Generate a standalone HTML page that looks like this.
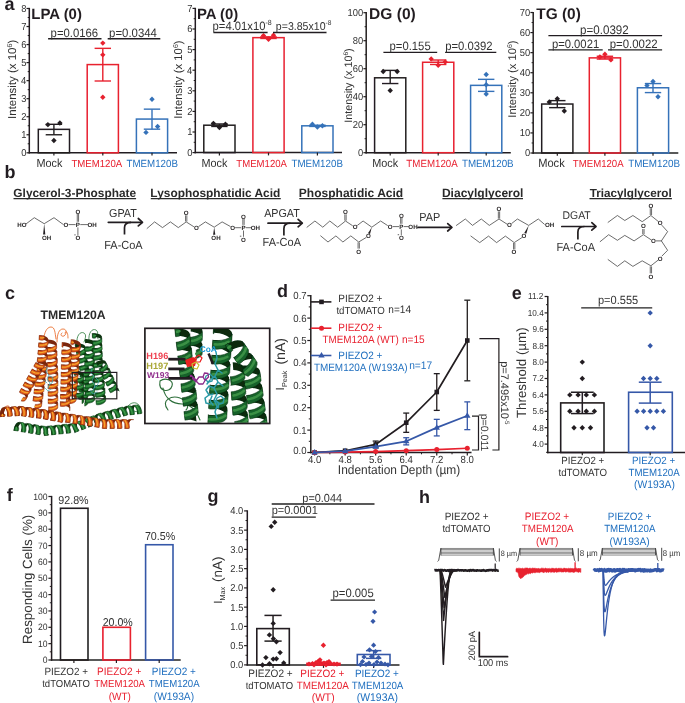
<!DOCTYPE html>
<html><head><meta charset="utf-8"><title>Figure</title>
<style>html,body{margin:0;padding:0;background:#fff;overflow:hidden;}svg{display:block;}</style></head>
<body><svg width="685" height="703" viewBox="0 0 685 703" font-family="'Liberation Sans', Arial, Helvetica, sans-serif" fill="#231f20" text-rendering="geometricPrecision">
<defs><filter id="soft" x="0" y="0" width="1" height="1"><feGaussianBlur stdDeviation="0.35"/></filter></defs>
<rect width="685" height="703" fill="#fff"/>
<g filter="url(#soft)">
<line x1="29.3" y1="7.88" x2="29.3" y2="153.5" stroke="#231f20" stroke-width="1.5"/>
<line x1="28.6" y1="152.8" x2="177" y2="152.8" stroke="#231f20" stroke-width="1.5"/>
<line x1="26.5" y1="152.8" x2="29.3" y2="152.8" stroke="#231f20" stroke-width="1.2"/>
<text x="21.14" y="156.17" font-size="9.4" transform="matrix(1 0 0 1.07 0 -10.93)" fill="#333333">0</text>
<line x1="26.5" y1="134.76" x2="29.3" y2="134.76" stroke="#231f20" stroke-width="1.2"/>
<text x="21.23" y="138.13" font-size="9.4" transform="matrix(1 0 0 1.07 0 -9.67)" fill="#333333">1</text>
<line x1="26.5" y1="116.72" x2="29.3" y2="116.72" stroke="#231f20" stroke-width="1.2"/>
<text x="21.24" y="120.09" font-size="9.4" transform="matrix(1 0 0 1.07 0 -8.41)" fill="#333333">2</text>
<line x1="26.5" y1="98.68" x2="29.3" y2="98.68" stroke="#231f20" stroke-width="1.2"/>
<text x="21.19" y="102.05" font-size="9.4" transform="matrix(1 0 0 1.07 0 -7.14)" fill="#333333">3</text>
<line x1="26.5" y1="80.64" x2="29.3" y2="80.64" stroke="#231f20" stroke-width="1.2"/>
<text x="21.05" y="84.01" font-size="9.4" transform="matrix(1 0 0 1.07 0 -5.88)" fill="#333333">4</text>
<line x1="26.5" y1="62.6" x2="29.3" y2="62.6" stroke="#231f20" stroke-width="1.2"/>
<text x="21.17" y="65.97" font-size="9.4" transform="matrix(1 0 0 1.07 0 -4.62)" fill="#333333">5</text>
<line x1="26.5" y1="44.56" x2="29.3" y2="44.56" stroke="#231f20" stroke-width="1.2"/>
<text x="21.19" y="47.93" font-size="9.4" transform="matrix(1 0 0 1.07 0 -3.35)" fill="#333333">6</text>
<line x1="26.5" y1="26.52" x2="29.3" y2="26.52" stroke="#231f20" stroke-width="1.2"/>
<text x="21.24" y="29.89" font-size="9.4" transform="matrix(1 0 0 1.07 0 -2.09)" fill="#333333">7</text>
<line x1="26.5" y1="8.48" x2="29.3" y2="8.48" stroke="#231f20" stroke-width="1.2"/>
<text x="21.18" y="11.85" font-size="9.4" transform="matrix(1 0 0 1.07 0 -0.83)" fill="#333333">8</text>
<line x1="27.7" y1="143.78" x2="29.3" y2="143.78" stroke="#231f20" stroke-width="1"/>
<line x1="27.7" y1="125.74" x2="29.3" y2="125.74" stroke="#231f20" stroke-width="1"/>
<line x1="27.7" y1="107.7" x2="29.3" y2="107.7" stroke="#231f20" stroke-width="1"/>
<line x1="27.7" y1="89.66" x2="29.3" y2="89.66" stroke="#231f20" stroke-width="1"/>
<line x1="27.7" y1="71.62" x2="29.3" y2="71.62" stroke="#231f20" stroke-width="1"/>
<line x1="27.7" y1="53.58" x2="29.3" y2="53.58" stroke="#231f20" stroke-width="1"/>
<line x1="27.7" y1="35.54" x2="29.3" y2="35.54" stroke="#231f20" stroke-width="1"/>
<line x1="27.7" y1="17.5" x2="29.3" y2="17.5" stroke="#231f20" stroke-width="1"/>
<text x="31.25" y="18.6" font-size="14.96" font-weight="bold">LPA (0)</text>
<text transform="translate(16.2 118.91) rotate(-90)" font-size="11.48" fill="#333333">Intensity (x 10<tspan font-size="7.12" dy="-4.13">6</tspan><tspan dy="4.13">)</tspan></text>
<rect x="38.3" y="129.35" width="31.2" height="23.45" stroke="#231f20" stroke-width="1.5" fill="none"/>
<line x1="53.9" y1="152.8" x2="53.9" y2="155.6" stroke="#231f20" stroke-width="1.2"/>
<line x1="53.9" y1="124.3" x2="53.9" y2="134.76" stroke="#231f20" stroke-width="1.4"/>
<line x1="45.7" y1="124.3" x2="62.1" y2="124.3" stroke="#231f20" stroke-width="1.4"/>
<line x1="45.7" y1="134.76" x2="62.1" y2="134.76" stroke="#231f20" stroke-width="1.4"/>
<path d="M47.9 121.96l2.7 2.7l-2.7 2.7l-2.7 -2.7z" fill="#231f20"/>
<path d="M59.9 120.33l2.7 2.7l-2.7 2.7l-2.7 -2.7z" fill="#231f20"/>
<path d="M53.9 137.83l2.7 2.7l-2.7 2.7l-2.7 -2.7z" fill="#231f20"/>
<rect x="87.2" y="64.58" width="31.2" height="88.22" stroke="#e8202f" stroke-width="1.5" fill="none"/>
<line x1="102.8" y1="152.8" x2="102.8" y2="155.6" stroke="#231f20" stroke-width="1.2"/>
<line x1="102.8" y1="48.35" x2="102.8" y2="81" stroke="#e8202f" stroke-width="1.4"/>
<line x1="94.6" y1="48.35" x2="111" y2="48.35" stroke="#e8202f" stroke-width="1.4"/>
<line x1="94.6" y1="81" x2="111" y2="81" stroke="#e8202f" stroke-width="1.4"/>
<path d="M102.8 40.42l2.7 2.7l-2.7 2.7l-2.7 -2.7z" fill="#e8202f"/>
<path d="M102.8 52.14l2.7 2.7l-2.7 2.7l-2.7 -2.7z" fill="#e8202f"/>
<path d="M102.8 94.54l2.7 2.7l-2.7 2.7l-2.7 -2.7z" fill="#e8202f"/>
<rect x="136.4" y="119.07" width="31.2" height="33.73" stroke="#3572b9" stroke-width="1.5" fill="none"/>
<line x1="152" y1="152.8" x2="152" y2="155.6" stroke="#231f20" stroke-width="1.2"/>
<line x1="152" y1="109.14" x2="152" y2="129.17" stroke="#3572b9" stroke-width="1.4"/>
<line x1="143.8" y1="109.14" x2="160.2" y2="109.14" stroke="#3572b9" stroke-width="1.4"/>
<line x1="143.8" y1="129.17" x2="160.2" y2="129.17" stroke="#3572b9" stroke-width="1.4"/>
<path d="M152 96.52l2.7 2.7l-2.7 2.7l-2.7 -2.7z" fill="#3572b9"/>
<path d="M157.6 123.76l2.7 2.7l-2.7 2.7l-2.7 -2.7z" fill="#3572b9"/>
<path d="M146 129.71l2.7 2.7l-2.7 2.7l-2.7 -2.7z" fill="#3572b9"/>
<line x1="48.1" y1="38.75" x2="101.5" y2="38.75" stroke="#231f20" stroke-width="1.3"/>
<line x1="107.7" y1="38.75" x2="160.3" y2="38.75" stroke="#231f20" stroke-width="1.3"/>
<text x="36.46" y="167.1" font-size="10.87" transform="matrix(1 0 0 1.07 0 -11.7)" fill="#333333">Mock</text>
<text x="71.43" y="167.1" font-size="9.65" transform="matrix(1 0 0 1.07 0 -11.7)" fill="#e8202f">TMEM120A</text>
<text x="126.53" y="167.1" font-size="9.74" transform="matrix(1 0 0 1.07 0 -11.7)" fill="#1f6fbf">TMEM120B</text>
<text x="50.62" y="36.8" font-size="11.32" transform="matrix(1 0 0 1.07 0 -2.58)" fill="#333333">p=0.0166</text>
<text x="109.12" y="36.8" font-size="11.4" transform="matrix(1 0 0 1.07 0 -2.58)" fill="#333333">p=0.0344</text>
<line x1="195.3" y1="7.8" x2="195.3" y2="153.3" stroke="#231f20" stroke-width="1.5"/>
<line x1="194.6" y1="152.6" x2="342" y2="152.6" stroke="#231f20" stroke-width="1.5"/>
<line x1="192.5" y1="152.6" x2="195.3" y2="152.6" stroke="#231f20" stroke-width="1.2"/>
<text x="187.14" y="155.97" font-size="9.4" transform="matrix(1 0 0 1.07 0 -10.92)" fill="#333333">0</text>
<line x1="192.5" y1="132" x2="195.3" y2="132" stroke="#231f20" stroke-width="1.2"/>
<text x="187.23" y="135.37" font-size="9.4" transform="matrix(1 0 0 1.07 0 -9.48)" fill="#333333">1</text>
<line x1="192.5" y1="111.4" x2="195.3" y2="111.4" stroke="#231f20" stroke-width="1.2"/>
<text x="187.24" y="114.77" font-size="9.4" transform="matrix(1 0 0 1.07 0 -8.03)" fill="#333333">2</text>
<line x1="192.5" y1="90.8" x2="195.3" y2="90.8" stroke="#231f20" stroke-width="1.2"/>
<text x="187.19" y="94.17" font-size="9.4" transform="matrix(1 0 0 1.07 0 -6.59)" fill="#333333">3</text>
<line x1="192.5" y1="70.2" x2="195.3" y2="70.2" stroke="#231f20" stroke-width="1.2"/>
<text x="187.05" y="73.57" font-size="9.4" transform="matrix(1 0 0 1.07 0 -5.15)" fill="#333333">4</text>
<line x1="192.5" y1="49.6" x2="195.3" y2="49.6" stroke="#231f20" stroke-width="1.2"/>
<text x="187.17" y="52.97" font-size="9.4" transform="matrix(1 0 0 1.07 0 -3.71)" fill="#333333">5</text>
<line x1="192.5" y1="29" x2="195.3" y2="29" stroke="#231f20" stroke-width="1.2"/>
<text x="187.19" y="32.37" font-size="9.4" transform="matrix(1 0 0 1.07 0 -2.27)" fill="#333333">6</text>
<line x1="192.5" y1="8.4" x2="195.3" y2="8.4" stroke="#231f20" stroke-width="1.2"/>
<text x="187.24" y="11.77" font-size="9.4" transform="matrix(1 0 0 1.07 0 -0.82)" fill="#333333">7</text>
<line x1="193.7" y1="142.3" x2="195.3" y2="142.3" stroke="#231f20" stroke-width="1"/>
<line x1="193.7" y1="121.7" x2="195.3" y2="121.7" stroke="#231f20" stroke-width="1"/>
<line x1="193.7" y1="101.1" x2="195.3" y2="101.1" stroke="#231f20" stroke-width="1"/>
<line x1="193.7" y1="80.5" x2="195.3" y2="80.5" stroke="#231f20" stroke-width="1"/>
<line x1="193.7" y1="59.9" x2="195.3" y2="59.9" stroke="#231f20" stroke-width="1"/>
<line x1="193.7" y1="39.3" x2="195.3" y2="39.3" stroke="#231f20" stroke-width="1"/>
<line x1="193.7" y1="18.7" x2="195.3" y2="18.7" stroke="#231f20" stroke-width="1"/>
<text x="196.95" y="18.6" font-size="14.9" font-weight="bold">PA (0)</text>
<text transform="translate(181.8 118.7) rotate(-90)" font-size="11.35" fill="#333333">Intensity (x 10<tspan font-size="7.04" dy="-4.09">6</tspan><tspan dy="4.09">)</tspan></text>
<rect x="203.8" y="125.2" width="31.2" height="27.4" stroke="#231f20" stroke-width="1.5" fill="none"/>
<line x1="219.4" y1="152.6" x2="219.4" y2="155.4" stroke="#231f20" stroke-width="1.2"/>
<line x1="219.4" y1="123.97" x2="219.4" y2="126.44" stroke="#231f20" stroke-width="1.4"/>
<line x1="211.2" y1="123.97" x2="227.6" y2="123.97" stroke="#231f20" stroke-width="1.4"/>
<line x1="211.2" y1="126.44" x2="227.6" y2="126.44" stroke="#231f20" stroke-width="1.4"/>
<path d="M213.4 120.65l2.7 2.7l-2.7 2.7l-2.7 -2.7z" fill="#231f20"/>
<path d="M225.4 121.47l2.7 2.7l-2.7 2.7l-2.7 -2.7z" fill="#231f20"/>
<path d="M219.4 124.77l2.7 2.7l-2.7 2.7l-2.7 -2.7z" fill="#231f20"/>
<rect x="252.9" y="37.65" width="31.2" height="114.95" stroke="#e8202f" stroke-width="1.5" fill="none"/>
<line x1="268.5" y1="152.6" x2="268.5" y2="155.4" stroke="#231f20" stroke-width="1.2"/>
<line x1="268.5" y1="36.83" x2="268.5" y2="38.48" stroke="#e8202f" stroke-width="1.4"/>
<line x1="260.3" y1="36.83" x2="276.7" y2="36.83" stroke="#e8202f" stroke-width="1.4"/>
<line x1="260.3" y1="38.48" x2="276.7" y2="38.48" stroke="#e8202f" stroke-width="1.4"/>
<path d="M263.5 32.89l2.7 2.7l-2.7 2.7l-2.7 -2.7z" fill="#e8202f"/>
<path d="M273.5 32.48l2.7 2.7l-2.7 2.7l-2.7 -2.7z" fill="#e8202f"/>
<path d="M268.5 36.6l2.7 2.7l-2.7 2.7l-2.7 -2.7z" fill="#e8202f"/>
<rect x="301.8" y="125.82" width="31.2" height="26.78" stroke="#3572b9" stroke-width="1.5" fill="none"/>
<line x1="317.4" y1="152.6" x2="317.4" y2="155.4" stroke="#231f20" stroke-width="1.2"/>
<line x1="317.4" y1="125.2" x2="317.4" y2="126.44" stroke="#3572b9" stroke-width="1.4"/>
<line x1="309.2" y1="125.2" x2="325.6" y2="125.2" stroke="#3572b9" stroke-width="1.4"/>
<line x1="309.2" y1="126.44" x2="325.6" y2="126.44" stroke="#3572b9" stroke-width="1.4"/>
<path d="M312.4 121.47l2.7 2.7l-2.7 2.7l-2.7 -2.7z" fill="#3572b9"/>
<path d="M322.4 123.12l2.7 2.7l-2.7 2.7l-2.7 -2.7z" fill="#3572b9"/>
<path d="M317.4 124.36l2.7 2.7l-2.7 2.7l-2.7 -2.7z" fill="#3572b9"/>
<line x1="213.5" y1="32.5" x2="267.6" y2="32.5" stroke="#231f20" stroke-width="1.3"/>
<line x1="273" y1="32.5" x2="326.5" y2="32.5" stroke="#231f20" stroke-width="1.3"/>
<text x="201.46" y="167.1" font-size="10.87" transform="matrix(1 0 0 1.07 0 -11.7)" fill="#333333">Mock</text>
<text x="236.33" y="167.1" font-size="9.61" transform="matrix(1 0 0 1.07 0 -11.7)" fill="#e8202f">TMEM120A</text>
<text x="291.43" y="167.1" font-size="9.76" transform="matrix(1 0 0 1.07 0 -11.7)" fill="#1f6fbf">TMEM120B</text>
<text x="212.62" y="30.2" font-size="11.25" fill="#333333" transform="matrix(1 0 0 1.07 0 -2.11)">p=4.01x10<tspan font-size="6.98" dy="-4.73">-8</tspan></text>
<text x="275.87" y="30.2" font-size="10.58" fill="#333333" transform="matrix(1 0 0 1.07 0 -2.11)">p=3.85x10<tspan font-size="6.56" dy="-4.44">-8</tspan></text>
<line x1="366.2" y1="12.1" x2="366.2" y2="153.4" stroke="#231f20" stroke-width="1.5"/>
<line x1="365.5" y1="152.7" x2="510.8" y2="152.7" stroke="#231f20" stroke-width="1.5"/>
<line x1="363.4" y1="152.7" x2="366.2" y2="152.7" stroke="#231f20" stroke-width="1.2"/>
<text x="358.04" y="156.07" font-size="9.4" transform="matrix(1 0 0 1.07 0 -10.92)" fill="#333333">0</text>
<line x1="363.4" y1="124.7" x2="366.2" y2="124.7" stroke="#231f20" stroke-width="1.2"/>
<text x="352.81" y="128.07" font-size="9.4" transform="matrix(1 0 0 1.07 0 -8.96)" fill="#333333">20</text>
<line x1="363.4" y1="96.7" x2="366.2" y2="96.7" stroke="#231f20" stroke-width="1.2"/>
<text x="352.81" y="100.07" font-size="9.4" transform="matrix(1 0 0 1.07 0 -7)" fill="#333333">40</text>
<line x1="363.4" y1="68.7" x2="366.2" y2="68.7" stroke="#231f20" stroke-width="1.2"/>
<text x="352.81" y="72.07" font-size="9.4" transform="matrix(1 0 0 1.07 0 -5.04)" fill="#333333">60</text>
<line x1="363.4" y1="40.7" x2="366.2" y2="40.7" stroke="#231f20" stroke-width="1.2"/>
<text x="352.81" y="44.07" font-size="9.4" transform="matrix(1 0 0 1.07 0 -3.08)" fill="#333333">80</text>
<line x1="363.4" y1="12.7" x2="366.2" y2="12.7" stroke="#231f20" stroke-width="1.2"/>
<text x="347.58" y="16.07" font-size="9.4" transform="matrix(1 0 0 1.07 0 -1.12)" fill="#333333">100</text>
<line x1="364.6" y1="138.7" x2="366.2" y2="138.7" stroke="#231f20" stroke-width="1"/>
<line x1="364.6" y1="110.7" x2="366.2" y2="110.7" stroke="#231f20" stroke-width="1"/>
<line x1="364.6" y1="82.7" x2="366.2" y2="82.7" stroke="#231f20" stroke-width="1"/>
<line x1="364.6" y1="54.7" x2="366.2" y2="54.7" stroke="#231f20" stroke-width="1"/>
<line x1="364.6" y1="26.7" x2="366.2" y2="26.7" stroke="#231f20" stroke-width="1"/>
<text x="369.11" y="18.6" font-size="15.57" font-weight="bold">DG (0)</text>
<text transform="translate(352 122.64) rotate(-90)" font-size="10.77" fill="#333333">Intensity (x 10<tspan font-size="6.68" dy="-3.88">6</tspan><tspan dy="3.88">)</tspan></text>
<rect x="374.6" y="77.8" width="31.2" height="74.9" stroke="#231f20" stroke-width="1.5" fill="none"/>
<line x1="390.2" y1="152.7" x2="390.2" y2="155.5" stroke="#231f20" stroke-width="1.2"/>
<line x1="390.2" y1="70.38" x2="390.2" y2="83.54" stroke="#231f20" stroke-width="1.4"/>
<line x1="382" y1="70.38" x2="398.4" y2="70.38" stroke="#231f20" stroke-width="1.4"/>
<line x1="382" y1="83.54" x2="398.4" y2="83.54" stroke="#231f20" stroke-width="1.4"/>
<path d="M383.2 68.8l2.7 2.7l-2.7 2.7l-2.7 -2.7z" fill="#231f20"/>
<path d="M397.2 68.8l2.7 2.7l-2.7 2.7l-2.7 -2.7z" fill="#231f20"/>
<path d="M390.2 87.84l2.7 2.7l-2.7 2.7l-2.7 -2.7z" fill="#231f20"/>
<rect x="422.6" y="62.26" width="31.2" height="90.44" stroke="#e8202f" stroke-width="1.5" fill="none"/>
<line x1="438.2" y1="152.7" x2="438.2" y2="155.5" stroke="#231f20" stroke-width="1.2"/>
<line x1="438.2" y1="60.02" x2="438.2" y2="64.5" stroke="#e8202f" stroke-width="1.4"/>
<line x1="430" y1="60.02" x2="446.4" y2="60.02" stroke="#e8202f" stroke-width="1.4"/>
<line x1="430" y1="64.5" x2="446.4" y2="64.5" stroke="#e8202f" stroke-width="1.4"/>
<path d="M431.2 56.2l2.7 2.7l-2.7 2.7l-2.7 -2.7z" fill="#e8202f"/>
<path d="M438.2 62.5l2.7 2.7l-2.7 2.7l-2.7 -2.7z" fill="#e8202f"/>
<path d="M445.2 59.28l2.7 2.7l-2.7 2.7l-2.7 -2.7z" fill="#e8202f"/>
<rect x="470.6" y="85.36" width="31.2" height="67.34" stroke="#3572b9" stroke-width="1.5" fill="none"/>
<line x1="486.2" y1="152.7" x2="486.2" y2="155.5" stroke="#231f20" stroke-width="1.2"/>
<line x1="486.2" y1="79.34" x2="486.2" y2="91.38" stroke="#3572b9" stroke-width="1.4"/>
<line x1="478" y1="79.34" x2="494.4" y2="79.34" stroke="#3572b9" stroke-width="1.4"/>
<line x1="478" y1="91.38" x2="494.4" y2="91.38" stroke="#3572b9" stroke-width="1.4"/>
<path d="M486.2 71.74l2.7 2.7l-2.7 2.7l-2.7 -2.7z" fill="#3572b9"/>
<path d="M486.2 82.1l2.7 2.7l-2.7 2.7l-2.7 -2.7z" fill="#3572b9"/>
<path d="M486.2 91.34l2.7 2.7l-2.7 2.7l-2.7 -2.7z" fill="#3572b9"/>
<line x1="383.4" y1="52.4" x2="437.2" y2="52.4" stroke="#231f20" stroke-width="1.3"/>
<line x1="445.1" y1="52.4" x2="496.3" y2="52.4" stroke="#231f20" stroke-width="1.3"/>
<text x="372.16" y="167.1" font-size="10.87" transform="matrix(1 0 0 1.07 0 -11.7)" fill="#333333">Mock</text>
<text x="406.33" y="167.1" font-size="9.74" transform="matrix(1 0 0 1.07 0 -11.7)" fill="#e8202f">TMEM120A</text>
<text x="461.93" y="167.1" font-size="9.8" transform="matrix(1 0 0 1.07 0 -11.7)" fill="#1f6fbf">TMEM120B</text>
<text x="389.62" y="50.3" font-size="11.28" transform="matrix(1 0 0 1.07 0 -3.52)" fill="#333333">p=0.155</text>
<text x="445.22" y="50.3" font-size="11.29" transform="matrix(1 0 0 1.07 0 -3.52)" fill="#333333">p=0.0392</text>
<line x1="533.2" y1="11.91" x2="533.2" y2="153.7" stroke="#231f20" stroke-width="1.5"/>
<line x1="532.5" y1="153" x2="678.3" y2="153" stroke="#231f20" stroke-width="1.5"/>
<line x1="530.4" y1="153" x2="533.2" y2="153" stroke="#231f20" stroke-width="1.2"/>
<text x="525.04" y="156.37" font-size="9.4" transform="matrix(1 0 0 1.07 0 -10.95)" fill="#333333">0</text>
<line x1="530.4" y1="132.93" x2="533.2" y2="132.93" stroke="#231f20" stroke-width="1.2"/>
<text x="519.81" y="136.3" font-size="9.4" transform="matrix(1 0 0 1.07 0 -9.54)" fill="#333333">10</text>
<line x1="530.4" y1="112.86" x2="533.2" y2="112.86" stroke="#231f20" stroke-width="1.2"/>
<text x="519.81" y="116.23" font-size="9.4" transform="matrix(1 0 0 1.07 0 -8.14)" fill="#333333">20</text>
<line x1="530.4" y1="92.79" x2="533.2" y2="92.79" stroke="#231f20" stroke-width="1.2"/>
<text x="519.81" y="96.16" font-size="9.4" transform="matrix(1 0 0 1.07 0 -6.73)" fill="#333333">30</text>
<line x1="530.4" y1="72.72" x2="533.2" y2="72.72" stroke="#231f20" stroke-width="1.2"/>
<text x="519.81" y="76.09" font-size="9.4" transform="matrix(1 0 0 1.07 0 -5.33)" fill="#333333">40</text>
<line x1="530.4" y1="52.65" x2="533.2" y2="52.65" stroke="#231f20" stroke-width="1.2"/>
<text x="519.81" y="56.02" font-size="9.4" transform="matrix(1 0 0 1.07 0 -3.92)" fill="#333333">50</text>
<line x1="530.4" y1="32.58" x2="533.2" y2="32.58" stroke="#231f20" stroke-width="1.2"/>
<text x="519.81" y="35.95" font-size="9.4" transform="matrix(1 0 0 1.07 0 -2.52)" fill="#333333">60</text>
<line x1="530.4" y1="12.51" x2="533.2" y2="12.51" stroke="#231f20" stroke-width="1.2"/>
<text x="519.81" y="15.88" font-size="9.4" transform="matrix(1 0 0 1.07 0 -1.11)" fill="#333333">70</text>
<line x1="531.6" y1="142.97" x2="533.2" y2="142.97" stroke="#231f20" stroke-width="1"/>
<line x1="531.6" y1="122.89" x2="533.2" y2="122.89" stroke="#231f20" stroke-width="1"/>
<line x1="531.6" y1="102.82" x2="533.2" y2="102.82" stroke="#231f20" stroke-width="1"/>
<line x1="531.6" y1="82.75" x2="533.2" y2="82.75" stroke="#231f20" stroke-width="1"/>
<line x1="531.6" y1="62.68" x2="533.2" y2="62.68" stroke="#231f20" stroke-width="1"/>
<line x1="531.6" y1="42.61" x2="533.2" y2="42.61" stroke="#231f20" stroke-width="1"/>
<line x1="531.6" y1="22.54" x2="533.2" y2="22.54" stroke="#231f20" stroke-width="1"/>
<text x="536.28" y="18.6" font-size="15.42" font-weight="bold">TG (0)</text>
<text transform="translate(515.6 117.68) rotate(-90)" font-size="11.2" fill="#333333">Intensity (x 10<tspan font-size="6.95" dy="-4.03">6</tspan><tspan dy="4.03">)</tspan></text>
<rect x="541.7" y="104.03" width="31.2" height="48.97" stroke="#231f20" stroke-width="1.5" fill="none"/>
<line x1="557.3" y1="153" x2="557.3" y2="155.8" stroke="#231f20" stroke-width="1.2"/>
<line x1="557.3" y1="100.62" x2="557.3" y2="107.64" stroke="#231f20" stroke-width="1.4"/>
<line x1="549.1" y1="100.62" x2="565.5" y2="100.62" stroke="#231f20" stroke-width="1.4"/>
<line x1="549.1" y1="107.64" x2="565.5" y2="107.64" stroke="#231f20" stroke-width="1.4"/>
<path d="M549.3 99.32l2.7 2.7l-2.7 2.7l-2.7 -2.7z" fill="#231f20"/>
<path d="M557.3 96.11l2.7 2.7l-2.7 2.7l-2.7 -2.7z" fill="#231f20"/>
<path d="M564.3 108.35l2.7 2.7l-2.7 2.7l-2.7 -2.7z" fill="#231f20"/>
<rect x="589.3" y="57.87" width="31.2" height="95.13" stroke="#e8202f" stroke-width="1.5" fill="none"/>
<line x1="604.9" y1="153" x2="604.9" y2="155.8" stroke="#231f20" stroke-width="1.2"/>
<line x1="604.9" y1="56.26" x2="604.9" y2="59.07" stroke="#e8202f" stroke-width="1.4"/>
<line x1="596.7" y1="56.26" x2="613.1" y2="56.26" stroke="#e8202f" stroke-width="1.4"/>
<line x1="596.7" y1="59.07" x2="613.1" y2="59.07" stroke="#e8202f" stroke-width="1.4"/>
<path d="M599.9 54.37l2.7 2.7l-2.7 2.7l-2.7 -2.7z" fill="#e8202f"/>
<path d="M604.9 51.56l2.7 2.7l-2.7 2.7l-2.7 -2.7z" fill="#e8202f"/>
<path d="M610.9 57.18l2.7 2.7l-2.7 2.7l-2.7 -2.7z" fill="#e8202f"/>
<rect x="637.4" y="87.77" width="31.2" height="65.23" stroke="#3572b9" stroke-width="1.5" fill="none"/>
<line x1="653" y1="153" x2="653" y2="155.8" stroke="#231f20" stroke-width="1.2"/>
<line x1="653" y1="83.56" x2="653" y2="92.59" stroke="#3572b9" stroke-width="1.4"/>
<line x1="644.8" y1="83.56" x2="661.2" y2="83.56" stroke="#3572b9" stroke-width="1.4"/>
<line x1="644.8" y1="92.59" x2="661.2" y2="92.59" stroke="#3572b9" stroke-width="1.4"/>
<path d="M647 82.86l2.7 2.7l-2.7 2.7l-2.7 -2.7z" fill="#3572b9"/>
<path d="M653 78.85l2.7 2.7l-2.7 2.7l-2.7 -2.7z" fill="#3572b9"/>
<path d="M658 94.1l2.7 2.7l-2.7 2.7l-2.7 -2.7z" fill="#3572b9"/>
<line x1="548.4" y1="35.7" x2="662.1" y2="35.7" stroke="#231f20" stroke-width="1.3"/>
<line x1="548.4" y1="49.8" x2="602.7" y2="49.8" stroke="#231f20" stroke-width="1.3"/>
<line x1="608" y1="49.8" x2="662.1" y2="49.8" stroke="#231f20" stroke-width="1.3"/>
<text x="538.14" y="167.1" font-size="11.13" transform="matrix(1 0 0 1.07 0 -11.7)" fill="#333333">Mock</text>
<text x="572.83" y="167.1" font-size="9.63" transform="matrix(1 0 0 1.07 0 -11.7)" fill="#e8202f">TMEM120A</text>
<text x="628.13" y="167.1" font-size="9.84" transform="matrix(1 0 0 1.07 0 -11.7)" fill="#1f6fbf">TMEM120B</text>
<text x="580.1" y="33.6" font-size="11.58" transform="matrix(1 0 0 1.07 0 -2.35)" fill="#333333">p=0.0392</text>
<text x="551.92" y="47.7" font-size="11.26" transform="matrix(1 0 0 1.07 0 -3.34)" fill="#333333">p=0.0021</text>
<text x="609.71" y="47.7" font-size="11.41" transform="matrix(1 0 0 1.07 0 -3.34)" fill="#333333">p=0.0022</text>
<text x="13.36" y="196.6" font-size="11.88" font-weight="bold" fill="#2a2a2a">Glycerol-3-Phosphate</text>
<line x1="13.5" y1="198.6" x2="136.1" y2="198.6" stroke="#2a2a2a" stroke-width="1.2"/>
<text x="150.35" y="196.6" font-size="11.9" font-weight="bold" fill="#2a2a2a">Lysophosphatidic Acid</text>
<line x1="150.8" y1="198.6" x2="280.8" y2="198.6" stroke="#2a2a2a" stroke-width="1.2"/>
<text x="298.85" y="196.6" font-size="12.03" font-weight="bold" fill="#2a2a2a">Phosphatidic Acid</text>
<line x1="299.3" y1="198.6" x2="403.3" y2="198.6" stroke="#2a2a2a" stroke-width="1.2"/>
<text x="441.95" y="196.6" font-size="12.03" font-weight="bold" fill="#2a2a2a">Diacylglycerol</text>
<line x1="442.4" y1="198.6" x2="523" y2="198.6" stroke="#2a2a2a" stroke-width="1.2"/>
<text x="589.72" y="196.6" font-size="11.71" font-weight="bold" fill="#2a2a2a">Triacylglycerol</text>
<line x1="589.5" y1="198.6" x2="671.9" y2="198.6" stroke="#2a2a2a" stroke-width="1.2"/>
<line x1="108.3" y1="222.3" x2="141.9" y2="222.3" stroke="#231f20" stroke-width="1.7" stroke-linecap="round"/>
<path d="M138.3 218.5 L142.5 222.3 L138.3 225.9" stroke="#231f20" stroke-width="1.7" fill="none" stroke-linejoin="round" stroke-linecap="round"/>
<path d="M124.5 234.6 L124.5 227.8 Q124.5 222.3 131 222.3" stroke="#231f20" stroke-width="1.7" fill="none"/>
<text x="109.01" y="217.5" font-size="10.79" transform="matrix(1 0 0 1.07 0 -15.23)" fill="#333333">GPAT</text>
<text x="104.25" y="248.6" font-size="10.97" transform="matrix(1 0 0 1.07 0 -17.4)" fill="#333333">FA-CoA</text>
<line x1="268" y1="223.2" x2="301.7" y2="223.2" stroke="#231f20" stroke-width="1.7" stroke-linecap="round"/>
<path d="M298.1 219.4 L302.3 223.2 L298.1 226.8" stroke="#231f20" stroke-width="1.7" fill="none" stroke-linejoin="round" stroke-linecap="round"/>
<path d="M283.9 235.5 L283.9 228.7 Q283.9 223.2 290.4 223.2" stroke="#231f20" stroke-width="1.7" fill="none"/>
<text x="264.13" y="217.5" font-size="10.76" transform="matrix(1 0 0 1.07 0 -15.23)" fill="#333333">APGAT</text>
<text x="262.55" y="246.4" font-size="10.97" transform="matrix(1 0 0 1.07 0 -17.25)" fill="#333333">FA-CoA</text>
<line x1="418" y1="227.4" x2="451.3" y2="227.4" stroke="#231f20" stroke-width="1.7" stroke-linecap="round"/>
<path d="M447.7 223.6 L451.9 227.4 L447.7 231" stroke="#231f20" stroke-width="1.7" fill="none" stroke-linejoin="round" stroke-linecap="round"/>
<text x="419.36" y="220.8" font-size="10.88" transform="matrix(1 0 0 1.07 0 -15.46)" fill="#333333">PAP</text>
<line x1="561.8" y1="226.5" x2="595.4" y2="226.5" stroke="#231f20" stroke-width="1.7" stroke-linecap="round"/>
<path d="M591.8 222.7 L596 226.5 L591.8 230.1" stroke="#231f20" stroke-width="1.7" fill="none" stroke-linejoin="round" stroke-linecap="round"/>
<path d="M577.9 239.4 L577.9 232 Q577.9 226.5 584.4 226.5" stroke="#231f20" stroke-width="1.7" fill="none"/>
<text x="562.49" y="219.3" font-size="10.44" transform="matrix(1 0 0 1.07 0 -15.35)" fill="#333333">DGAT</text>
<text x="556.45" y="250.6" font-size="11.03" transform="matrix(1 0 0 1.07 0 -17.54)" fill="#333333">FA-CoA</text>
<text x="21.9" y="227.43" font-size="6.2" font-weight="bold" text-anchor="middle" fill="#231f20">HO</text>
<path d="M26.2 223.8 L34.3 217.7 L44.2 223.7 L54 217.7 L62 223.6 L63.2 224.3" stroke="#3c3c3c" stroke-width="0.75" fill="none" stroke-linejoin="round" stroke-linecap="round"/>
<path d="M44.2 223.8L43.1 234.6L45.3 234.6z" fill="#231f20"/>
<text x="46.6" y="240.33" font-size="6.2" font-weight="bold" text-anchor="middle" fill="#231f20">OH</text>
<text x="66" y="226.83" font-size="6.2" font-weight="bold" text-anchor="middle" fill="#231f20">O</text>
<line x1="68.5" y1="224.6" x2="75.6" y2="224.6" stroke="#3c3c3c" stroke-width="0.75"/>
<text x="77.9" y="226.83" font-size="6.2" font-weight="bold" text-anchor="middle" fill="#231f20">P</text>
<line x1="80.3" y1="224.6" x2="87.9" y2="224.6" stroke="#3c3c3c" stroke-width="0.75"/>
<text x="92.1" y="226.83" font-size="6.2" font-weight="bold" text-anchor="middle" fill="#231f20">OH</text>
<line x1="77.25" y1="221.8" x2="77.25" y2="214" stroke="#3c3c3c" stroke-width="0.75"/>
<line x1="78.55" y1="221.8" x2="78.55" y2="214" stroke="#3c3c3c" stroke-width="0.75"/>
<text x="77.9" y="213.63" font-size="6.2" font-weight="bold" text-anchor="middle" fill="#231f20">O</text>
<line x1="77.9" y1="227.4" x2="77.9" y2="235.5" stroke="#3c3c3c" stroke-width="0.75"/>
<text x="77.9" y="240.33" font-size="6.2" font-weight="bold" text-anchor="middle" fill="#231f20">O</text>
<line x1="74.3" y1="234.9" x2="75.7" y2="234.9" stroke="#231f20" stroke-width="0.7"/>
<path d="M147.1 228.4 L154.6 221.9 L162.5 227.6 L170.4 221.9 L178.3 227.6 L186.2 221.9 L193.6 226.6" stroke="#3c3c3c" stroke-width="0.75" fill="none" stroke-linejoin="round" stroke-linecap="round"/>
<line x1="185.55" y1="221.5" x2="185.55" y2="215.3" stroke="#3c3c3c" stroke-width="0.75"/>
<line x1="186.85" y1="221.5" x2="186.85" y2="215.3" stroke="#3c3c3c" stroke-width="0.75"/>
<text x="186.2" y="214.83" font-size="6.2" font-weight="bold" text-anchor="middle" fill="#231f20">O</text>
<text x="196.4" y="229.93" font-size="6.2" font-weight="bold" text-anchor="middle" fill="#231f20">O</text>
<path d="M198.8 226.4 L205.4 221.9 L214.2 227.2 L222.1 221.9 L230.2 226.4" stroke="#3c3c3c" stroke-width="0.75" fill="none" stroke-linejoin="round" stroke-linecap="round"/>
<path d="M214.2 227.3L213.1 234.8L215.3 234.8z" fill="#231f20"/>
<text x="216" y="240.23" font-size="6.2" font-weight="bold" text-anchor="middle" fill="#231f20">OH</text>
<text x="232.6" y="229.93" font-size="6.2" font-weight="bold" text-anchor="middle" fill="#231f20">O</text>
<line x1="235.1" y1="227.7" x2="241.2" y2="227.7" stroke="#3c3c3c" stroke-width="0.75"/>
<text x="243.5" y="229.93" font-size="6.2" font-weight="bold" text-anchor="middle" fill="#231f20">P</text>
<line x1="245.9" y1="227.7" x2="251.2" y2="227.7" stroke="#3c3c3c" stroke-width="0.75"/>
<text x="255.4" y="229.93" font-size="6.2" font-weight="bold" text-anchor="middle" fill="#231f20">OH</text>
<line x1="242.85" y1="224.9" x2="242.85" y2="219" stroke="#3c3c3c" stroke-width="0.75"/>
<line x1="244.15" y1="224.9" x2="244.15" y2="219" stroke="#3c3c3c" stroke-width="0.75"/>
<text x="243.5" y="218.63" font-size="6.2" font-weight="bold" text-anchor="middle" fill="#231f20">O</text>
<line x1="243.5" y1="230.5" x2="243.5" y2="236.8" stroke="#3c3c3c" stroke-width="0.75"/>
<text x="243.5" y="241.63" font-size="6.2" font-weight="bold" text-anchor="middle" fill="#231f20">O</text>
<line x1="239.9" y1="236.2" x2="241.3" y2="236.2" stroke="#231f20" stroke-width="0.7"/>
<path d="M307 227.2 L314.9 221 L322.8 227.2 L329.8 221 L337.7 227.2 L345.5 221 L352.4 225.6" stroke="#3c3c3c" stroke-width="0.75" fill="none" stroke-linejoin="round" stroke-linecap="round"/>
<line x1="344.85" y1="220.6" x2="344.85" y2="214.3" stroke="#3c3c3c" stroke-width="0.75"/>
<line x1="346.15" y1="220.6" x2="346.15" y2="214.3" stroke="#3c3c3c" stroke-width="0.75"/>
<text x="345.5" y="214.13" font-size="6.2" font-weight="bold" text-anchor="middle" fill="#231f20">O</text>
<text x="355.2" y="228.83" font-size="6.2" font-weight="bold" text-anchor="middle" fill="#231f20">O</text>
<path d="M357.6 225.2 L363.1 221 L371.8 227.2 L380.6 221 L387.4 225.4" stroke="#3c3c3c" stroke-width="0.75" fill="none" stroke-linejoin="round" stroke-linecap="round"/>
<path d="M371.8 227.2L367.99 233.16L370.01 234.04z" fill="#231f20"/>
<text x="368.3" y="238.43" font-size="6.2" font-weight="bold" text-anchor="middle" fill="#231f20">O</text>
<path d="M366 237.6 L358.7 242 L350.8 235.9 L342.9 242 L335.9 235.9 L328 242 L320.7 235.9" stroke="#3c3c3c" stroke-width="0.75" fill="none" stroke-linejoin="round" stroke-linecap="round"/>
<line x1="358.05" y1="242.4" x2="358.05" y2="248.6" stroke="#3c3c3c" stroke-width="0.75"/>
<line x1="359.35" y1="242.4" x2="359.35" y2="248.6" stroke="#3c3c3c" stroke-width="0.75"/>
<text x="358.7" y="253.53" font-size="6.2" font-weight="bold" text-anchor="middle" fill="#231f20">O</text>
<text x="390.2" y="228.83" font-size="6.2" font-weight="bold" text-anchor="middle" fill="#231f20">O</text>
<line x1="392.7" y1="226.6" x2="399" y2="226.6" stroke="#3c3c3c" stroke-width="0.75"/>
<text x="401.3" y="228.83" font-size="6.2" font-weight="bold" text-anchor="middle" fill="#231f20">P</text>
<line x1="403.7" y1="226.6" x2="408.8" y2="226.6" stroke="#3c3c3c" stroke-width="0.75"/>
<text x="413" y="228.83" font-size="6.2" font-weight="bold" text-anchor="middle" fill="#231f20">OH</text>
<line x1="400.65" y1="223.8" x2="400.65" y2="218" stroke="#3c3c3c" stroke-width="0.75"/>
<line x1="401.95" y1="223.8" x2="401.95" y2="218" stroke="#3c3c3c" stroke-width="0.75"/>
<text x="401.3" y="217.63" font-size="6.2" font-weight="bold" text-anchor="middle" fill="#231f20">O</text>
<line x1="401.3" y1="229.4" x2="401.3" y2="235.3" stroke="#3c3c3c" stroke-width="0.75"/>
<text x="401.3" y="240.13" font-size="6.2" font-weight="bold" text-anchor="middle" fill="#231f20">O</text>
<line x1="397.7" y1="234.7" x2="399.1" y2="234.7" stroke="#231f20" stroke-width="0.7"/>
<path d="M456.4 225.4 L465.3 219 L472.5 225.4 L481.3 219 L489.3 225.4 L499 219 L506.8 224" stroke="#3c3c3c" stroke-width="0.75" fill="none" stroke-linejoin="round" stroke-linecap="round"/>
<line x1="498.35" y1="218.6" x2="498.35" y2="211.4" stroke="#3c3c3c" stroke-width="0.75"/>
<line x1="499.65" y1="218.6" x2="499.65" y2="211.4" stroke="#3c3c3c" stroke-width="0.75"/>
<text x="499" y="211.03" font-size="6.2" font-weight="bold" text-anchor="middle" fill="#231f20">O</text>
<text x="509.4" y="227.13" font-size="6.2" font-weight="bold" text-anchor="middle" fill="#231f20">O</text>
<path d="M511.8 223.4 L517.4 219 L528.7 225.4 L538.3 219 L544.3 224.2" stroke="#3c3c3c" stroke-width="0.75" fill="none" stroke-linejoin="round" stroke-linecap="round"/>
<path d="M528.7 225.4L524.29 232.97L526.31 233.83z" fill="#231f20"/>
<text x="523.9" y="238.33" font-size="6.2" font-weight="bold" text-anchor="middle" fill="#231f20">O</text>
<path d="M521.6 237.8 L514.2 242.6 L505.4 236.1 L496.6 242.6 L488.5 236.1 L479.7 242.6 L470.9 236.1" stroke="#3c3c3c" stroke-width="0.75" fill="none" stroke-linejoin="round" stroke-linecap="round"/>
<line x1="513.55" y1="243" x2="513.55" y2="249.4" stroke="#3c3c3c" stroke-width="0.75"/>
<line x1="514.85" y1="243" x2="514.85" y2="249.4" stroke="#3c3c3c" stroke-width="0.75"/>
<text x="513.8" y="254.43" font-size="6.2" font-weight="bold" text-anchor="middle" fill="#231f20">O</text>
<text x="549.6" y="227.13" font-size="6.2" font-weight="bold" text-anchor="middle" fill="#231f20">OH</text>
<path d="M608.1 222.3 L617.4 215.5 L624.8 220.5 L632.9 215.5 L642.2 221.7 L650.9 215.5 L658.2 221.4" stroke="#3c3c3c" stroke-width="0.75" fill="none" stroke-linejoin="round" stroke-linecap="round"/>
<line x1="650.25" y1="215" x2="650.25" y2="208.2" stroke="#3c3c3c" stroke-width="0.75"/>
<line x1="651.55" y1="215" x2="651.55" y2="208.2" stroke="#3c3c3c" stroke-width="0.75"/>
<text x="650.9" y="207.83" font-size="6.2" font-weight="bold" text-anchor="middle" fill="#231f20">O</text>
<text x="660.2" y="225.23" font-size="6.2" font-weight="bold" text-anchor="middle" fill="#231f20">O</text>
<path d="M662 225.4 L667.6 231.6 L661.4 240.9 L667.6 250.3 L662 256" stroke="#3c3c3c" stroke-width="0.75" fill="none" stroke-linejoin="round" stroke-linecap="round"/>
<text x="660.2" y="260.53" font-size="6.2" font-weight="bold" text-anchor="middle" fill="#231f20">O</text>
<path d="M658 260.2 L650.9 265.8 L642.2 260.8 L632.9 266.4 L624.8 260.8 L617.4 266.4 L608.1 259.6" stroke="#3c3c3c" stroke-width="0.75" fill="none" stroke-linejoin="round" stroke-linecap="round"/>
<line x1="650.25" y1="266.4" x2="650.25" y2="273.4" stroke="#3c3c3c" stroke-width="0.75"/>
<line x1="651.55" y1="266.4" x2="651.55" y2="273.4" stroke="#3c3c3c" stroke-width="0.75"/>
<text x="650.9" y="278.53" font-size="6.2" font-weight="bold" text-anchor="middle" fill="#231f20">O</text>
<path d="M661.4 240.9 L656.2 240.9" stroke="#3c3c3c" stroke-width="0.75" fill="none" stroke-linejoin="round" stroke-linecap="round"/>
<text x="653.4" y="243.13" font-size="6.2" font-weight="bold" text-anchor="middle" fill="#231f20">O</text>
<path d="M650.8 239.6 L643.4 234.7 L634.1 240.9 L624.8 235.4 L617.4 240.3 L608.7 234.7 L600.2 241.6" stroke="#3c3c3c" stroke-width="0.75" fill="none" stroke-linejoin="round" stroke-linecap="round"/>
<line x1="642.75" y1="234.2" x2="642.75" y2="229" stroke="#3c3c3c" stroke-width="0.75"/>
<line x1="644.05" y1="234.2" x2="644.05" y2="229" stroke="#3c3c3c" stroke-width="0.75"/>
<text x="643.4" y="228.33" font-size="6.2" font-weight="bold" text-anchor="middle" fill="#231f20">O</text>
<text x="40.51" y="318.6" font-size="12.23" font-weight="bold" fill="#2a2a2a">TMEM120A</text>
<path d="M44 337 C45 330 48 327 51 327 C55 327 55 333 56 339" stroke="#e8601a" stroke-width="0.8" fill="none" stroke-linecap="round" stroke-linejoin="round"/>
<path d="M57 342 C57 334 59 329 63 329 C67 329 67 334 64 336 C61 337 60 334 62 333" stroke="#e8601a" stroke-width="0.8" fill="none" stroke-linecap="round" stroke-linejoin="round"/>
<path d="M65 333 C66 330 68 332 68 338" stroke="#e8601a" stroke-width="0.8" fill="none" stroke-linecap="round" stroke-linejoin="round"/>
<path d="M77 344 C76 336 80 331 84 333 C87 335 85 339 84 342" stroke="#2a7a3a" stroke-width="0.8" fill="none" stroke-linecap="round" stroke-linejoin="round"/>
<path d="M89 341 C88 333 92 328 96 330 C99 332 97 336 98 339" stroke="#2a7a3a" stroke-width="0.8" fill="none" stroke-linecap="round" stroke-linejoin="round"/>
<path d="M3 411 C5 405 9 404 11 409" stroke="#e8601a" stroke-width="0.8" fill="none" stroke-linecap="round" stroke-linejoin="round"/>
<path d="M128 406 C132 401 138 402 140 407 C141 411 137 413 134 411" stroke="#2a7a3a" stroke-width="0.8" fill="none" stroke-linecap="round" stroke-linejoin="round"/>
<path d="M75.7 348.3L76.5 347.9L77.8 347.6L79.6 347.4L81.6 347.6L83.4 348L84.9 348.8L85.8 349.8L86 351L85.3 347.2L85.1 346L84.2 345L82.7 344.2L80.9 343.8L78.9 343.6L77.1 343.8L75.7 344.1L75 344.5ZM77.1 355.5L77.9 355.2L79.2 354.8L81 354.7L83 354.9L84.9 355.3L86.3 356.1L87.2 357.1L87.3 358.4L86.6 354.6L86.5 353.3L85.6 352.3L84.2 351.5L82.3 351L80.3 350.9L78.5 351L77.1 351.3L76.4 351.7ZM78.5 362.8L79.3 362.4L80.7 362.1L82.5 362L84.5 362.1L86.3 362.6L87.7 363.4L88.5 364.5L88.6 365.7L87.9 361.9L87.8 360.7L87 359.6L85.6 358.8L83.8 358.3L81.8 358.2L80 358.3L78.6 358.6L77.8 359ZM79.8 370L80.7 369.7L82.1 369.4L83.9 369.3L85.9 369.4L87.7 369.9L89.1 370.7L89.9 371.8L90 373L89.3 369.2L89.2 368L88.4 366.9L87 366.1L85.2 365.6L83.2 365.5L81.4 365.6L80 365.9L79.1 366.2ZM80 376.2L80.9 376.1L82.4 376.1L84.2 376.5L86.1 377.2L87.7 378.1L88.9 379.2L89.3 380.5L89 381.7L89.3 377.8L89.6 376.6L89.1 375.4L88 374.2L86.4 373.3L84.5 372.6L82.7 372.3L81.2 372.2L80.3 372.3ZM79.6 383.6L80.5 383.4L82 383.5L83.8 383.9L85.7 384.6L87.3 385.5L88.4 386.7L88.8 387.9L88.5 389.1L88.8 385.3L89.1 384.1L88.7 382.8L87.6 381.7L86 380.7L84.1 380L82.3 379.7L80.8 379.6L79.8 379.7ZM79.1 390.9L80.1 390.8L81.6 390.9L83.4 391.3L85.3 392L86.9 393L88 394.1L88.3 395.4L88 396.6L88.2 392.7L88.6 391.5L88.2 390.3L87.1 389.1L85.5 388.1L83.7 387.5L81.9 387.1L80.3 387L79.4 387.1ZM78.6 398.3L79.6 398.2L81.2 398.3L83 398.7L84.9 399.4L86.5 400.4L87.5 401.6L87.9 402.8L87.5 404L87.7 400.1L88.1 398.9L87.8 397.7L86.7 396.5L85.1 395.6L83.3 394.9L81.5 394.5L79.9 394.3L78.9 394.5Z" fill="#08300f"/>
<path d="M76.5 348.9L75.8 348.8L75.8 348.5L75 344.3L75 344.6L75.7 344.7ZM86 351.2L85.4 352.5L84.3 353.8L82.6 354.8L80.8 355.6L79.1 356L77.8 356.2L77.1 356.1L77.1 355.7L76.4 351.5L76.3 351.8L77 352L78.3 351.8L80 351.4L81.8 350.6L83.5 349.5L84.7 348.3L85.2 347ZM87.3 358.6L86.8 359.9L85.5 361.1L83.9 362.1L82.1 362.9L80.4 363.3L79.1 363.5L78.5 363.3L78.5 363L77.7 358.8L77.7 359.1L78.3 359.2L79.6 359.1L81.3 358.7L83.1 357.9L84.7 356.9L86 355.6L86.6 354.3ZM88.7 365.9L88.1 367.2L86.8 368.4L85.1 369.4L83.3 370.2L81.7 370.6L80.4 370.7L79.8 370.6L79.9 370.3L79.1 366L79 366.4L79.6 366.5L80.9 366.4L82.6 366L84.4 365.2L86 364.2L87.3 363L87.9 361.7ZM90 373.3L89.4 374.5L87.1 376.4L85.2 377L83.3 377.2L81.6 377.2L80.3 377L79.8 376.7L80 376.4L80.3 372.1L80.1 372.4L80.6 372.7L81.8 372.9L83.5 372.9L85.5 372.7L87.3 372.1L88.6 370.3L89.2 369ZM89 381.9L88 383L86.5 383.8L84.6 384.4L82.7 384.6L81 384.6L79.8 384.4L79.3 384.1L79.5 383.8L79.8 379.5L79.6 379.8L80.1 380.1L81.3 380.3L83 380.3L84.9 380.1L86.8 379.5L88.3 378.7L89.3 377.6ZM88.5 389.3L87.5 390.4L85.9 391.2L84 391.8L82.1 392L80.4 392L79.3 391.8L78.8 391.4L79.1 391.2L79.4 386.9L79.1 387.2L79.6 387.5L80.7 387.7L82.4 387.7L84.3 387.5L86.2 386.9L87.8 386.1L88.8 385ZM88 396.8L86.9 397.8L85.3 398.6L83.4 399.2L81.5 399.4L79.9 399.4L78.7 399.1L78.3 398.8L78.6 398.5L78.9 394.2L78.6 394.5L79 394.8L80.1 395.1L81.8 395.1L83.7 394.9L85.6 394.4L87.2 393.5L88.3 392.5ZM87.4 404.2L86.4 405.3L84.7 406.1L85 401.8L86.6 401L87.7 399.9Z" fill="#1a6e2c" stroke="#08300f" stroke-width="0.5"/>
<path d="M85 350.2L83.8 351.4L82.2 352.5L80.4 353.3L78.7 353.7L77.4 353.9M86.3 357.5L85.1 358.8L83.5 359.8L81.6 360.6L80 361L78.7 361.1M87.6 364.9L86.4 366.1L84.7 367.1L82.9 367.9L81.2 368.3M88.9 372.2L87.2 374L85.3 374.6L83.4 374.9L81.7 374.9M88.2 380.6L86.6 381.5L84.8 382L82.8 382.3L81.1 382.2M87.6 388L86.1 388.9L84.2 389.4L82.2 389.6L80.6 389.6M87.1 395.5L85.5 396.3L83.6 396.8L81.7 397L80 397M86.5 402.9L84.9 403.7" stroke="#3f9a48" stroke-width="1.3" fill="none" stroke-linecap="round"/>
<path d="M85.1 343.2L86.2 343L87.8 343L89.7 343.4L91.6 344L93.2 344.9L94.1 346L94.4 347.3L94.4 343.4L94.1 342.2L93.1 341L91.6 340.1L89.7 339.5L87.8 339.2L86.1 339.1L85 339.3ZM84.7 350.8L85.2 350.5L86.4 350.4L88 350.5L90 350.8L91.8 351.5L93.3 352.4L94.3 353.5L94.5 354.8L94.5 350.9L94.2 349.7L93.3 348.5L91.8 347.6L89.9 346.9L88 346.6L86.3 346.5L85.2 346.7L84.7 346.9ZM84.8 358.2L85.3 357.9L86.6 357.8L88.3 357.9L90.2 358.3L92 358.9L93.5 359.9L94.4 361L94.5 362.3L94.5 358.4L94.3 357.2L93.5 356L92 355.1L90.2 354.4L88.2 354L86.5 353.9L85.3 354L84.7 354.3ZM84.8 365.6L85.5 365.3L86.8 365.2L88.5 365.3L90.4 365.7L92.2 366.4L93.7 367.4L94.5 368.6L94.6 369.8L94.5 365.9L94.5 364.7L93.6 363.5L92.2 362.6L90.4 361.8L88.5 361.4L86.7 361.3L85.5 361.4L84.8 361.7ZM84.9 372.9L85.6 372.7L87 372.6L88.7 372.7L90.7 373.2L92.5 373.9L93.8 374.9L94.6 376.1L94.6 377.3L94.6 373.4L94.6 372.2L93.8 371L92.4 370L90.6 369.3L88.7 368.9L86.9 368.7L85.6 368.8L84.9 369.1ZM85 380.3L85.8 380.1L87.2 380L89 380.2L90.9 380.6L92.7 381.4L94 382.4L94.7 383.6L94.6 384.8L94.6 380.9L94.6 379.7L94 378.5L92.6 377.5L90.9 376.7L88.9 376.3L87.1 376.1L85.8 376.2L85 376.4ZM85.1 387.7L86 387.4L87.4 387.4L89.2 387.6L91.1 388.1L92.9 388.9L94.1 389.9L94.8 391.1L94.6 392.3L94.6 388.4L94.7 387.2L94.1 386L92.8 385L91.1 384.2L89.2 383.7L87.4 383.5L85.9 383.6L85.1 383.8ZM85.2 395.1L86.1 394.8L87.6 394.8L89.4 395L91.4 395.5L93.1 396.3L94.3 397.4L94.9 398.6L94.7 399.8L94.6 396L94.8 394.7L94.3 393.5L93 392.5L91.3 391.7L89.4 391.1L87.6 390.9L86.1 391L85.2 391.2ZM85.4 402.4L86.3 402.2L87.8 402.2L87.8 398.3L86.3 398.3L85.3 398.6Z" fill="#08300f"/>
<path d="M94.4 347.5L94 348.7L92.8 349.8L91.2 350.6L89.3 351.2L87.4 351.5L85.9 351.5L84.9 351.3L84.7 351L84.7 346.7L84.9 347L85.9 347.2L87.4 347.2L89.2 346.9L91.1 346.3L92.8 345.5L93.9 344.4L94.4 343.2ZM94.5 355L94 356.2L92.8 357.3L91.1 358.1L89.2 358.7L87.3 358.9L85.8 358.9L84.9 358.7L84.8 358.4L84.7 354.1L84.9 354.4L85.8 354.6L87.3 354.6L89.1 354.4L91 353.8L92.7 353L93.9 351.9L94.5 350.7ZM94.5 362.5L93.9 363.7L92.7 364.7L91 365.6L89.1 366.1L87.2 366.3L85.8 366.3L85 366.1L84.8 365.8L84.8 361.5L84.9 361.8L85.8 362L87.2 362L89 361.8L90.9 361.3L92.6 360.4L93.9 359.4L94.5 358.2ZM94.6 370L93.9 371.2L92.6 372.2L90.9 373L88.9 373.5L87.1 373.7L85.8 373.7L85 373.5L84.9 373.1L84.9 368.8L84.9 369.2L85.7 369.4L87.1 369.4L88.9 369.2L90.8 368.7L92.6 367.9L93.9 366.9L94.5 365.7ZM94.6 377.5L93.9 378.7L92.5 379.7L90.7 380.5L88.8 381L87.1 381.1L85.7 381.1L85 380.8L85 380.5L85 376.2L85 376.5L85.7 376.8L87 376.8L88.8 376.7L90.7 376.2L92.5 375.4L93.8 374.4L94.6 373.2ZM94.6 385L93.8 386.2L92.4 387.2L90.6 387.9L88.7 388.4L87 388.5L85.7 388.5L85 388.2L85.1 387.9L85.1 383.6L85 383.9L85.7 384.2L86.9 384.2L88.7 384.1L90.6 383.6L92.4 382.9L93.8 381.9L94.6 380.7ZM94.6 392.5L93.8 393.7L92.3 394.7L90.5 395.4L88.6 395.8L86.9 395.9L85.7 395.8L85.1 395.6L85.2 395.3L85.2 391L85 391.3L85.6 391.5L86.9 391.6L88.6 391.5L90.5 391.1L92.3 390.4L93.8 389.4L94.6 388.2ZM94.7 400L93.7 401.2L92.3 402.2L90.4 402.8L88.5 403.2L86.8 403.3L85.6 403.2L85.1 402.9L85.4 402.6L85.3 398.3L85.1 398.6L85.6 398.9L86.8 399L88.5 398.9L90.4 398.5L92.2 397.9L93.7 396.9L94.6 395.7Z" fill="#1a6e2c" stroke="#08300f" stroke-width="0.5"/>
<path d="M92.8 347.4L91.2 348.3L89.3 348.9L87.4 349.1L85.9 349.2M92.7 354.9L91.1 355.7L89.1 356.3L87.3 356.6L85.8 356.5M92.7 362.4L90.9 363.2L89 363.7L87.2 364L85.8 363.9M93.9 368.8L92.6 369.9L90.8 370.7L88.9 371.2L87.1 371.4L85.7 371.3M93.9 376.3L92.5 377.3L90.7 378.1L88.8 378.6L87 378.8L85.7 378.7M93.8 383.8L92.4 384.8L90.6 385.6L88.7 386L87 386.2L85.7 386.1M93.8 391.3L92.3 392.3L90.5 393L88.6 393.4L86.9 393.6M93.7 398.8L92.2 399.8L90.4 400.5L88.5 400.9L86.8 401" stroke="#3f9a48" stroke-width="1.3" fill="none" stroke-linecap="round"/>
<path d="M92.4 337.3L93.3 337.1L94.8 337L96.7 337.2L98.6 337.7L100.3 338.5L101.5 339.5L102.1 340.7L101.9 341.9L101.8 338.1L102 336.8L101.4 335.7L100.2 334.6L98.5 333.9L96.6 333.4L94.7 333.2L93.2 333.2L92.3 333.5ZM92.7 344.7L93.6 344.5L95.1 344.4L97 344.6L98.9 345.1L100.6 345.9L101.8 347L102.3 348.2L102.1 349.4L102 345.5L102.2 344.3L101.7 343.1L100.5 342.1L98.8 341.3L96.9 340.8L95 340.6L93.5 340.6L92.6 340.9ZM92.9 352.1L93.9 351.9L95.4 351.8L97.3 352.1L99.2 352.6L100.9 353.4L102.1 354.4L102.6 355.6L102.3 356.8L102.2 353L102.4 351.7L101.9 350.5L100.7 349.5L99.1 348.7L97.2 348.2L95.3 348L93.8 348L92.8 348.3ZM93.2 359.5L94.2 359.3L95.7 359.2L97.6 359.5L99.5 360L101.2 360.8L102.3 361.8L102.8 363L102.5 364.3L102.4 360.4L102.7 359.2L102.2 358L101 356.9L99.4 356.1L97.5 355.6L95.6 355.4L94 355.4L93.1 355.6ZM93.4 366.9L94.4 366.7L96 366.7L97.9 366.9L99.9 367.3L101.5 368L102.7 369L103.3 370.2L103 371.5L102.7 367.6L102.9 366.4L102.4 365.2L101.2 364.2L99.5 363.5L97.6 363L95.7 362.9L94.3 362.8L93.3 363ZM94.1 374.5L95.1 374.2L96.7 374.1L98.6 374.3L100.5 374.7L102.2 375.5L103.4 376.5L103.9 377.6L103.6 378.9L103.3 375L103.6 373.8L103.1 372.6L101.9 371.6L100.2 370.9L98.3 370.4L96.4 370.3L94.8 370.4L93.8 370.6ZM94.8 381.9L95.8 381.6L97.4 381.5L99.3 381.7L101.2 382.1L102.9 382.9L104 383.9L104.5 385L104.2 381.2L103.7 380L102.6 379L100.9 378.2L99 377.8L97.1 377.6L95.5 377.7L94.4 378ZM95 389.5L95.4 389.2L96.5 389L98.1 388.9L100 389L101.9 389.5L103.5 390.3L104.7 391.3L105.1 392.5L104.8 388.6L104.4 387.4L103.2 386.4L101.6 385.6L99.7 385.2L97.8 385L96.2 385.1L95.1 385.4L94.7 385.7ZM95.7 396.9L96.1 396.6L97.1 396.3L98.8 396.2L100.7 396.4L102.6 396.9L104.2 397.7L105.3 398.7L105.7 399.9L105.4 396L105 394.8L103.9 393.8L102.3 393L100.3 392.6L98.4 392.4L96.8 392.5L95.7 392.7L95.3 393ZM96.3 404.3L96 400.4Z" fill="#08300f"/>
<path d="M95.7 338.1L94 338.2L92.8 338.1L92.2 337.9L92.4 337.6L92.3 333.3L92.1 333.6L92.7 333.8L93.9 333.9L95.5 333.8ZM101.9 342.2L101 343.3L99.6 344.3L97.7 345L95.8 345.5L94.2 345.6L93 345.5L92.5 345.3L92.7 344.9L92.6 340.7L92.3 341L92.9 341.2L94 341.3L95.7 341.2L97.6 340.7L99.4 340L100.9 339L101.8 337.9ZM102.1 349.6L101.2 350.8L99.7 351.7L97.9 352.5L96 352.9L94.4 353L93.2 352.9L92.7 352.6L92.9 352.3L92.8 348L92.6 348.3L93.1 348.6L94.2 348.7L95.9 348.6L97.8 348.2L99.6 347.4L101.1 346.5L102 345.3ZM102.3 357L101.4 358.2L99.9 359.2L98.1 359.9L96.2 360.3L94.5 360.4L93.4 360.3L92.9 360L93.2 359.7L93.1 355.4L92.8 355.7L93.3 356L94.4 356.1L96 356L97.9 355.6L99.8 354.9L101.3 353.9L102.2 352.7ZM102.6 364.5L101.6 365.6L100.1 366.6L98.2 367.3L96.3 367.7L94.7 367.8L93.6 367.7L93.1 367.4L93.4 367.1L93.3 362.8L93 363.1L93.5 363.4L94.6 363.5L96.2 363.4L98.1 363L99.9 362.3L101.5 361.3L102.4 360.2ZM103.1 371.7L102.1 372.9L100.6 373.9L98.8 374.7L97 375.2L95.4 375.3L94.3 375.3L93.8 375L94.1 374.7L93.8 370.4L93.5 370.7L93.9 371L95 371.1L96.6 370.9L98.5 370.4L100.3 369.6L101.8 368.6L102.7 367.4ZM103.7 379.1L102.7 380.3L101.2 381.3L99.4 382.1L97.5 382.5L95.9 382.7L94.9 382.6L94.4 382.4L94.8 382.1L94.4 377.8L94.1 378.1L94.5 378.4L95.6 378.4L97.2 378.3L99 377.8L100.8 377L102.3 376L103.3 374.8ZM104.5 385.3L104.2 386.5L103.3 387.7L101.8 388.7L99.9 389.5L98.1 389.9L96.5 390.1L95.4 390L95.1 389.8L94.7 385.5L95.1 385.7L96.1 385.8L97.7 385.6L99.6 385.2L101.4 384.4L102.9 383.4L103.9 382.2L104.2 381ZM105.1 392.7L104.8 393.9L103.8 395.1L102.3 396.1L100.5 396.9L98.6 397.3L97.1 397.5L96 397.4L95.7 397.1L95.3 392.8L95.7 393.1L96.7 393.2L98.3 393L100.1 392.6L101.9 391.8L103.5 390.8L104.5 389.6L104.8 388.4ZM105.8 400.1L105.4 401.3L104.4 402.5L102.9 403.5L101 404.3L99.2 404.7L97.6 404.8L96.6 404.7L96.3 404.5L95.9 400.2L96.3 400.5L97.3 400.6L98.8 400.4L100.7 400L102.5 399.2L104.1 398.2L105.1 397.1L105.4 395.8Z" fill="#1a6e2c" stroke="#08300f" stroke-width="0.5"/>
<path d="M95.6 335.7L93.9 335.9M101 341L99.5 341.9L97.7 342.7L95.8 343.1L94.1 343.2M101.1 348.4L99.7 349.4L97.8 350.1L95.9 350.5L94.3 350.6M101.3 355.8L99.8 356.8L98 357.5L96.1 357.9L94.5 358M101.5 363.3L100 364.2L98.1 364.9L96.3 365.3L94.6 365.4M101.9 370.5L100.5 371.5L98.6 372.3L96.8 372.8L95.2 373M102.5 377.9L101 378.9L99.2 379.7L97.3 380.2L95.7 380.4M103.1 385.3L101.6 386.3L99.7 387.1L97.9 387.6L96.3 387.7M103.6 392.7L102.1 393.8L100.3 394.5L98.4 395L96.9 395.1M104.2 400.2L102.7 401.2L100.8 401.9L99 402.3L97.4 402.5" stroke="#3f9a48" stroke-width="1.3" fill="none" stroke-linecap="round"/>
<path d="M97.8 365.4L98.5 364.9L99.8 364.3L101.6 363.8L103.4 363.6L105.2 363.7L106.6 364.2L107.5 365L107.7 366.2L106.2 362.9L105.9 361.7L105 360.8L103.6 360.3L101.9 360.2L100 360.5L98.3 361L97 361.5L96.2 362.1ZM101 372.1L101.8 371.5L103.2 370.9L104.9 370.5L106.8 370.3L108.5 370.4L109.9 371L110.7 371.9L109.1 368.5L108.3 367.6L107 367.1L105.2 366.9L103.4 367.1L101.6 367.6L100.2 368.2L99.4 368.7ZM103.9 379.1L104.2 378.7L105.1 378.1L106.5 377.6L108.3 377.1L110.2 377L111.8 377.2L113.1 377.8L113.9 378.7L112.3 375.4L111.6 374.4L110.3 373.8L108.6 373.6L106.7 373.8L105 374.2L103.5 374.8L102.6 375.3L102.3 375.7ZM107 385.8L107.4 385.3L108.4 384.8L109.9 384.2L111.7 383.8L113.5 383.7L115.2 383.9L116.4 384.6L117.1 385.6L115.5 382.2L114.8 381.2L113.6 380.6L112 380.3L110.1 380.5L108.3 380.9L106.8 381.4L105.8 382L105.5 382.4ZM110.2 392.4L110.6 392L111.7 391.4L113.2 390.8L115 390.5L116.9 390.4L118.5 390.7L119.7 391.4L118.1 388L116.9 387.4L115.3 387.1L113.5 387.1L111.7 387.5L110.1 388.1L109 388.6L108.6 389.1Z" fill="#08300f"/>
<path d="M97.8 365.9L97.9 365.6L96.1 361.9L96 362.2ZM107.8 366.4L107.4 367.8L106.5 369.2L105.1 370.5L103.7 371.6L102.3 372.3L101.3 372.6L100.9 372.6L101.1 372.2L99.3 368.5L99.1 368.9L99.6 368.9L100.6 368.6L101.9 367.9L103.4 366.8L104.7 365.5L105.7 364.1L106.1 362.7ZM110.8 372.1L110.9 373.3L110.5 374.7L109.4 376.1L108.1 377.4L106.6 378.4L105.3 379.1L104.4 379.4L104 379.3L102.3 375.6L102.6 375.7L103.6 375.4L104.9 374.7L106.4 373.7L107.7 372.4L108.7 371L109.2 369.6L109 368.3ZM114 378.9L114 380.2L113.5 381.6L112.4 383L111 384.2L109.6 385.2L108.3 385.9L107.4 386.1L107.1 385.9L105.4 382.2L105.7 382.4L106.5 382.1L107.8 381.5L109.3 380.5L110.7 379.3L111.8 377.9L112.3 376.4L112.2 375.2ZM117.1 385.8L117.1 387L116.5 388.5L115.4 389.9L114 391.1L112.5 392L111.3 392.6L110.5 392.8L110.3 392.6L108.5 388.9L108.7 389.1L109.5 388.9L110.8 388.3L112.2 387.4L113.6 386.2L114.8 384.7L115.4 383.3L115.4 382.1Z" fill="#1a6e2c" stroke="#08300f" stroke-width="0.5"/>
<path d="M106.5 365.7L105.5 367.2L104.2 368.5L102.7 369.6L101.4 370.3M109.5 372.6L108.5 374.1L107.1 375.3L105.7 376.4L104.3 377M112.5 379.5L111.5 380.9L110.1 382.2L108.6 383.2L107.3 383.8M115.5 386.4L114.4 387.8L113 389.1L111.6 390L110.3 390.6" stroke="#3f9a48" stroke-width="1.2" fill="none" stroke-linecap="round"/>
<path d="M74.3 374.7L75.3 374.5L76.8 374.5L78.7 374.8L80.6 375.3L82.3 376.2L83.4 377.3L83.9 378.5L83.6 379.7L83.6 375.9L83.9 374.6L83.4 373.4L82.3 372.3L80.6 371.5L78.7 370.9L76.8 370.6L75.3 370.6L74.3 370.9ZM74.4 382.1L75.5 381.9L77.1 381.9L79 382.2L80.9 382.9L82.5 383.7L83.5 384.9L83.9 386.1L83.9 382.2L83.5 381L82.5 379.9L80.9 379L79 378.4L77.1 378.1L75.5 378L74.4 378.2ZM74.1 389.7L74.5 389.4L75.7 389.3L77.3 389.4L79.2 389.7L81.1 390.4L82.7 391.3L83.6 392.4L83.9 393.7L83.9 389.8L83.6 388.6L82.7 387.4L81.1 386.5L79.2 385.8L77.3 385.5L75.7 385.4L74.5 385.6L74.1 385.9ZM74.1 397.1L74.7 396.8L75.9 396.7L77.6 396.8L79.5 397.2L81.4 397.9L82.8 398.8L83.7 400L83.9 401.2L83.9 397.4L83.7 396.1L82.8 395L81.4 394L79.5 393.3L77.6 392.9L75.9 392.8L74.7 392.9L74.1 393.2Z" fill="#08300f"/>
<path d="M75.8 375.6L74.6 375.5L74.1 375.2L74.3 374.9L74.3 370.6L74.1 370.9L74.6 371.2L75.8 371.3ZM83.6 379.9L82.6 381.1L81.1 382L79.2 382.6L77.3 383L75.6 383L74.5 382.9L74.1 382.6L74.4 382.3L74.4 378L74.1 378.3L74.5 378.6L75.6 378.7L77.3 378.7L79.2 378.3L81.1 377.7L82.6 376.8L83.6 375.6ZM83.9 386.3L83.5 387.5L82.4 388.6L80.8 389.5L78.9 390.1L77 390.4L75.4 390.4L74.4 390.2L74.1 389.9L74.1 385.6L74.4 385.9L75.4 386.1L77 386.1L78.9 385.8L80.8 385.2L82.4 384.3L83.5 383.2L83.9 382ZM83.9 393.9L83.4 395.1L82.2 396.2L80.5 397L78.6 397.6L76.8 397.8L75.3 397.8L74.3 397.6L74.1 397.3L74.1 393L74.3 393.3L75.3 393.5L76.8 393.5L78.6 393.3L80.5 392.7L82.2 391.9L83.4 390.8L83.9 389.6ZM83.9 401.5L83.3 402.7L82 403.7L82 399.4L83.3 398.4L83.9 397.2Z" fill="#1a6e2c" stroke="#08300f" stroke-width="0.5"/>
<path d="M82.6 378.7L81.1 379.6L79.2 380.3L77.3 380.6L75.6 380.7M82.4 386.3L80.8 387.1L78.9 387.7L77 388L75.4 388.1M82.2 393.8L80.5 394.6L78.6 395.2L76.8 395.5L75.3 395.4" stroke="#3f9a48" stroke-width="1.3" fill="none" stroke-linecap="round"/>
<path d="M70.8 343.7L71.4 343.5L72.7 343.4L74.4 343.7L76.3 344.2L78.1 345.1L79.5 346.2L80.3 347.4L80.4 348.7L80.7 344.8L80.6 343.5L79.8 342.3L78.4 341.2L76.6 340.4L74.7 339.8L73 339.6L71.7 339.6L71.1 339.8ZM70.2 351.1L70.8 350.8L72.1 350.8L73.9 351.1L75.8 351.6L77.6 352.5L79 353.6L79.7 354.8L79.7 356.1L80.1 352.2L80 351L79.3 349.7L77.9 348.6L76.1 347.8L74.2 347.2L72.4 346.9L71.2 347L70.5 347.2ZM69.6 358.4L70.3 358.2L71.6 358.2L73.3 358.5L75.3 359L77 359.9L78.4 361L79.1 362.3L79.1 363.5L79.4 359.6L79.4 358.4L78.7 357.2L77.3 356.1L75.6 355.2L73.7 354.6L71.9 354.3L70.6 354.3L69.9 354.6ZM69 365.8L69.7 365.6L71 365.6L72.8 365.8L74.7 366.4L76.5 367.3L77.8 368.4L78.5 369.7L78.5 370.9L78.8 367.1L78.9 365.8L78.1 364.6L76.8 363.5L75 362.6L73.1 362L71.4 361.7L70 361.7L69.3 361.9ZM68.4 373.1L69.2 372.9L70.5 372.9L72.3 373.2L74.2 373.8L75.9 374.7L77.3 375.9L77.9 377.1L77.9 378.3L78.2 374.5L78.3 373.2L77.6 372L76.3 370.9L74.5 370L72.6 369.4L70.8 369.1L69.5 369.1L68.7 369.3ZM67.8 380.5L68.6 380.3L70 380.3L71.8 380.6L73.7 381.3L75.4 382.2L76.7 383.3L77.4 384.5L77.2 385.8L77.6 381.9L77.7 380.7L77 379.4L75.7 378.3L74 377.4L72.1 376.8L70.3 376.5L68.9 376.5L68.2 376.7ZM67.2 387.9L68 387.7L69.4 387.7L71.2 388L73.1 388.7L74.9 389.6L76.1 390.7L76.8 392L76.6 393.2L76.9 389.3L77.1 388.1L76.5 386.9L75.2 385.7L73.5 384.8L71.5 384.2L69.7 383.9L68.3 383.8L67.6 384ZM66.7 395.2L67.5 395.1L68.9 395.1L70.7 395.4L72.6 396.1L74.3 397L75.6 398.1L76.2 399.4L76 400.6L76.3 396.8L76.5 395.5L75.9 394.3L74.6 393.1L72.9 392.2L71 391.6L69.2 391.2L67.8 391.2L67 391.4ZM66.1 402.6L66.9 402.4L67.2 398.6L66.4 398.7Z" fill="#7a2608"/>
<path d="M73.3 344.7L71.8 344.5L70.9 344.2L70.8 343.9L71.1 339.6L71.3 339.9L72.2 340.2L73.6 340.4ZM80.3 348.9L79.6 350L78.3 351L76.5 351.6L74.5 352L72.6 352.1L71.1 351.9L70.3 351.6L70.2 351.3L70.5 347L70.6 347.3L71.5 347.6L73 347.8L74.8 347.7L76.8 347.4L78.6 346.7L80 345.7L80.7 344.6ZM79.7 356.3L79 357.4L77.6 358.4L75.8 359L73.8 359.4L71.9 359.4L70.5 359.3L69.7 359L69.6 358.6L69.9 354.3L70 354.7L70.8 355L72.3 355.2L74.2 355.1L76.1 354.8L78 354.1L79.3 353.2L80.1 352ZM79.1 363.7L78.3 364.9L76.9 365.8L75.1 366.4L73.1 366.8L71.3 366.8L69.8 366.6L69 366.3L69 366L69.3 361.7L69.4 362L70.2 362.3L71.6 362.5L73.5 362.5L75.5 362.1L77.3 361.5L78.7 360.6L79.4 359.4ZM78.5 371.1L77.7 372.3L76.3 373.2L74.4 373.8L72.4 374.2L70.6 374.2L69.2 374L68.4 373.7L68.4 373.4L68.8 369.1L68.8 369.4L69.5 369.7L71 369.9L72.8 369.9L74.8 369.5L76.6 368.9L78 368L78.8 366.9ZM77.9 378.6L77 379.7L75.6 380.6L73.7 381.2L71.8 381.5L69.9 381.6L68.5 381.4L67.8 381L67.8 380.7L68.2 376.4L68.2 376.8L68.9 377.1L70.3 377.3L72.1 377.2L74.1 376.9L75.9 376.3L77.4 375.4L78.2 374.3ZM77.2 386L76.4 387.1L74.9 388L73.1 388.6L71.1 388.9L69.3 388.9L67.9 388.7L67.2 388.4L67.2 388.1L67.6 383.8L67.5 384.1L68.2 384.4L69.6 384.6L71.4 384.6L73.4 384.3L75.3 383.7L76.7 382.8L77.6 381.7ZM76.6 393.4L75.7 394.5L74.2 395.4L72.4 396L70.4 396.3L68.6 396.3L67.2 396.1L66.6 395.8L66.6 395.5L67 391.2L66.9 391.5L67.6 391.8L68.9 392L70.7 392L72.7 391.7L74.6 391.1L76.1 390.2L77 389.1ZM76 400.8L75.1 401.9L73.6 402.8L71.7 403.4L69.7 403.7L67.9 403.7L66.6 403.4L66 403.1L66.1 402.8L66.4 398.5L66.3 398.8L67 399.2L68.3 399.4L70.1 399.4L72 399.1L73.9 398.5L75.4 397.7L76.3 396.5Z" fill="#dc561a" stroke="#7a2608" stroke-width="0.5"/>
<path d="M73.5 342.3L72 342.2M78.5 348.6L76.7 349.3L74.7 349.6L72.8 349.7L71.3 349.5M79.2 355.1L77.8 356L76 356.7L74 357L72.1 357.1L70.7 356.9M78.5 362.5L77.1 363.4L75.3 364.1L73.3 364.4L71.5 364.5L70 364.3M77.9 369.9L76.5 370.8L74.6 371.5L72.6 371.8L70.8 371.8L69.4 371.6M77.2 377.3L75.8 378.2L73.9 378.9L71.9 379.2L70.1 379.2L68.7 379M76.6 384.8L75.1 385.6L73.2 386.3L71.3 386.6L69.5 386.6L68.1 386.4M75.9 392.2L74.4 393.1L72.6 393.7L70.6 393.9L68.8 393.9L67.4 393.7M75.3 399.6L73.8 400.5L71.9 401L69.9 401.3L68.1 401.3L66.8 401.1" stroke="#f6a82c" stroke-width="1.3" fill="none" stroke-linecap="round"/>
<path d="M37.8 363.7L38.3 363.4L39.4 363.4L41 363.7L42.9 364.3L44.6 365.2L46.1 366.3L46.9 367.6L47 368.9L47.5 365L47.4 363.8L46.6 362.5L45.2 361.4L43.4 360.5L41.6 359.9L40 359.6L38.8 359.6L38.4 359.8ZM36.8 370.9L37.4 370.7L38.6 370.8L40.3 371.1L42.1 371.8L43.9 372.7L45.2 373.9L45.9 375.1L45.9 376.4L46.4 372.5L46.5 371.3L45.7 370L44.4 368.9L42.7 367.9L40.8 367.3L39.1 366.9L37.9 366.9L37.4 367.1ZM35.8 378.2L36.5 378.1L37.8 378.1L39.5 378.5L41.4 379.2L43.1 380.2L44.3 381.4L44.9 382.6L44.8 383.9L45.4 380L45.5 378.8L44.9 377.5L43.6 376.4L41.9 375.4L40.1 374.7L38.4 374.3L37.1 374.2L36.4 374.4ZM34.9 385.5L35.7 385.4L37 385.5L38.8 385.9L40.6 386.7L42.3 387.7L43.4 388.9L44 390.2L43.7 391.4L44.3 387.5L44.5 386.3L44 385.1L42.8 383.9L41.2 382.8L39.3 382.1L37.6 381.7L36.2 381.5L35.4 381.7ZM33.9 392.8L34.8 392.7L36.2 392.9L38 393.3L39.9 394.1L41.5 395.2L42.5 396.4L42.9 397.7L42.6 398.9L43.1 395L43.5 393.8L43.1 392.6L42 391.4L40.4 390.3L38.6 389.5L36.8 389L35.3 388.9L34.5 389ZM33 400.1L34 400L35.5 400.3L37.3 400.8L39.1 401.6L40.6 402.7L41.6 403.9L41.9 405.2L41.5 406.4L42 402.5L42.5 401.4L42.2 400.1L41.2 398.9L39.6 397.8L37.8 396.9L36 396.4L34.5 396.2L33.5 396.3Z" fill="#7a2608"/>
<path d="M38.1 364.2L37.8 363.9L38.4 359.6L38.7 359.9ZM47 369.1L46.3 370.2L45 371.1L43.2 371.7L41.3 372L39.4 372L37.9 371.8L37 371.5L36.8 371.2L37.4 366.9L37.6 367.2L38.5 367.6L40 367.8L41.8 367.8L43.8 367.5L45.6 366.9L46.9 366L47.5 364.8ZM45.9 376.6L45.1 377.7L43.7 378.6L41.9 379.1L39.9 379.4L38.1 379.3L36.7 379.1L35.9 378.8L35.8 378.4L36.4 374.2L36.5 374.5L37.3 374.8L38.7 375.1L40.5 375.1L42.5 374.9L44.3 374.3L45.7 373.4L46.5 372.3ZM44.8 384.1L43.9 385.2L42.5 386L40.6 386.5L38.6 386.7L36.8 386.6L35.5 386.4L34.8 386L34.8 385.7L35.4 381.5L35.4 381.8L36.1 382.1L37.4 382.4L39.2 382.5L41.2 382.3L43.1 381.7L44.5 380.9L45.4 379.8ZM43.7 391.6L42.7 392.6L41.2 393.4L39.3 393.9L37.3 394.1L35.6 393.9L34.3 393.7L33.7 393.3L33.9 393L34.5 388.8L34.3 389.1L34.9 389.4L36.2 389.7L37.9 389.8L39.9 389.6L41.8 389.2L43.3 388.4L44.3 387.3ZM42.6 399.1L41.5 400.1L39.9 400.8L38 401.3L36 401.4L34.3 401.2L33.2 400.9L32.7 400.6L33 400.3L33.6 396.1L33.3 396.3L33.8 396.7L34.9 397L36.6 397.1L38.6 397L40.5 396.6L42.1 395.8L43.2 394.8ZM41.4 406.6L40.3 407.6L38.6 408.3L36.6 408.6L34.7 408.7L35.3 404.4L37.2 404.4L39.2 404L40.9 403.3L42 402.3Z" fill="#dc561a" stroke="#7a2608" stroke-width="0.5"/>
<path d="M45.3 368.8L43.6 369.4L41.6 369.7L39.7 369.7L38.2 369.5M44.1 376.2L42.2 376.8L40.3 377L38.4 377L37 376.8M44.3 382.8L42.8 383.7L40.9 384.2L39 384.4L37.2 384.3L35.8 384M43.1 390.3L41.5 391.1L39.6 391.5L37.6 391.7L35.9 391.6L34.6 391.3M41.8 397.8L40.2 398.5L38.3 398.9L36.3 399L34.7 398.9M40.6 405.2L38.9 405.9L37 406.3L35 406.4" stroke="#f6a82c" stroke-width="1.3" fill="none" stroke-linecap="round"/>
<path d="M62 346.5L62.6 346.2L63.8 346.1L65.6 346.3L67.5 346.8L69.4 347.5L70.8 348.5L71.6 349.7L71.7 351L71.9 347.1L71.8 345.9L70.9 344.7L69.5 343.7L67.6 342.9L65.7 342.4L64 342.2L62.7 342.3L62.1 342.6ZM61.7 353.8L62.4 353.6L63.7 353.5L65.4 353.7L67.4 354.2L69.2 355L70.6 356L71.4 357.2L71.5 358.4L71.6 354.6L71.6 353.3L70.7 352.1L69.3 351.1L67.5 350.3L65.6 349.8L63.8 349.6L62.5 349.7L61.9 350ZM61.5 361.2L62.2 361L63.5 360.9L65.3 361.1L67.2 361.6L69 362.4L70.4 363.5L71.2 364.7L71.2 365.9L71.4 362L71.3 360.8L70.6 359.6L69.2 358.5L67.4 357.7L65.4 357.2L63.7 357L62.3 357.1L61.6 357.4ZM61.3 368.6L62 368.4L63.4 368.3L65.2 368.5L67.1 369L68.9 369.9L70.3 370.9L71 372.1L71 373.4L71.1 369.5L71.1 368.2L70.4 367L69 366L67.2 365.2L65.3 364.7L63.5 364.4L62.1 364.5L61.4 364.7ZM61.1 376L61.8 375.8L63.2 375.7L65 375.9L67 376.5L68.7 377.3L70.1 378.4L70.8 379.6L70.7 380.8L70.8 376.9L70.9 375.7L70.2 374.5L68.9 373.4L67.1 372.6L65.1 372.1L63.3 371.9L61.9 371.9L61.2 372.1ZM60.9 383.4L61.7 383.2L63.1 383.1L64.9 383.4L66.8 383.9L68.6 384.7L69.9 385.8L70.6 387L70.5 388.3L70.6 384.4L70.7 383.2L70 381.9L68.7 380.9L67 380L65 379.5L63.2 379.3L61.8 379.3L61 379.5ZM60.7 390.8L61.5 390.5L62.9 390.5L64.8 390.8L66.7 391.3L68.5 392.2L69.7 393.3L70.4 394.5L70.2 395.7L70.3 391.9L70.5 390.6L69.9 389.4L68.6 388.3L66.8 387.5L64.9 386.9L63.1 386.7L61.6 386.7L60.8 386.9ZM60.5 398.1L61.3 397.9L62.8 397.9L64.7 398.2L66.6 398.8L68.3 399.6L69.6 400.7L70.1 402L70 403.2L70.1 399.3L70.3 398.1L69.7 396.9L68.4 395.8L66.7 394.9L64.8 394.3L62.9 394.1L61.4 394.1L60.6 394.3ZM60.3 405.5L61.2 405.3L62.7 405.3L64.5 405.6L66.5 406.2L68.2 407.1L69.4 408.2L69.9 409.4L69.7 410.7L69.8 406.8L70 405.5L69.5 404.3L68.3 403.2L66.6 402.3L64.6 401.7L62.8 401.5L61.3 401.5L60.4 401.7Z" fill="#7a2608"/>
<path d="M63 347.3L62.1 347L61.9 346.7L62.1 342.4L62.2 342.7L63.1 343ZM71.7 351.2L71.1 352.4L69.7 353.4L68 354.2L66 354.6L64.1 354.8L62.7 354.7L61.8 354.4L61.7 354.1L61.9 349.8L62 350.1L62.8 350.4L64.3 350.5L66.1 350.3L68.1 349.9L69.9 349.1L71.2 348.1L71.9 346.9ZM71.5 358.7L70.8 359.8L69.4 360.8L67.6 361.6L65.7 362L63.8 362.1L62.4 362L61.6 361.8L61.5 361.4L61.6 357.1L61.7 357.5L62.5 357.7L64 357.9L65.8 357.7L67.8 357.3L69.6 356.5L70.9 355.5L71.6 354.4ZM71.2 366.1L70.5 367.3L69.1 368.3L67.3 369L65.3 369.4L63.5 369.5L62.1 369.4L61.3 369.1L61.3 368.8L61.4 364.5L61.4 364.8L62.2 365.1L63.6 365.2L65.5 365.1L67.4 364.7L69.2 364L70.6 363L71.4 361.8ZM71 373.6L70.2 374.7L68.8 375.7L67 376.4L65 376.8L63.2 376.9L61.8 376.8L61 376.5L61.1 376.2L61.2 371.9L61.2 372.2L61.9 372.5L63.3 372.6L65.1 372.5L67.1 372.1L68.9 371.4L70.3 370.4L71.1 369.3ZM70.7 381L69.9 382.2L68.5 383.2L66.6 383.9L64.7 384.2L62.9 384.3L61.5 384.2L60.8 383.9L60.9 383.6L61 379.3L60.9 379.6L61.6 379.9L63 380L64.8 379.9L66.8 379.6L68.6 378.9L70 377.9L70.8 376.7ZM70.5 388.5L69.6 389.6L68.2 390.6L66.3 391.3L64.3 391.7L62.6 391.7L61.2 391.6L60.6 391.3L60.7 391L60.8 386.7L60.7 387L61.4 387.3L62.7 387.4L64.5 387.4L66.4 387L68.3 386.3L69.7 385.3L70.6 384.2ZM70.2 395.9L69.3 397.1L67.8 398L66 398.7L64 399.1L62.2 399.1L61 399L60.3 398.7L60.5 398.4L60.6 394.1L60.5 394.4L61.1 394.7L62.4 394.8L64.1 394.8L66.1 394.4L68 393.7L69.5 392.8L70.3 391.6ZM70 403.4L69 404.5L67.5 405.5L65.7 406.1L63.7 406.5L61.9 406.5L60.7 406.4L60.1 406.1L60.3 405.7L60.4 401.4L60.2 401.8L60.8 402.1L62.1 402.2L63.8 402.2L65.8 401.8L67.7 401.2L69.2 400.2L70.1 399.1ZM69.7 410.9L69.8 406.6Z" fill="#dc561a" stroke="#7a2608" stroke-width="0.5"/>
<path d="M69.8 351L68 351.8L66.1 352.2L64.2 352.4L62.8 352.3M70.9 357.5L69.5 358.5L67.7 359.2L65.7 359.6L63.9 359.8L62.5 359.7M70.6 364.9L69.2 365.9L67.4 366.6L65.4 367.1L63.6 367.2L62.2 367.1M70.3 372.4L68.9 373.4L67 374.1L65.1 374.5L63.2 374.6L61.9 374.4M70 379.8L68.5 380.8L66.7 381.5L64.7 381.9L62.9 382L61.6 381.8M69.7 387.3L68.2 388.2L66.4 388.9L64.4 389.3L62.6 389.4L61.3 389.2M69.4 394.7L67.9 395.7L66.1 396.3L64.1 396.7L62.3 396.8L61 396.6M69.1 402.2L67.6 403.1L65.7 403.8L63.8 404.1L62 404.2" stroke="#f6a82c" stroke-width="1.3" fill="none" stroke-linecap="round"/>
<path d="M48.1 343.6L49.8 343.6L51.8 343.9L53.7 344.4L55.3 345.3L56.4 346.4L56.7 347.6L56.5 343.7L56.2 342.5L55.1 341.4L53.5 340.6L51.6 340L49.6 339.7L48 339.8ZM46.9 351.5L47.4 351.2L48.6 351L50.3 351L52.3 351.3L54.2 351.9L55.8 352.7L56.8 353.8L57.1 355.1L56.9 351.2L56.6 350L55.6 348.9L54 348L52.1 347.4L50.1 347.1L48.4 347.1L47.2 347.3L46.7 347.7ZM47.3 358.9L47.8 358.6L49 358.4L50.8 358.4L52.7 358.7L54.7 359.3L56.2 360.2L57.2 361.3L57.4 362.6L57.2 358.7L57 357.4L56 356.3L54.5 355.4L52.6 354.8L50.6 354.5L48.9 354.5L47.6 354.7L47.1 355ZM47.6 366.3L48.2 366L49.5 365.8L51.3 365.8L53.2 366.1L55.1 366.8L56.6 367.7L57.5 368.8L57.7 370L57.5 366.2L57.4 364.9L56.5 363.8L54.9 362.9L53.1 362.3L51.1 361.9L49.3 361.9L48 362.1L47.4 362.4ZM48 373.6L48.6 373.3L50 373.2L51.7 373.2L53.7 373.5L55.6 374.2L57.1 375.1L57.9 376.5L57.9 377.7L57.9 373.9L57.9 372.6L56.9 371.3L55.4 370.3L53.5 369.7L51.6 369.3L49.8 369.3L48.5 369.5L47.8 369.8ZM48.1 380.8L48.8 380.5L50.2 380.4L52 380.6L53.9 381L55.7 381.8L57.1 382.8L57.9 384L57.9 385.2L57.9 381.4L57.9 380.1L57.1 378.9L55.7 377.9L53.9 377.2L52 376.7L50.2 376.5L48.8 376.6L48.1 376.9ZM48.1 388.2L48.9 387.9L50.3 387.8L52.1 388L54.1 388.5L55.9 389.2L57.2 390.3L57.9 391.5L57.9 392.7L57.9 388.8L57.9 387.6L57.2 386.4L55.9 385.4L54.1 384.6L52.1 384.1L50.3 383.9L48.9 384L48.1 384.3ZM48.1 395.5L49 395.3L50.4 395.2L52.2 395.4L54.2 395.9L56 396.7L57.3 397.8L57.9 399L57.8 400.2L57.8 396.3L57.9 395.1L57.3 393.9L56 392.8L54.2 392L52.2 391.5L50.4 391.4L49 391.4L48.1 391.7ZM48.2 402.9L49 402.7L50.5 402.6L52.4 402.8L54.3 403.4L56.1 404.2L57.4 405.2L58 406.4L57.8 407.7L57.8 403.8L58 402.6L57.4 401.4L56.1 400.3L54.3 399.5L52.4 399L50.5 398.8L49 398.8L48.2 399Z" fill="#7a2608"/>
<path d="M56.7 347.8L56.3 349.1L55.2 350.2L53.5 351.1L51.6 351.8L49.7 352.1L48.2 352.2L47.2 352L46.9 351.7L46.7 347.4L47 347.7L48 347.9L49.5 347.9L51.4 347.5L53.3 346.8L55 345.9L56.1 344.8L56.5 343.5ZM57.1 355.3L56.6 356.5L55.4 357.7L53.7 358.6L51.8 359.2L50 359.6L48.4 359.6L47.5 359.4L47.3 359.1L47.1 354.8L47.3 355.1L48.2 355.3L49.7 355.3L51.6 354.9L53.5 354.3L55.2 353.4L56.4 352.2L56.9 351ZM57.4 362.8L56.9 364L55.7 365.1L54 366L52 366.6L50.2 367L48.7 367L47.8 366.8L47.6 366.5L47.4 362.2L47.6 362.5L48.5 362.7L50 362.7L51.8 362.4L53.8 361.7L55.5 360.8L56.7 359.7L57.2 358.5ZM57.7 370.2L57.1 371.5L55.9 372.6L54.2 373.5L52.2 374.1L50.4 374.4L48.9 374.4L48.1 374.2L48 373.8L47.8 369.6L47.9 369.9L48.7 370.1L50.2 370.1L52 369.8L54 369.2L55.7 368.3L56.9 367.2L57.5 366ZM57.9 378L57.2 379.2L55.9 380.2L54.1 381L52.1 381.5L50.3 381.6L48.9 381.6L48.1 381.3L48.1 381L48.1 376.7L48.1 377L48.9 377.3L50.3 377.3L52.1 377.2L54.1 376.7L55.9 375.9L57.2 374.9L57.9 373.7ZM57.9 385.4L57.2 386.6L55.8 387.7L54 388.4L52 388.9L50.2 389L48.8 389L48.1 388.7L48.1 388.4L48.1 384.1L48.1 384.4L48.8 384.7L50.2 384.7L52 384.6L54 384.1L55.8 383.4L57.2 382.3L57.9 381.1ZM57.9 392.9L57.1 394.1L55.7 395.1L53.8 395.9L51.9 396.3L50.1 396.4L48.8 396.3L48.1 396.1L48.1 395.8L48.1 391.5L48.1 391.8L48.8 392L50.1 392.1L51.9 392L53.8 391.6L55.7 390.8L57.1 389.8L57.9 388.6ZM57.8 400.4L57 401.6L55.5 402.6L53.7 403.3L51.7 403.7L50 403.8L48.7 403.7L48 403.4L48.2 403.1L48.2 398.8L48 399.1L48.7 399.4L50 399.5L51.7 399.4L53.7 399L55.5 398.3L57 397.3L57.8 396.1ZM57.8 407.9L56.9 409.1L55.4 410L53.6 410.7L51.6 411.1L49.9 411.2L48.6 411.1L48.6 406.8L49.9 406.9L51.6 406.8L53.6 406.4L55.4 405.7L56.9 404.8L57.8 403.6Z" fill="#dc561a" stroke="#7a2608" stroke-width="0.5"/>
<path d="M55.1 347.8L53.4 348.8L51.5 349.4L49.6 349.8L48.1 349.8M55.3 355.3L53.6 356.2L51.7 356.9L49.8 357.2L48.3 357.2M55.5 362.8L53.8 363.7L51.9 364.3L50.1 364.6L48.6 364.6M57 369.1L55.8 370.2L54.1 371.1L52.1 371.7L50.3 372L48.8 372M57.2 376.8L55.9 377.8L54.1 378.6L52.1 379.1L50.3 379.3L48.9 379.2M57.2 384.3L55.8 385.3L54 386.1L52 386.5L50.2 386.7L48.8 386.6M57.1 391.8L55.7 392.8L53.8 393.5L51.9 393.9L50.1 394.1L48.8 394M57 399.2L55.5 400.2L53.7 400.9L51.7 401.4L50 401.5L48.7 401.4M56.9 406.7L55.4 407.7L53.6 408.4L51.6 408.8L49.9 408.9" stroke="#f6a82c" stroke-width="1.3" fill="none" stroke-linecap="round"/>
<path d="M39 339.4L39.4 339.2L40.4 339.1L42 339.3L43.7 339.8L45.5 340.5L46.9 341.5L47.8 342.7L48.1 343.9L48.4 340L48.1 338.8L47.2 337.6L45.8 336.6L44 335.9L42.3 335.4L40.7 335.2L39.7 335.3L39.3 335.5ZM38.4 346.8L38.8 346.5L39.9 346.5L41.4 346.7L43.2 347.1L44.9 347.9L46.4 348.9L47.3 350.1L47.5 351.3L47.8 347.4L47.6 346.2L46.7 345.1L45.2 344.1L43.5 343.3L41.7 342.8L40.2 342.6L39.1 342.7L38.7 342.9ZM37.8 354.1L38.3 353.9L39.3 353.9L40.9 354.1L42.7 354.5L44.4 355.3L45.8 356.3L46.7 357.5L46.9 358.7L47.2 354.8L47 353.6L46.1 352.5L44.7 351.5L43 350.7L41.2 350.2L39.6 350L38.6 350.1L38.1 350.3ZM37.2 361.5L37.7 361.3L38.8 361.2L40.3 360.7L41.7 361.9L43 363.3L43.8 364.8L44.1 366.2L43.8 367.4L45.7 364L46 362.9L45.7 361.4L44.9 359.9L43.6 358.5L42.2 357.3L39.1 357.4L38 357.4L37.6 357.6ZM33.9 365.9L34.4 365.9L35.4 366.4L36.8 367.2L38.2 368.4L39.4 369.8L40.3 371.3L40.5 372.8L40.2 373.9L42.1 370.5L42.4 369.4L42.1 368L41.3 366.5L40 365L38.6 363.8L37.3 363L36.3 362.6L35.8 362.6ZM30.3 372.4L30.8 372.4L31.9 372.9L33.2 373.7L34.6 374.9L35.8 376.4L36.7 377.9L36.9 379.3L36.6 380.4L38.5 377L38.8 375.9L38.6 374.5L37.7 373L36.5 371.5L35.1 370.3L33.7 369.5L32.7 369L32.2 369ZM26.7 378.9L27.3 378.9L28.3 379.4L29.7 380.2L31.1 381.4L32.3 382.9L33.1 384.4L33.4 385.8L33 386.9L34.8 383.5L35.2 382.4L35 381L34.2 379.5L32.9 378L31.5 376.8L30.2 376L29.1 375.5L28.6 375.5ZM23.1 385.3L23.7 385.4L24.7 385.8L26.1 386.7L27.5 387.9L28.7 389.4L29.5 390.9L29.8 392.3L29.3 393.4L31.2 390L31.6 388.9L31.4 387.5L30.6 386L29.4 384.6L28 383.3L26.6 382.5L25.6 382L25 382ZM19.5 391.8L20.1 391.9L21.2 392.3L22.5 393.2L24 394.5L25.2 395.9L25.9 397.4L26.2 398.8L25.7 399.9L27.6 396.5L28 395.4L27.8 394L27 392.5L25.8 391.1L24.4 389.8L23.1 388.9L22 388.5L21.4 388.4Z" fill="#7a2608"/>
<path d="M43.7 340L41.9 340.2L40.3 340.1L39.3 339.9L39 339.6L39.3 335.3L39.7 335.6L40.7 335.8L42.2 335.9L44 335.7ZM48.1 344.1L47.6 345.2L46.5 346.2L44.9 347L43 347.4L41.2 347.6L39.7 347.5L38.7 347.3L38.4 347L38.8 342.7L39.1 343L40 343.2L41.6 343.3L43.4 343.1L45.2 342.7L46.8 341.9L47.9 340.9L48.4 339.8ZM47.5 351.5L47 352.6L45.8 353.6L44.2 354.3L42.4 354.8L40.6 354.9L39.1 354.9L38.1 354.6L37.8 354.3L38.2 350.1L38.5 350.3L39.4 350.6L40.9 350.7L42.7 350.5L44.6 350.1L46.2 349.3L47.3 348.3L47.8 347.2ZM46.9 358.9L46.4 360L45.2 361L43.6 361.7L41.7 362.2L39.9 362.3L38.4 362.2L37.5 362L37.2 361.7L37.6 357.4L37.8 357.7L38.8 358L40.3 358L42.1 357.9L43.9 357.5L45.6 356.7L46.7 355.8L47.2 354.6ZM43.7 367.6L42.7 368.4L41.3 368.8L39.5 368.8L37.6 368.4L35.9 367.8L34.6 367.1L33.9 366.5L33.8 366.1L35.9 362.4L36 362.7L36.7 363.3L38 364L39.7 364.7L41.6 365L43.4 365.1L44.8 364.7L45.8 363.9ZM40.1 374.1L39.1 374.9L37.6 375.3L35.8 375.3L34 374.9L32.3 374.2L31 373.6L30.3 373L30.2 372.6L32.3 368.8L32.4 369.2L33.1 369.8L34.4 370.5L36.1 371.1L37.9 371.5L39.7 371.5L41.2 371.2L42.2 370.4ZM36.5 380.6L35.5 381.4L34 381.8L32.2 381.7L30.3 381.3L28.7 380.7L27.4 380L26.7 379.4L26.6 379.1L28.7 375.3L28.8 375.6L29.5 376.2L30.7 376.9L32.4 377.6L34.3 378L36.1 378L37.6 377.6L38.6 376.9ZM32.9 387.1L31.8 387.9L30.3 388.2L28.5 388.2L26.7 387.8L25 387.1L23.8 386.4L23.1 385.9L23 385.5L25.1 381.8L25.2 382.1L25.8 382.7L27.1 383.4L28.8 384L30.6 384.4L32.4 384.5L33.9 384.1L34.9 383.4ZM29.2 393.6L28.2 394.4L26.7 394.7L24.9 394.6L23 394.2L21.4 393.6L20.1 392.9L19.5 392.3L19.4 392L21.5 388.2L21.5 388.6L22.2 389.1L23.5 389.8L25.1 390.5L27 390.9L28.8 391L30.3 390.6L31.3 389.8ZM25.6 400.1L24.6 400.9L23.1 401.2L21.2 401.1L23.3 397.3L25.1 397.4L26.7 397.1L27.7 396.3Z" fill="#dc561a" stroke="#7a2608" stroke-width="0.5"/>
<path d="M43.9 337.7L42 337.8L40.5 337.8M46.7 343.9L45.1 344.6L43.2 345L41.4 345.2L39.9 345.1M46 351.3L44.4 352L42.6 352.4L40.8 352.6L39.3 352.5M45.4 358.7L43.8 359.4L41.9 359.8L40.1 360L38.6 359.9M42.4 366.8L40.6 366.7L38.8 366.3L37.1 365.7L35.8 365M38.8 373.2L37 373.2L35.1 372.8L33.4 372.2L32.1 371.5M35.1 379.7L33.3 379.7L31.5 379.3L29.8 378.6L28.5 377.9M31.5 386.2L29.7 386.1L27.8 385.7L26.2 385.1L24.9 384.4M27.8 392.6L26 392.6L24.2 392.2L22.5 391.5L21.3 390.8M24.2 399.1L22.4 399" stroke="#f6a82c" stroke-width="1.3" fill="none" stroke-linecap="round"/>
<path d="M17.6 431L17.5 430.3L17.7 429L18.2 427.4L18.9 425.7L19.9 424.2L21.1 423.1L22.3 422.6L23.5 422.8L19.7 422.2L18.5 422L17.3 422.5L16.1 423.6L15.1 425.1L14.4 426.8L13.9 428.4L13.7 429.7L13.8 430.4ZM24.9 432.2L24.8 431.5L25 430.2L25.5 428.6L26.2 426.9L27.2 425.4L28.4 424.3L29.6 423.9L30.8 424.1L27 423.4L25.8 423.2L24.6 423.7L23.4 424.8L22.4 426.3L21.7 428L21.2 429.6L21 430.9L21.1 431.6ZM32.2 433.4L32.1 432.7L32.3 431.5L32.8 429.8L33.5 428.2L34.5 426.6L35.7 425.6L36.9 425.1L38.1 425.3L34.3 424.6L33.1 424.4L31.9 424.9L30.7 426L29.7 427.5L29 429.2L28.5 430.8L28.3 432.1L28.4 432.8ZM39.5 434.7L39.4 433.9L39.6 432.7L40.1 431.1L40.8 429.4L41.8 427.9L43 426.8L44.2 426.3L45.4 426.5L41.6 425.9L40.4 425.7L39.2 426.1L38 427.2L37 428.7L36.3 430.4L35.8 432L35.6 433.3L35.7 434ZM48.1 435.2L47.8 434.5L47.6 433.3L47.6 431.6L47.9 429.8L48.5 428L49.3 426.7L50.4 425.9L51.5 425.8L47.7 426.2L46.5 426.3L45.5 427.1L44.6 428.4L44.1 430.2L43.8 432L43.8 433.7L43.9 434.9L44.2 435.6ZM55.4 434.5L55.1 433.8L55 432.5L55 430.8L55.3 429L55.8 427.3L56.7 425.9L57.7 425.1L58.9 425L55.1 425.4L53.9 425.5L52.8 426.3L52 427.7L51.4 429.4L51.1 431.2L51.1 432.9L51.3 434.2L51.6 434.9ZM62.8 433.7L62.5 433L62.3 431.7L62.4 430.1L62.6 428.2L63.2 426.5L64 425.2L65.1 424.4L66.3 424.3L62.4 424.7L61.2 424.8L60.2 425.6L59.4 426.9L58.8 428.6L58.5 430.5L58.5 432.1L58.7 433.4L58.9 434.1ZM70.1 432.9L69.9 432.3L69.7 431L69.7 429.3L70 427.5L70.6 425.8L71.4 424.4L72.5 423.6L73.6 423.5L69.8 423.9L68.6 424L67.6 424.8L66.7 426.2L66.1 427.9L65.9 429.7L65.8 431.4L66 432.7L66.3 433.3ZM78.5 431.1L78 430.5L77.5 429.3L77.1 427.7L76.9 425.9L77 424.1L77.5 422.5L78.3 421.5L79.4 421.1L75.8 422.5L74.7 422.9L73.8 423.9L73.4 425.5L73.3 427.3L73.5 429.1L73.9 430.7L74.4 431.9L74.8 432.5ZM85.4 428.5L84.9 427.9L84.4 426.7L84 425.1L83.8 423.2L83.9 421.4L84.4 419.9L85.2 418.9L86.3 418.4L82.7 419.8L81.6 420.2L80.8 421.3L80.3 422.8L80.2 424.6L80.4 426.5L80.8 428.1L81.3 429.3L81.8 429.8ZM92.3 425.8L91.8 425.2L91.3 424L90.9 422.4L90.7 420.6L90.8 418.8L91.3 417.2L92.1 416.2L93.2 415.8L89.6 417.2L88.5 417.6L87.7 418.6L87.2 420.1L87.1 422L87.3 423.8L87.7 425.4L88.2 426.6L88.7 427.2ZM99.2 423.1L98.7 422.6L98.2 421.4L97.8 419.7L97.6 417.9L97.7 416.1L98.2 414.6L99 413.5L100.1 413.1L96.5 414.5L95.4 414.9L94.6 416L94.1 417.5L94 419.3L94.2 421.1L94.6 422.8L95.1 423.9L95.6 424.5ZM105.8 421L105.4 420.4L105.1 419.2L104.8 417.5L104.8 415.7L105 413.9L105.6 412.4L106.5 411.5L107.7 411.2L104 412.2L102.8 412.5L101.9 413.5L101.3 414.9L101 416.7L101.1 418.6L101.3 420.2L101.7 421.5L102.1 422.1ZM113 419L112.6 418.4L112.2 417.2L111.9 415.5L111.9 413.7L112.2 411.9L112.8 410.4L113.7 409.5L114.8 409.2L111.1 410.2L109.9 410.5L109 411.5L108.4 412.9L108.2 414.7L108.2 416.6L108.5 418.2L108.8 419.5L109.2 420.1ZM120.1 417.1L119.7 416.4L119.3 415.2L119.1 413.5L119 411.7L119.3 409.9L119.9 408.4L120.8 407.5L121.9 407.2L118.2 408.2L117.1 408.5L116.2 409.5L115.6 410.9L115.3 412.7L115.3 414.6L115.6 416.2L116 417.5L116.4 418.1ZM127.2 415.1L126.8 414.4L126.1 413.4L126.1 411.7L126.3 409.9L126.9 408.1L127.7 406.8L128.7 406L129.9 405.9L126 406.3L124.9 406.5L123.8 407.3L123 408.6L122.5 410.4L122.2 412.2L122.3 413.9L123.1 415.5L123.5 416.1ZM133.9 414.4L133.6 413.7L133.4 412.5L133.4 410.8L133.7 409L134.2 407.2L135 405.9L136.1 405.1L137.2 404.9L133.4 405.4L132.2 405.5L131.2 406.3L130.4 407.7L129.8 409.4L129.6 411.3L129.6 413L129.8 414.2L130.1 414.9ZM141.3 413.5L141 412.8L140.8 411.6L140.8 409.9L141 408L137.2 408.5L136.9 410.4L136.9 412L137.1 413.3L137.4 414Z" fill="#08300f"/>
<path d="M18.7 427.6L18.7 429.2L18.4 430.5L18.1 431.1L17.8 431L13.6 430.3L13.9 430.4L14.2 429.7L14.4 428.5L14.5 426.8ZM23.7 422.9L24.7 423.7L25.4 425.2L25.9 426.9L26 428.8L26 430.4L25.7 431.7L25.4 432.3L25.1 432.3L20.9 431.6L21.2 431.6L21.5 431L21.7 429.7L21.8 428.1L21.6 426.2L21.2 424.5L20.5 423L19.5 422.2ZM31 424.1L32 425L32.7 426.4L33.2 428.1L33.3 430L33.3 431.7L33 432.9L32.7 433.5L32.4 433.5L28.2 432.8L28.5 432.8L28.8 432.2L29 430.9L29.1 429.3L28.9 427.4L28.5 425.7L27.8 424.3L26.8 423.4ZM38.3 425.3L39.3 426.2L40 427.6L40.5 429.4L40.6 431.2L40.6 432.9L40.3 434.1L40 434.7L39.7 434.7L35.5 434L35.7 434L36.1 433.4L36.3 432.2L36.4 430.5L36.2 428.7L35.8 426.9L35.1 425.5L34.1 424.6ZM45.6 426.5L46.6 427.4L47.3 428.8L47.8 430.6L47.9 432.4L47.9 434.1L48.7 434.5L48.5 435.2L48.3 435.2L44 435.6L44.2 435.6L44.4 434.9L43.6 433.4L43.7 431.7L43.5 429.9L43.1 428.1L42.4 426.7L41.4 425.8ZM51.8 425.8L52.9 426.3L54 427.5L54.9 429.1L55.6 430.8L55.9 432.5L56 433.7L55.9 434.4L55.6 434.4L51.4 434.9L51.6 434.9L51.7 434.2L51.7 432.9L51.3 431.3L50.7 429.5L49.8 428L48.7 426.8L47.5 426.2ZM59.1 425L60.3 425.6L61.4 426.8L62.3 428.3L62.9 430.1L63.3 431.7L63.4 433L63.2 433.7L63 433.7L58.7 434.1L59 434.1L59.1 433.4L59 432.1L58.7 430.5L58 428.8L57.1 427.2L56 426L54.8 425.5ZM66.5 424.2L67.7 424.8L68.8 426L69.7 427.6L70.3 429.3L70.7 430.9L70.7 432.2L70.6 432.9L70.3 432.9L66.1 433.3L66.3 433.3L66.5 432.6L66.4 431.4L66 429.8L65.4 428L64.5 426.4L63.4 425.3L62.2 424.7ZM73.8 423.5L75 424.1L76.1 425.2L77 426.8L77.7 428.6L78.4 429.1L78.9 430.3L78.9 431L78.7 431L74.6 432.6L74.9 432.5L74.8 431.8L74.4 430.6L73.4 429L72.7 427.3L71.8 425.7L70.8 424.5L69.6 423.9ZM79.6 421L80.9 421.3L82.2 422.1L83.5 423.4L84.6 424.9L85.4 426.4L85.8 427.6L85.8 428.3L85.6 428.4L81.6 429.9L81.8 429.8L81.7 429.1L81.3 427.9L80.6 426.5L79.5 425L78.2 423.7L76.9 422.8L75.6 422.6ZM86.5 418.4L87.8 418.6L89.2 419.5L90.4 420.8L91.5 422.3L92.3 423.8L92.7 424.9L92.7 425.6L92.5 425.7L88.5 427.3L88.7 427.2L88.7 426.5L88.2 425.3L87.5 423.8L86.4 422.3L85.1 421L83.8 420.2L82.5 419.9ZM93.4 415.7L94.7 416L96.1 416.8L97.3 418.1L98.4 419.6L99.2 421.1L99.6 422.3L99.6 423L99.4 423.1L95.4 424.6L95.6 424.5L95.6 423.8L95.2 422.6L94.4 421.2L93.3 419.7L92 418.4L90.7 417.5L89.4 417.3ZM100.3 413.1L101.6 413.3L103.3 414.5L104.5 415.9L105.4 417.5L106 419L106.3 420.2L106.3 420.9L106 421L101.9 422.1L102.1 422.1L102.2 421.4L101.9 420.2L101.2 418.6L100.3 417L99.2 415.6L97.6 414.9L96.3 414.6ZM107.9 411.1L109.2 411.5L110.4 412.5L111.6 413.9L112.5 415.5L113.1 417L113.4 418.2L113.4 418.9L113.2 419L109 420.1L109.3 420.1L109.3 419.4L109 418.2L108.4 416.6L107.5 415L106.3 413.6L105 412.6L103.8 412.3ZM115 409.1L116.3 409.5L117.6 410.5L118.7 411.9L119.6 413.5L120.3 415L120.6 416.2L120.5 416.9L120.3 417L116.1 418.2L116.4 418.1L116.4 417.4L116.1 416.2L115.5 414.6L114.6 413L113.4 411.6L112.2 410.7L110.9 410.3ZM122.2 407.1L123.4 407.5L124.7 408.5L125.9 409.9L126.8 411.5L127.4 413L127.7 414.3L127.7 415L127.4 415L123.3 416.2L123.5 416.1L123.5 415.4L123.2 414.2L122.6 412.7L121.7 411L120.6 409.6L119.3 408.7L118 408.3ZM130.1 405.8L131.3 406.4L132.4 407.5L133.3 409.1L134 410.8L134.4 412.4L134.5 413.7L134.4 414.4L134.1 414.4L129.9 414.9L130.1 414.9L130.2 414.2L130.1 413L129.8 411.4L129.1 409.6L128.2 408.1L127 406.9L125.8 406.4ZM137.4 404.9L138.6 405.5L139.8 406.6L140.7 408.2L141.4 409.9L141.7 411.5L141.9 412.8L141.7 413.5L141.5 413.5L137.2 414L137.5 414L137.6 413.3L137.5 412.1L137.1 410.5L136.4 408.7L135.5 407.2L134.4 406L133.2 405.4Z" fill="#1a6e2c" stroke="#08300f" stroke-width="0.5"/>
<path d="M16.4 427.2L16.3 428.8L16.1 430.1M22.4 423.4L23.1 424.8L23.6 426.5L23.7 428.4L23.6 430L23.4 431.3M29.7 424.6L30.4 426L30.9 427.8L31 429.6L30.9 431.3L30.7 432.5M37 425.8L37.7 427.2L38.2 429L38.3 430.8L38.2 432.5L38 433.7M44.3 427L45 428.4L45.5 430.2L45.6 432L45.5 433.7L46.3 434.7M50.6 426.6L51.7 427.8L52.6 429.3L53.2 431.1L53.6 432.7L53.7 434M58 425.8L59.1 427L60 428.6L60.6 430.3L60.9 431.9L61 433.2M65.3 425.1L66.4 426.2L67.3 427.8L68 429.6L68.3 431.2L68.4 432.4M72.7 424.3L73.8 425.5L74.7 427.1L75.3 428.8L76.2 429.9L76.6 431.1M78.7 422.1L80 423L81.3 424.3L82.4 425.8L83.1 427.3L83.6 428.4M85.6 419.5L86.9 420.3L88.2 421.6L89.3 423.1L90.1 424.6L90.5 425.8M92.5 416.8L93.9 417.7L95.1 419L96.2 420.5L97 421.9L97.4 423.1M99.4 414.2L101 415.1L102.2 416.5L103.1 418.1L103.7 419.6L104 420.9M106.9 412.1L108.2 413.1L109.3 414.5L110.2 416.1L110.9 417.7L111.1 418.9M114 410.1L115.3 411.1L116.4 412.5L117.4 414.1L118 415.7L118.3 416.9M121.1 408.1L122.4 409.1L123.6 410.5L124.5 412.1L125.1 413.7L125.4 414.9M129 406.7L130.1 407.8L131 409.4L131.7 411.1L132.1 412.7L132.2 414M136.3 405.8L137.4 406.9L138.3 408.5L139 410.2L139.4 411.8L139.5 413.1" stroke="#3f9a48" stroke-width="1.3" fill="none" stroke-linecap="round"/>
<path d="M4.2 416.3L3.9 415.6L3.8 414.4L3.9 412.7L4.3 410.9L5 409.2L5.9 407.9L7 407.2L8.2 407.1L4.3 407.3L3.1 407.4L2 408.1L1.1 409.4L0.5 411.1L0.1 412.9L-0 414.6L0.1 415.8L0.3 416.5ZM11.6 415.9L11.3 415.2L11.2 413.9L11.3 412.3L11.7 410.4L12.4 408.8L13.3 407.5L14.4 406.8L15.6 406.7L11.7 406.9L10.5 407L9.4 407.7L8.5 409L7.9 410.7L7.5 412.5L7.4 414.2L7.5 415.4L7.7 416.1ZM18.9 415.5L18.7 414.8L18.6 413.5L18.7 411.8L19.1 410L19.8 408.4L20.7 407.1L22.6 406.8L23.8 407L20 406.5L18.8 406.3L16.8 407.3L15.9 408.6L15.3 410.2L14.9 412.1L14.7 413.7L14.9 415L15.1 415.8ZM25.4 416.3L25.4 415.5L25.5 414.2L25.9 412.6L26.7 410.9L27.6 409.3L28.8 408.3L30 407.8L31.2 408L27.3 407.5L26.2 407.3L24.9 407.7L23.8 408.8L22.8 410.3L22.1 412L21.7 413.7L21.5 415L21.6 415.7ZM32.8 417.3L32.7 416.5L32.8 415.2L33.3 413.5L34 411.8L35 410.3L36.1 409.2L37.3 408.8L38.5 409L34.7 408.5L33.5 408.3L32.3 408.7L31.1 409.8L30.2 411.3L29.4 413L29 414.7L28.9 416L28.9 416.7ZM40.1 418.3L40 417.5L40.2 416.2L40.6 414.5L41.4 412.8L42.3 411.3L43.5 410.2L44.8 409.8L45.9 410.1L42.1 409.5L41 409.2L39.6 409.7L38.5 410.8L37.5 412.3L36.8 414L36.3 415.6L36.2 416.9L36.3 417.7ZM47.3 419.4L47.3 418.6L47.4 417.2L47.9 415.6L48.7 413.9L49.7 412.4L50.9 411.4L52.1 411L53.3 411.3L49.4 410.7L48.3 410.4L47.1 410.8L45.9 411.8L44.9 413.3L44.1 415L43.6 416.6L43.4 418L43.5 418.8ZM54.6 420.5L54.6 419.7L54.8 418.4L55.2 416.7L56 415L57 413.6L58.2 412.5L59.4 412.1L60.6 412.4L56.8 411.8L55.6 411.5L54.4 411.9L53.2 413L52.2 414.4L51.4 416.1L50.9 417.8L50.7 419.1L50.8 419.9ZM61.9 421.6L61.9 420.8L62.1 419.5L62.6 417.9L63.3 416.2L64.4 414.7L65.5 413.7L66.8 413.3L67.9 413.6L64.1 413L62.9 412.7L61.7 413.1L60.5 414.1L59.5 415.6L58.7 417.3L58.3 418.9L58.1 420.2L58.1 421ZM69.2 422.8L69.2 422L69.4 420.6L69.9 419L70.7 417.3L71.7 415.8L72.9 414.8L74.1 414.4L75.2 414.8L71.4 414.2L70.3 413.8L69.1 414.2L67.9 415.2L66.9 416.7L66.1 418.4L65.6 420L65.4 421.4L65.4 422.2ZM76.5 423.9L76.5 423.1L76.7 421.8L77.2 420.1L78 418.4L79 417L80.2 416L81.4 415.6L82.6 415.9L78.7 415.3L77.6 415L76.4 415.4L75.2 416.4L74.2 417.8L73.4 419.5L72.9 421.2L72.7 422.5L72.7 423.3ZM83.8 425.1L83.8 424.3L84 422.9L84.5 421.3L85.3 419.6L86.4 418.1L87.5 417.1L88.8 416.8L89.9 417.1L86.1 416.5L84.9 416.2L83.7 416.5L82.5 417.5L81.5 419L80.7 420.6L80.2 422.3L80 423.6L80 424.5ZM91.1 426.3L91.1 425.4L91.3 424L91.8 422.4L92.6 420.7L93.7 419.3L94.9 418.3L96.1 417.9L97.2 418.3L93.4 417.7L92.3 417.3L91 417.7L89.9 418.7L88.8 420.1L88 421.8L87.5 423.4L87.3 424.8L87.3 425.6ZM98.5 427.4L98.4 426.6L98.6 425.2L99.2 423.5L100 421.9L101 420.4L102.2 419.4L103.4 419.1L104.5 419.5L100.7 418.9L99.6 418.5L98.4 418.8L97.2 419.8L96.1 421.2L95.3 422.9L94.8 424.6L94.6 425.9L94.6 426.8ZM106.5 428.4L106.3 427.5L106.3 426.2L106.6 424.4L107.1 422.6L107.9 421.1L108.9 419.9L110.1 419.4L111.3 419.6L107.4 419.6L106.2 419.4L105.1 419.9L104 421.1L103.2 422.6L102.7 424.4L102.4 426.2L102.4 427.5L102.6 428.4ZM113.9 428.4L113.7 427.5L113.7 426.1L114 424.4L114.5 422.6L115.3 421L116.3 419.9L117.5 419.4L118.7 419.6L114.8 419.6L113.6 419.4L112.5 419.9L111.5 421L110.6 422.6L110.1 424.4L109.8 426.1L109.8 427.5L110 428.4ZM121.3 428.4L121.1 427.5L121.1 426.1L121.4 424.4L121.9 422.6L122.7 421L123.8 419.9L124.9 419.4L126.1 419.6L122.2 419.6L121 419.4L119.9 419.9L118.9 421L118.1 422.6L117.5 424.4L117.2 426.1L117.2 427.5L117.4 428.4ZM128.7 428.4L128.5 427.5L128.5 426.1L128.8 424.3L129.3 422.6L130.2 421L131.2 419.9L132.3 419.4L133.5 419.6L129.6 419.6L128.5 419.4L127.3 419.9L126.3 421L125.5 422.6L124.9 424.3L124.6 426.1L124.6 427.5L124.8 428.4Z" fill="#7a2608"/>
<path d="M4.8 414.4L4.8 415.7L4.6 416.3L4.4 416.3L0.1 416.6L0.4 416.6L0.5 415.9L0.5 414.6ZM8.4 407.1L9.5 407.8L10.6 409L11.4 410.6L11.9 412.4L12.2 414L12.2 415.3L12 416L11.8 415.9L7.5 416.2L7.7 416.2L7.9 415.5L7.9 414.3L7.6 412.6L7.1 410.9L6.3 409.2L5.2 408L4.1 407.3ZM15.8 406.7L16.9 407.4L18 408.6L18.8 410.3L19.3 412L19.6 413.7L19.6 414.9L19.4 415.6L19.2 415.5L14.9 415.8L15.1 415.8L15.3 415.1L15.3 413.9L15 412.3L14.5 410.5L13.7 408.9L12.7 407.6L11.5 407ZM24 407L25 407.9L25.8 409.3L26.3 411.1L26.5 412.9L26.4 414.6L26.2 415.8L25.9 416.4L25.7 416.3L21.4 415.7L21.6 415.8L21.9 415.2L22.2 414L22.2 412.3L22 410.5L21.5 408.7L20.8 407.3L19.8 406.4ZM31.4 408L32.4 408.9L33.1 410.3L33.6 412.1L33.8 414L33.8 415.6L33.5 416.8L33.2 417.4L33 417.3L28.7 416.7L29 416.8L29.3 416.2L29.5 415L29.5 413.4L29.4 411.5L28.9 409.8L28.1 408.3L27.1 407.4ZM38.7 409L39.7 409.9L40.5 411.4L41 413.1L41.1 415L41.1 416.6L40.9 417.8L40.6 418.4L40.3 418.3L36.1 417.7L36.3 417.8L36.6 417.2L36.8 416L36.9 414.4L36.7 412.6L36.2 410.8L35.5 409.4L34.5 408.5ZM46.1 410.1L47.1 411.1L47.9 412.5L48.3 414.3L48.4 416.1L48.3 417.8L48.1 419L47.8 419.5L47.5 419.4L43.3 418.7L43.5 418.8L43.8 418.3L44.1 417.1L44.2 415.5L44 413.6L43.6 411.9L42.9 410.4L41.9 409.5ZM53.5 411.3L54.4 412.2L55.2 413.7L55.6 415.5L55.7 417.3L55.6 418.9L55.4 420.1L55.1 420.7L54.8 420.5L50.6 419.9L50.8 420L51.1 419.5L51.4 418.3L51.5 416.7L51.4 414.8L50.9 413L50.2 411.6L49.2 410.6ZM60.8 412.5L61.8 413.4L62.5 414.9L62.9 416.7L63.1 418.5L62.9 420.1L62.7 421.3L62.4 421.8L62.1 421.7L57.9 421L58.1 421.2L58.4 420.6L58.7 419.5L58.8 417.8L58.7 416L58.2 414.2L57.5 412.7L56.6 411.8ZM68.1 413.6L69.1 414.6L69.8 416.1L70.2 417.9L70.4 419.7L70.3 421.3L70 422.5L69.7 423L69.5 422.8L65.2 422.2L65.4 422.3L65.7 421.8L66 420.6L66.1 419L66 417.2L65.6 415.4L64.8 413.9L63.9 413ZM75.5 414.8L76.4 415.8L77.1 417.2L77.5 419L77.7 420.9L77.6 422.5L77.3 423.6L77 424.1L76.8 424L72.5 423.3L72.7 423.5L73 423L73.3 421.8L73.4 420.2L73.3 418.4L72.9 416.6L72.2 415.1L71.2 414.1ZM82.8 416L83.7 416.9L84.5 418.4L84.9 420.2L85 422.1L84.9 423.7L84.6 424.8L84.3 425.3L84.1 425.1L79.8 424.4L80 424.6L80.3 424.1L80.6 423L80.7 421.4L80.6 419.6L80.2 417.8L79.5 416.3L78.5 415.3ZM90.1 417.1L91.1 418.1L91.8 419.6L92.2 421.4L92.3 423.3L92.2 424.9L91.9 426L91.6 426.5L91.4 426.3L87.1 425.6L87.3 425.8L87.6 425.3L87.9 424.2L88 422.6L87.9 420.8L87.5 419L86.8 417.5L85.9 416.5ZM97.4 418.3L98.4 419.3L99.1 420.8L99.5 422.6L99.6 424.5L99.5 426L99.2 427.2L98.9 427.7L98.7 427.4L94.4 426.8L94.6 427L94.9 426.5L95.2 425.4L95.3 423.8L95.2 422L94.8 420.2L94.1 418.6L93.2 417.6ZM104.8 419.5L105.7 420.5L106.4 422L106.8 423.8L106.9 425.7L106.8 427.2L106.5 428.4L106.2 428.8L106.7 428.4L102.4 428.4L101.9 428.1L102.2 427.7L102.5 426.6L102.6 425L102.5 423.2L102.2 421.3L101.5 419.8L100.5 418.8ZM111.5 419.6L112.6 420.5L113.5 421.9L114.1 423.6L114.5 425.4L114.7 426.9L114.6 428.1L114.3 428.6L114.1 428.4L109.8 428.4L110 428.6L110.3 428.1L110.4 426.9L110.2 425.4L109.8 423.6L109.2 421.9L108.3 420.5L107.2 419.6ZM118.9 419.6L120 420.5L120.9 421.9L121.6 423.6L121.9 425.4L122.1 427L122 428.1L121.7 428.6L121.5 428.4L117.2 428.4L117.4 428.6L117.7 428.1L117.8 427L117.6 425.4L117.3 423.6L116.6 421.9L115.7 420.5L114.6 419.6ZM126.3 419.6L127.4 420.5L128.3 421.9L129 423.6L129.3 425.4L129.5 427L129.4 428.1L129.1 428.6L128.9 428.4L124.6 428.4L124.8 428.6L125.1 428.1L125.2 427L125 425.4L124.7 423.6L124 421.9L123.1 420.5L122 419.6ZM133.7 419.6L129.4 419.6Z" fill="#dc561a" stroke="#7a2608" stroke-width="0.5"/>
<path d="M2.4 414.5L2.5 415.8M7.2 407.9L8.2 409.1L9 410.8L9.6 412.5L9.8 414.2L9.8 415.4M14.6 407.5L15.6 408.8L16.4 410.4L17 412.2L17.2 413.8L17.2 415M22.7 407.6L23.5 409L23.9 410.8L24.1 412.6L24.1 414.2L23.9 415.5M30 408.6L30.8 410L31.3 411.8L31.5 413.6L31.4 415.3L31.2 416.5M37.4 409.6L38.1 411.1L38.6 412.8L38.8 414.7L38.7 416.3L38.5 417.5M44.8 410.7L45.5 412.2L46 413.9L46.1 415.8L46 417.4L45.7 418.6M52.1 411.9L52.8 413.3L53.3 415.1L53.4 417L53.3 418.6L53 419.8M59.4 413L60.2 414.5L60.6 416.3L60.7 418.1L60.6 419.8L60.3 420.9M66.8 414.2L67.5 415.7L67.9 417.5L68 419.3L67.9 420.9M74.1 415.4L74.8 416.9L75.2 418.7L75.3 420.5L75.2 422.1M81.4 416.6L82.1 418.1L82.5 419.9L82.6 421.7L82.5 423.3M88.7 417.8L89.4 419.3L89.8 421.1L89.9 422.9L89.8 424.5M96.1 418.9L96.7 420.5L97.1 422.3L97.3 424.1L97.1 425.7M103.4 420.1L104.1 421.7L104.5 423.5L104.6 425.3L104.4 426.9M110.2 420.5L111.1 421.9L111.8 423.6L112.2 425.4L112.3 426.9M117.6 420.5L118.5 421.9L119.2 423.6L119.6 425.4L119.7 427M125 420.5L125.9 421.9L126.6 423.6L127 425.4L127.1 427" stroke="#f6a82c" stroke-width="1.3" fill="none" stroke-linecap="round"/>
<path d="M4.2 416.3L3.9 415.6L3.8 414.4L3.9 412.7L4.3 410.9L5 409.2L5.9 407.9L7 407.2L8.2 407.1L4.3 407.3L3.1 407.4L2 408.1L1.1 409.4L0.5 411.1L0.1 412.9L-0 414.6L0.1 415.8L0.3 416.5ZM11.6 415.9L11.3 415.2L11.2 413.9L11.3 412.2L11.7 410.4L12.4 408.7L13.3 407.4L14.4 406.8L15.6 406.7L11.7 406.9L10.6 407L9.5 407.7L8.5 408.9L7.9 410.6L7.5 412.4L7.4 414.1L7.5 415.4L7.7 416.1ZM18.9 415.5L18.7 414.8L18.6 413.5L18.7 411.8L19.1 410L19.8 408.3L20.7 407L22.7 406.8L23.8 407L20 406.5L18.8 406.3L16.9 407.2L15.9 408.5L15.3 410.2L14.9 412L14.7 413.7L14.8 415L15.1 415.7ZM25.4 416.2L25.4 415.5L25.5 414.1L26 412.5L26.7 410.8L27.7 409.3L28.8 408.2L30 407.8L31.2 408L27.4 407.5L26.2 407.3L25 407.7L23.9 408.8L22.9 410.3L22.1 412L21.7 413.6L21.5 414.9L21.6 415.7ZM32.8 417.2L32.7 416.4L32.9 415.1L33.3 413.4L34.1 411.7L35 410.2L36.2 409.2L37.4 408.8L38.6 409L34.7 408.5L33.6 408.2L32.4 408.7L31.2 409.7L30.2 411.2L29.5 412.9L29 414.6L28.9 415.9L28.9 416.7ZM40.1 418.2L40 417.4L40.2 416L40.7 414.4L41.4 412.7L42.4 411.2L43.8 410.3L45 410L46.2 410.3L42.4 409.6L41.2 409.2L40 409.5L38.6 410.7L37.6 412.2L36.8 413.9L36.4 415.5L36.2 416.9L36.3 417.7ZM47.1 419.5L47.1 418.7L47.3 417.3L47.9 415.7L48.8 414.1L49.9 412.6L51.1 411.7L52.3 411.4L53.5 411.8L49.7 411L48.5 410.6L47.3 410.9L46.1 411.9L45 413.3L44.1 414.9L43.5 416.6L43.3 417.9L43.3 418.8ZM54.3 421L54.3 420.1L54.6 418.7L55.2 417.1L56.1 415.5L57.2 414.1L58.4 413.1L59.6 412.9L60.7 413.3L56.9 412.5L55.8 412.1L54.6 412.4L53.4 413.3L52.3 414.7L51.4 416.3L50.8 418L50.5 419.3L50.5 420.2ZM61.6 422.4L61.6 421.5L61.9 420.1L58.1 419.4L57.8 420.8L57.8 421.6Z" fill="#7a2608"/>
<path d="M4.8 414.4L4.8 415.7L4.6 416.3L4.4 416.3L0.1 416.6L0.4 416.6L0.5 415.9L0.5 414.6ZM8.4 407.1L9.6 407.8L10.6 409L11.4 410.6L11.9 412.4L12.2 414.1L12.2 415.3L12 416L11.8 415.9L7.5 416.2L7.7 416.2L7.9 415.5L7.9 414.3L7.6 412.6L7.1 410.9L6.3 409.2L5.3 408L4.1 407.3ZM15.8 406.7L17 407.4L18 408.7L18.8 410.3L19.3 412.1L19.6 413.7L19.6 414.9L19.4 415.6L19.2 415.5L14.9 415.8L15.1 415.8L15.3 415.2L15.3 413.9L15 412.3L14.5 410.5L13.7 408.9L12.7 407.6L11.5 407ZM24.1 407L25.1 407.9L25.8 409.4L26.3 411.2L26.5 413L26.4 414.6L26.2 415.8L25.9 416.4L25.6 416.3L21.4 415.7L21.6 415.8L21.9 415.2L22.2 414L22.2 412.4L22 410.6L21.6 408.8L20.8 407.4L19.8 406.5ZM31.4 408.1L32.4 409L33.2 410.4L33.6 412.2L33.8 414L33.7 415.7L33.5 416.8L33.2 417.4L33 417.3L28.7 416.7L29 416.8L29.2 416.3L29.5 415.1L29.6 413.5L29.4 411.6L28.9 409.9L28.2 408.4L27.2 407.5ZM38.8 409.1L39.8 410L40.5 411.5L41 413.3L41.1 415.1L41.1 416.7L40.8 417.9L40.5 418.4L40.3 418.2L36 417.7L36.3 417.8L36.6 417.3L36.8 416.1L36.9 414.5L36.7 412.7L36.3 410.9L35.5 409.4L34.5 408.5ZM46.4 410.4L47.3 411.4L47.9 412.9L48.3 414.7L48.3 416.5L48.2 418.1L47.8 419.3L47.5 419.8L47.3 419.6L43.1 418.7L43.3 418.9L43.6 418.4L43.9 417.3L44.1 415.7L44.1 413.9L43.7 412.1L43.1 410.5L42.2 409.5ZM53.7 411.8L54.6 412.9L55.2 414.4L55.5 416.2L55.6 418L55.4 419.6L55.1 420.7L54.8 421.2L54.5 421L50.3 420.2L50.5 420.4L50.9 419.9L51.2 418.8L51.4 417.2L51.3 415.4L51 413.6L50.4 412L49.5 411ZM61 413.3L61.9 414.4L62.5 415.9L62.8 417.7L62.8 419.6L62.6 421.1L62.3 422.2L62 422.7L61.8 422.4L57.6 421.6L57.8 421.8L58.1 421.4L58.4 420.3L58.6 418.7L58.6 416.9L58.3 415.1L57.6 413.5L56.7 412.5Z" fill="#dc561a" stroke="#7a2608" stroke-width="0.5"/>
<path d="M2.4 414.5L2.5 415.8M7.2 407.9L8.2 409.1L9 410.8L9.6 412.5L9.8 414.2L9.8 415.4M14.6 407.5L15.6 408.8L16.4 410.4L17 412.2L17.2 413.8L17.2 415.1M22.7 407.6L23.5 409.1L24 410.8L24.1 412.7L24.1 414.3L23.8 415.5M30.1 408.7L30.8 410.1L31.3 411.9L31.5 413.7L31.4 415.4L31.2 416.5M37.4 409.7L38.2 411.2L38.6 412.9L38.8 414.8L38.7 416.4M45 410.9L45.6 412.4L46 414.2L46 416.1L45.8 417.7M52.3 412.4L52.9 413.9L53.2 415.8L53.3 417.6L53.1 419.2M59.5 413.9L60.2 415.4L60.5 417.3L60.5 419.1L60.3 420.7" stroke="#f6a82c" stroke-width="1.3" fill="none" stroke-linecap="round"/>
<path d="M47 367 L46 372 L49 375 L47 379 L50 383 L48 388 M44 380 L47 383 M50 376 L53 378 L52 383 L49 385 M45 388 L48 391 L51 389" stroke="#3aa8b0" stroke-width="0.7" fill="none" stroke-linecap="round" stroke-linejoin="round"/>
<path d="M92 368 L91 373 L94 376 L92 381 L95 385 L93 391 M96 378 L99 381 L97 386 L94 388 M90 390 L93 394 L97 392" stroke="#3aa8b0" stroke-width="0.7" fill="none" stroke-linecap="round" stroke-linejoin="round"/>
<rect x="72.3" y="372.4" width="44.5" height="26.4" stroke="#231f20" stroke-width="1.2" fill="none"/>
<clipPath id="ins"><rect x="145.5" y="328.9" width="122.7" height="93.9"/></clipPath>
<g clip-path="url(#ins)">
<path d="M168 410 C160 400 172 395 180 398 C186 400 190 406 186 410 M160 381 C158 392 170 393 172 386 C174 380 165 377 160 381 M163 388 C165 398 172 404 182 404 C190 404 196 410 200 420" stroke="#2d6e3a" stroke-width="1.1" fill="none" stroke-linecap="round" stroke-linejoin="round"/>
<path d="M190.7 331.5L192.6 331.8L195 332.4L197.6 333.3L199.9 334.6L201.6 336.1L202.4 337.9L202.3 339.7L202.3 331.9L202.4 330.1L201.6 328.4L199.9 326.9L197.6 325.6L195 324.6L192.6 324.1L190.7 323.8ZM189.8 345.5L191 345.6L193 345.9L195.5 346.5L198 347.5L200.3 348.8L201.8 350.4L202.5 352.2L202.1 354L202.1 346.2L202.5 344.5L201.8 342.7L200.3 341.1L198 339.8L195.5 338.8L193 338.1L191 337.8L189.8 337.7Z" fill="#072a0e"/>
<path d="M202.3 340.1L201.1 341.8L199.2 343.2L196.7 344.4L194.2 345.2L191.9 345.7L190.3 345.9L189.5 345.9L189.8 345.9L189.8 337.3L189.5 337.3L190.3 337.3L191.9 337.1L194.2 336.6L196.7 335.8L199.2 334.6L201.1 333.2L202.3 331.5ZM202.1 354.4L200.8 356.1L198.8 357.5L196.3 358.6L196.3 350L198.8 348.9L200.8 347.5L202.1 345.8Z" fill="#17622a" stroke="#072a0e" stroke-width="0.5"/>
<path d="M201.1 337L199.2 338.5L196.7 339.7L194.2 340.5L191.9 341M200.8 351.3L198.8 352.7L196.3 353.8" stroke="#3a9044" stroke-width="2.6" fill="none" stroke-linecap="round"/>
<path d="M175.6 336.2L176.1 336.1L177.8 336L180.2 336.1L183 336.4L185.9 337.2L188.3 338.4L190 340L190.7 341.8L189.8 334.1L189.1 332.3L187.5 330.7L185 329.5L182.1 328.8L179.3 328.4L176.9 328.3L175.3 328.4L174.7 328.5ZM177.1 350.1L177.8 350L179.5 349.9L182 350L184.8 350.4L187.7 351.2L190.1 352.5L191.7 354L192.2 355.9L191.4 348.2L190.8 346.3L189.2 344.8L186.8 343.6L184 342.7L181.1 342.3L178.6 342.2L176.9 342.3L176.3 342.4ZM178.7 364L179.5 363.9L181.3 363.8L183.8 363.9L186.7 364.4L189.5 365.3L191.8 366.5L193.3 368.1L193.7 370L192.9 362.3L192.5 360.4L190.9 358.8L188.6 357.6L185.8 356.7L182.9 356.2L180.4 356.1L178.6 356.2L177.8 356.3ZM180.2 377.9L181.1 377.8L183 377.7L185.6 377.9L188.5 378.4L191.2 379.3L193.5 380.6L194.9 382.2L195.2 384.1L194.4 376.4L194.1 374.5L192.7 372.9L190.4 371.6L187.6 370.7L184.7 370.2L182.1 370L180.3 370.1L179.4 370.2ZM181.8 391.8L182.8 391.7L184.7 391.6L187.3 391.8L190.2 392.4L193 393.3L195.2 394.7L196.5 396.3L196.7 398.2L195.9 390.5L195.7 388.6L194.4 387L192.2 385.6L189.4 384.7L186.5 384.1L183.9 383.9L181.9 384L180.9 384.1ZM183.3 405.7L184.4 405.6L186.5 405.5L189.1 405.8L192 406.4L194.8 407.3L196.9 408.7L198.1 410.4L198.2 412.3L197.4 404.6L197.2 402.7L196 401L193.9 399.6L191.2 398.7L188.3 398.1L185.6 397.9L183.6 397.9L182.5 398ZM184.9 419.6L186.1 419.5L188.2 419.5L190.9 419.7L193.8 420.4L196.5 421.4L195.7 413.7L193 412.7L190.1 412L187.4 411.8L185.3 411.8L184.1 411.9Z" fill="#072a0e"/>
<path d="M179.9 335.9L177.7 336.5L176.1 336.7L175.6 336.7L174.7 328.1L175.2 328.1L176.7 327.9L179 327.3ZM190.7 342.2L190.3 344.1L188.8 345.9L186.6 347.6L183.9 348.9L181.2 349.9L179 350.4L177.6 350.6L177.2 350.6L176.2 342L176.6 342.1L178.1 341.9L180.3 341.3L183 340.4L185.6 339.1L187.9 337.4L189.3 335.5L189.8 333.6ZM192.3 356.3L191.7 358.2L190.2 360L187.9 361.7L185.2 363L182.6 363.9L180.4 364.4L179 364.5L178.7 364.5L177.8 355.9L178.1 356L179.4 355.8L181.6 355.3L184.2 354.4L186.9 353.1L189.2 351.5L190.8 349.6L191.3 347.7ZM193.8 370.4L193.1 372.3L191.5 374.1L189.1 375.7L186.5 377L183.8 377.8L181.7 378.3L180.5 378.4L180.3 378.4L179.3 369.8L179.5 369.9L180.8 369.8L182.9 369.3L185.5 368.4L188.2 367.2L190.6 365.6L192.2 363.7L192.9 361.8ZM195.3 384.5L194.5 386.4L192.8 388.2L190.4 389.8L187.7 391L185.1 391.8L183.1 392.2L181.9 392.4L181.8 392.3L180.9 383.7L181 383.8L182.2 383.7L184.2 383.3L186.8 382.4L189.5 381.2L191.9 379.7L193.6 377.8L194.4 375.9ZM196.8 398.6L195.9 400.5L194.1 402.3L191.7 403.8L189 405L186.4 405.8L184.5 406.2L183.4 406.3L183.4 406.2L182.5 397.6L182.5 397.7L183.5 397.6L185.5 397.2L188 396.5L190.7 395.3L193.2 393.7L195 391.9L195.9 390ZM198.3 412.7L197.3 414.6L195.4 416.4L192.9 417.9L190.2 419L187.7 419.8L185.8 420.1L184.9 420.2L185 420.1L184 411.5L183.9 411.6L184.9 411.6L186.8 411.2L189.3 410.5L192 409.3L194.5 407.8L196.4 406L197.3 404.1Z" fill="#17622a" stroke="#072a0e" stroke-width="0.5"/>
<path d="M179.4 331.2L177.1 331.8M188.3 341.2L186 342.9L183.4 344.2L180.7 345.2L178.5 345.7M189.6 355.3L187.3 357L184.7 358.3L182 359.2L179.9 359.7M191 369.4L188.6 371L185.9 372.3L183.3 373.1L181.2 373.6M194 381.7L192.3 383.5L189.9 385.1L187.2 386.3L184.6 387.1L182.6 387.5M195.4 395.8L193.6 397.6L191.2 399.1L188.5 400.3L185.9 401.1L183.9 401.5M196.8 409.9L194.9 411.7L192.4 413.2L189.7 414.3L187.2 415.1L185.3 415.4" stroke="#3a9044" stroke-width="2.6" fill="none" stroke-linecap="round"/>
<path d="M213.2 333.1L214.1 332.8L216.2 332.9L219.3 333.3L223 334.3L226.5 335.7L229.4 337.6L231.2 339.8L231.7 342.1L232.2 334.3L231.7 332.1L229.9 329.9L227 328L223.5 326.5L219.8 325.6L216.7 325.1L214.6 325.1L213.7 325.4ZM212.3 348.1L213.2 347.8L215.5 347.8L218.7 348.3L222.3 349.3L225.8 350.9L228.7 352.8L230.4 355L230.7 357.2L231.2 349.5L230.9 347.2L229.1 345.1L226.3 343.1L222.8 341.6L219.2 340.6L216 340.1L213.7 340.1L212.8 340.3ZM211.3 363L212.4 362.8L214.8 362.8L218 363.4L221.7 364.4L225.1 366L227.9 367.9L229.5 370.1L229.7 372.4L230.2 364.6L230 362.4L228.4 360.2L225.6 358.2L222.1 356.7L218.5 355.6L215.2 355.1L212.9 355L211.8 355.3ZM210.4 378L211.6 377.7L214.1 377.8L217.4 378.4L221 379.5L224.5 381.1L227.1 383.1L228.6 385.3L228.7 387.5L229.2 379.8L229.1 377.5L227.6 375.3L225 373.4L221.5 371.8L217.9 370.7L214.6 370.1L212.1 370L210.9 370.2ZM209.5 392.9L210.9 392.7L213.4 392.8L216.7 393.5L220.4 394.6L223.8 396.2L226.4 398.2L227.8 400.4L227.7 402.7L228.2 395L228.2 392.7L226.9 390.5L224.3 388.5L220.9 386.9L217.2 385.7L213.9 385.1L211.3 385L210 385.2ZM208.7 407.8L210.1 407.7L212.7 407.8L216.1 408.5L219.8 409.7L223.1 411.3L225.6 413.4L226.9 415.6L226.7 417.8L227.2 410.1L227.4 407.9L226.1 405.6L223.6 403.6L220.3 402L216.6 400.8L213.2 400.1L210.6 399.9L209.1 400.1ZM207.8 422.8L209.3 422.6L212 422.9L215.5 423.6L219.1 424.8L219.6 417L216 415.8L212.5 415.1L209.8 414.9L208.3 415.1Z" fill="#072a0e"/>
<path d="M213.8 333.9L213.2 333.5L213.7 325L214.4 325.3ZM231.6 342.5L230.6 344.7L228.3 346.5L225 347.9L221.3 348.8L217.6 349.2L214.6 349.2L212.7 348.9L212.2 348.5L212.8 339.9L213.3 340.3L215.2 340.6L218.2 340.6L221.8 340.2L225.6 339.3L228.8 337.9L231.2 336.1L232.2 333.9ZM230.6 357.7L229.5 359.8L227.1 361.6L223.7 363L220 363.8L216.4 364.2L213.4 364.1L211.7 363.8L211.3 363.4L211.8 354.9L212.2 355.2L214 355.5L216.9 355.6L220.5 355.2L224.3 354.4L227.6 353L230.1 351.2L231.2 349.1ZM229.7 372.8L228.4 374.9L225.9 376.7L222.5 378L218.7 378.8L215.2 379.2L212.3 379.1L210.7 378.8L210.4 378.4L210.9 369.8L211.2 370.2L212.9 370.5L215.7 370.6L219.3 370.3L223 369.4L226.4 368.1L228.9 366.3L230.2 364.2ZM228.7 388L227.3 390L224.7 391.8L221.2 393.1L217.5 393.9L213.9 394.1L211.2 394L209.6 393.7L209.5 393.3L210.1 384.7L210.2 385.1L211.7 385.4L214.5 385.6L218 385.3L221.8 384.5L225.2 383.2L227.8 381.5L229.2 379.4ZM227.7 403.1L226.2 405.2L223.5 406.9L220 408.1L216.2 408.9L212.7 409.1L210.1 409L208.6 408.6L208.6 408.3L209.2 399.7L209.2 400L210.6 400.4L213.3 400.5L216.8 400.3L220.5 399.6L224 398.3L226.7 396.6L228.2 394.5ZM226.7 418.3L225.1 420.3L222.3 422L218.7 423.2L215 423.9L211.5 424.1L209 423.9L207.6 423.6L207.8 423.2L208.3 414.6L208.2 415L209.5 415.3L212.1 415.5L215.5 415.3L219.3 414.6L222.8 413.4L225.6 411.7L227.2 409.7Z" fill="#17622a" stroke="#072a0e" stroke-width="0.5"/>
<path d="M228.6 341.8L225.3 343.2L221.6 344.1L217.9 344.5L214.9 344.4M227.4 356.9L224 358.3L220.3 359.1L216.7 359.5L213.8 359.4M226.2 372L222.8 373.3L219 374.1L215.4 374.4L212.6 374.4M227.6 385.3L225 387.1L221.5 388.4L217.8 389.1L214.2 389.4L211.5 389.3M226.5 400.5L223.8 402.2L220.3 403.4L216.5 404.2L213 404.4L210.4 404.3M225.4 415.6L222.6 417.3L219 418.5L215.3 419.2L211.8 419.4L209.3 419.2" stroke="#3a9044" stroke-width="2.6" fill="none" stroke-linecap="round"/>
<path d="M233.3 369.9L236.1 370.3L239.1 371.1L241.9 372.3L244 373.9L245 375.8L244.9 377.8L244.4 370L244.5 368L243.4 366.2L241.3 364.6L238.6 363.4L235.5 362.6L232.7 362.2ZM231.1 384.8L232.6 384.8L235 384.9L237.9 385.4L240.9 386.3L243.5 387.6L245.4 389.3L246.2 391.2L245.8 393.2L245.2 385.5L245.6 383.5L244.8 381.6L243 379.9L240.3 378.6L237.3 377.7L234.4 377.2L232 377L230.5 377.1ZM231.8 399.9L232.4 399.8L234.1 399.7L236.7 400L239.7 400.5L242.6 401.5L245.1 402.9L246.7 404.7L247.3 406.6L246.7 398.9L246.2 397L244.6 395.2L242.1 393.8L239.1 392.8L236.1 392.2L233.6 392L231.9 392L231.2 392.1ZM232.9 414.8L233.8 414.7L235.7 414.7L238.4 415L241.5 415.7L244.3 416.8L246.7 418.3L248 420.1L248.3 422.1L247.7 414.3L247.5 412.4L246.1 410.6L243.8 409.1L240.9 408L237.9 407.3L235.2 407L233.2 407L232.3 407.1Z" fill="#072a0e"/>
<path d="M245 378.2L243.7 380.2L241.6 381.9L238.8 383.4L235.9 384.4L233.4 385.1L231.5 385.3L230.7 385.4L231.1 385.2L230.5 376.7L230.1 376.8L230.9 376.8L232.8 376.5L235.3 375.9L238.2 374.8L241 373.4L243.1 371.6L244.3 369.6ZM245.8 393.6L244.4 395.6L242 397.3L239.2 398.6L236.3 399.6L233.9 400.1L232.3 400.3L231.8 400.3L231.2 391.7L231.7 391.7L233.3 391.6L235.7 391L238.6 390.1L241.4 388.7L243.7 387L245.2 385.1ZM247.3 407.1L246.6 409.1L244.9 411L242.4 412.6L239.6 413.9L236.8 414.7L234.5 415.2L233.2 415.3L232.9 415.2L232.3 406.6L232.5 406.7L233.9 406.6L236.2 406.1L239 405.3L241.8 404L244.3 402.4L246 400.5L246.7 398.5ZM248.3 422.5L247.4 424.5L245.5 426.3L242.9 427.9L240 429.1L237.3 429.8L235.2 430.2L234.6 421.6L236.6 421.2L239.4 420.5L242.2 419.3L244.9 417.8L246.8 415.9L247.7 413.9Z" fill="#17622a" stroke="#072a0e" stroke-width="0.5"/>
<path d="M243.4 375.4L241.2 377.2L238.5 378.7L235.6 379.7L233 380.4M244 390.8L241.7 392.6L238.9 393.9L236 394.9L233.6 395.4M244.6 406.2L242.1 407.9L239.2 409.1L236.5 410L234.2 410.4M247.1 419.8L245.1 421.6L242.5 423.2L239.6 424.3L236.9 425.1L234.8 425.5" stroke="#3a9044" stroke-width="2.6" fill="none" stroke-linecap="round"/>
<path d="M229.6 351.7L230.6 350.9L232.6 349.6L235.5 348.3L238.7 347.2L242 346.6L245 346.7L247.1 347.7L248.3 349.4L243.9 343.1L242.7 341.3L240.5 340.4L237.6 340.2L234.3 340.8L231.1 341.9L228.2 343.3L226.2 344.5L225.2 345.4ZM238.2 364.1L239.2 363.2L241.2 361.9L244 360.6L247.3 359.5L250.6 358.9L253.5 359.1L255.7 360L256.8 361.8L252.4 355.4L251.3 353.7L249.1 352.7L246.2 352.6L242.9 353.1L239.6 354.2L236.8 355.6L234.8 356.8L233.8 357.7ZM243.4 373.6L244.7 373.3L247.1 373.1L250.2 373.1L253.7 373.6L256.9 374.6L259.4 376L260.9 377.8L261.1 379.9L260 372.3L259.8 370.2L258.3 368.3L255.8 366.9L252.6 366L249.1 365.5L246 365.4L243.6 365.6L242.3 365.9ZM245.5 388.4L246.9 388.1L249.3 387.9L252.4 388L255.8 388.5L259 389.4L261.5 390.9L263 392.7L263.2 394.8L262.1 387.1L261.9 385.1L260.4 383.2L257.9 381.8L254.7 380.8L251.3 380.3L248.2 380.2L245.8 380.4L244.4 380.8ZM247.7 403.3L249 402.9L251.4 402.7L254.6 402.8L258 403.3L261.2 404.3L263.7 405.8L265.1 407.6L265.3 409.7L264.2 402L264 399.9L262.6 398.1L260.1 396.6L256.9 395.7L253.5 395.2L250.3 395.1L247.9 395.3L246.6 395.6ZM249.8 418.1L251.1 417.8L253.6 417.6L256.7 417.7L260.2 418.2L263.3 419.2L265.8 420.6L267.3 422.5L267.4 424.6L266.3 416.9L266.2 414.8L264.7 413L262.2 411.5L259.1 410.5L255.6 410L252.5 409.9L250.1 410.1L248.7 410.4Z" fill="#072a0e"/>
<path d="M232.9 350.3L231.1 351.7L230 352.3L229.9 352.1L225 345L225.1 345.2L226.2 344.6L228 343.2ZM248.5 349.8L248.6 352.2L247.6 355L245.8 357.9L243.6 360.5L241.4 362.6L239.6 364L238.5 364.6L238.4 364.4L233.5 357.3L233.6 357.5L234.7 357L236.5 355.6L238.7 353.4L241 350.8L242.7 347.9L243.7 345.1L243.6 342.7ZM257.1 362.2L257.1 364.6L256.1 367.4L254.4 370.2L252.2 372.9L249.9 375L248.1 376.4L243.4 374.2L243.5 374L242.3 365.5L242.2 365.7L243.2 369.3L245 367.9L247.3 365.8L249.5 363.2L251.2 360.3L252.2 357.5L252.2 355.1ZM261.1 380.4L260.1 382.5L258 384.6L255.1 386.4L251.9 387.7L249 388.6L246.7 389.1L245.5 389.1L245.6 388.8L244.4 380.3L244.3 380.6L245.5 380.5L247.8 380.1L250.7 379.2L253.9 377.9L256.7 376.1L258.9 374L259.9 371.8ZM263.3 395.2L262.2 397.4L260.1 399.5L257.2 401.2L254 402.6L251.1 403.5L248.8 403.9L247.7 403.9L247.7 403.7L246.5 395.2L246.4 395.4L247.6 395.4L249.9 395L252.8 394.1L256 392.7L258.8 391L261 388.9L262 386.7ZM265.4 410.1L264.3 412.3L262.1 414.3L259.3 416.1L256.1 417.5L253.2 418.3L250.9 418.8L249.8 418.8L249.9 418.5L248.6 410L248.6 410.3L249.7 410.2L252 409.8L254.9 409L258 407.6L260.9 405.8L263.1 403.8L264.2 401.6ZM267.5 425L266.4 427.2L264.2 429.2L261.3 431L260.1 422.5L263 420.7L265.2 418.6L266.3 416.5Z" fill="#17622a" stroke="#072a0e" stroke-width="0.5"/>
<path d="M230.2 346.4L228.4 347.8M245.9 348.3L244.9 351.1L243.2 354L241 356.6L238.7 358.8L236.9 360.2M254.4 360.7L253.4 363.5L251.7 366.3L249.5 369L247.2 371.1L245.4 372.5M259.4 377.8L257.3 379.9L254.4 381.7L251.3 383.1L248.3 384L246.1 384.4M261.5 392.7L259.4 394.8L256.5 396.6L253.4 397.9L250.4 398.8L248.2 399.2M263.6 407.6L261.5 409.7L258.6 411.4L255.4 412.8L252.5 413.7L250.3 414.1M265.7 422.5L263.6 424.5L260.7 426.3" stroke="#3a9044" stroke-width="2.6" fill="none" stroke-linecap="round"/>
<path d="M216 352 L217 358 L215 364 L218 370 L215 376 L218 382 L214 388 L217 394 L214 400 L217 406 L215 412 L217 418 M218 370 L222 373 M215 376 L211 379 M218 382 L223 386 M214 388 L209 386 L206 390 L209 395 L213 394 M214 400 L219 403 L218 408 M210 380 L207 384 M212 396 L210 401 L213 405 M209 395 L205 398 L206 403 L210 404" stroke="#2b9aa6" stroke-width="1.5" fill="none" stroke-linecap="round" stroke-linejoin="round"/>
<path d="M206 376 L210 374 L213 377 L212 381 L208 382 L205 379 Z M217 398 L221 396 L224 399 L223 403 L219 404 L216 401 Z" stroke="#2b9aa6" stroke-width="1.3" fill="none" stroke-linecap="round" stroke-linejoin="round"/>
<path d="M185 360 L193 357 L197 359 L195 366 L187 367 Z" fill="#e82020"/>
<path d="M195 358 L199 355 L202 358 L200 362 L196 362" stroke="#e82020" stroke-width="1.2" fill="none" stroke-linecap="round" stroke-linejoin="round"/>
<path d="M192 364 L196 362 L199 365 L197 369 L193 368 Z" stroke="#c8c030" stroke-width="1.2" fill="none" stroke-linecap="round" stroke-linejoin="round"/>
<path d="M191 376 L196 381" stroke="#8a2a8a" stroke-width="2.6" fill="none" stroke-linecap="round" stroke-linejoin="round"/>
<path d="M196 381 L199 377 L203 377 L205 380.5 L203 384 L199 384 Z M203 377 L204.5 373 L208 373.5 L208.5 377 L205 380.5" stroke="#8a2a8a" stroke-width="1.3" fill="none" stroke-linecap="round" stroke-linejoin="round"/>
</g>
<rect x="144.9" y="328.3" width="124.8" height="95.2" stroke="#231f20" stroke-width="1.7" fill="none"/>
<text x="146.34" y="359.4" font-size="9.18" font-weight="bold" fill="#ee4050">H196</text>
<text x="146.33" y="369.1" font-size="9.21" font-weight="bold" fill="#aaa838">H197</text>
<text x="146.94" y="377.6" font-size="8.5" font-weight="bold" fill="#93318f">W193</text>
<line x1="168.3" y1="359.2" x2="185.5" y2="359.2" stroke="#231f20" stroke-width="2.8"/>
<line x1="168.3" y1="368.9" x2="184.5" y2="368.9" stroke="#231f20" stroke-width="2.8"/>
<line x1="168.3" y1="378.4" x2="192" y2="378.4" stroke="#231f20" stroke-width="2.8"/>
<text x="199.71" y="351.6" font-size="8.3" font-weight="bold" fill="#1a9ad6">CoA</text>
<line x1="208.6" y1="353.4" x2="213" y2="364" stroke="#231f20" stroke-width="2.6"/>
<line x1="310.8" y1="295.1" x2="310.8" y2="453.2" stroke="#231f20" stroke-width="1.5"/>
<line x1="310.1" y1="452.5" x2="471.5" y2="452.5" stroke="#231f20" stroke-width="1.5"/>
<line x1="307.3" y1="452.5" x2="310.8" y2="452.5" stroke="#231f20" stroke-width="1.2"/>
<text x="293.23" y="453.94" font-size="9.6" transform="matrix(1 0 0 1.07 0 -31.78)" fill="#333333">0.0</text>
<line x1="307.3" y1="430.1" x2="310.8" y2="430.1" stroke="#231f20" stroke-width="1.2"/>
<text x="293.32" y="433.54" font-size="9.6" transform="matrix(1 0 0 1.07 0 -30.35)" fill="#333333">0.1</text>
<line x1="307.3" y1="407.7" x2="310.8" y2="407.7" stroke="#231f20" stroke-width="1.2"/>
<text x="293.34" y="411.14" font-size="9.6" transform="matrix(1 0 0 1.07 0 -28.78)" fill="#333333">0.2</text>
<line x1="307.3" y1="385.3" x2="310.8" y2="385.3" stroke="#231f20" stroke-width="1.2"/>
<text x="293.28" y="388.74" font-size="9.6" transform="matrix(1 0 0 1.07 0 -27.21)" fill="#333333">0.3</text>
<line x1="307.3" y1="362.9" x2="310.8" y2="362.9" stroke="#231f20" stroke-width="1.2"/>
<text x="293.14" y="366.34" font-size="9.6" transform="matrix(1 0 0 1.07 0 -25.64)" fill="#333333">0.4</text>
<line x1="307.3" y1="340.5" x2="310.8" y2="340.5" stroke="#231f20" stroke-width="1.2"/>
<text x="293.26" y="343.94" font-size="9.6" transform="matrix(1 0 0 1.07 0 -24.08)" fill="#333333">0.5</text>
<line x1="307.3" y1="318.1" x2="310.8" y2="318.1" stroke="#231f20" stroke-width="1.2"/>
<text x="293.28" y="321.54" font-size="9.6" transform="matrix(1 0 0 1.07 0 -22.51)" fill="#333333">0.6</text>
<line x1="307.3" y1="295.7" x2="310.8" y2="295.7" stroke="#231f20" stroke-width="1.2"/>
<text x="293.34" y="299.14" font-size="9.6" transform="matrix(1 0 0 1.07 0 -20.94)" fill="#333333">0.7</text>
<line x1="308.8" y1="441.3" x2="310.8" y2="441.3" stroke="#231f20" stroke-width="1"/>
<line x1="308.8" y1="418.9" x2="310.8" y2="418.9" stroke="#231f20" stroke-width="1"/>
<line x1="308.8" y1="396.5" x2="310.8" y2="396.5" stroke="#231f20" stroke-width="1"/>
<line x1="308.8" y1="374.1" x2="310.8" y2="374.1" stroke="#231f20" stroke-width="1"/>
<line x1="308.8" y1="351.7" x2="310.8" y2="351.7" stroke="#231f20" stroke-width="1"/>
<line x1="308.8" y1="329.3" x2="310.8" y2="329.3" stroke="#231f20" stroke-width="1"/>
<line x1="308.8" y1="306.9" x2="310.8" y2="306.9" stroke="#231f20" stroke-width="1"/>
<line x1="314.6" y1="452.5" x2="314.6" y2="455.5" stroke="#231f20" stroke-width="1.2"/>
<text x="308" y="462.9" font-size="9.6" transform="matrix(1 0 0 1.07 0 -32.4)" fill="#333333">4.0</text>
<line x1="329.87" y1="452.5" x2="329.87" y2="454.3" stroke="#231f20" stroke-width="1"/>
<line x1="345.14" y1="452.5" x2="345.14" y2="455.5" stroke="#231f20" stroke-width="1.2"/>
<text x="338.57" y="462.9" font-size="9.6" transform="matrix(1 0 0 1.07 0 -32.4)" fill="#333333">4.8</text>
<line x1="360.41" y1="452.5" x2="360.41" y2="454.3" stroke="#231f20" stroke-width="1"/>
<line x1="375.68" y1="452.5" x2="375.68" y2="455.5" stroke="#231f20" stroke-width="1.2"/>
<text x="369.03" y="462.9" font-size="9.6" transform="matrix(1 0 0 1.07 0 -32.4)" fill="#333333">5.6</text>
<line x1="390.95" y1="452.5" x2="390.95" y2="454.3" stroke="#231f20" stroke-width="1"/>
<line x1="406.22" y1="452.5" x2="406.22" y2="455.5" stroke="#231f20" stroke-width="1.2"/>
<text x="399.44" y="462.9" font-size="9.6" transform="matrix(1 0 0 1.07 0 -32.4)" fill="#333333">6.4</text>
<line x1="421.49" y1="452.5" x2="421.49" y2="454.3" stroke="#231f20" stroke-width="1"/>
<line x1="436.76" y1="452.5" x2="436.76" y2="455.5" stroke="#231f20" stroke-width="1.2"/>
<text x="430.08" y="462.9" font-size="9.6" transform="matrix(1 0 0 1.07 0 -32.4)" fill="#333333">7.2</text>
<line x1="452.03" y1="452.5" x2="452.03" y2="454.3" stroke="#231f20" stroke-width="1"/>
<line x1="467.3" y1="452.5" x2="467.3" y2="455.5" stroke="#231f20" stroke-width="1.2"/>
<text x="460.61" y="462.9" font-size="9.6" transform="matrix(1 0 0 1.07 0 -32.4)" fill="#333333">8.0</text>
<text x="337.85" y="473.6" font-size="11.94" transform="matrix(1 0 0 1.07 0 -33.15)" fill="#333333">Indentation Depth (µm)</text>
<text transform="translate(284.3 390.4) rotate(-90)" font-size="11.8" fill="#333333">I<tspan font-size="7.2" dy="3">Peak</tspan></text>
<text transform="translate(284.6 364.62) rotate(-90)" font-size="14.11" fill="#333333">(nA)</text>
<line x1="375.68" y1="441.08" x2="375.68" y2="447.8" stroke="#231f20" stroke-width="1.3"/>
<line x1="372.68" y1="441.08" x2="378.68" y2="441.08" stroke="#231f20" stroke-width="1.3"/>
<line x1="372.68" y1="447.8" x2="378.68" y2="447.8" stroke="#231f20" stroke-width="1.3"/>
<line x1="406.22" y1="413.08" x2="406.22" y2="432.34" stroke="#231f20" stroke-width="1.3"/>
<line x1="403.22" y1="413.08" x2="409.22" y2="413.08" stroke="#231f20" stroke-width="1.3"/>
<line x1="403.22" y1="432.34" x2="409.22" y2="432.34" stroke="#231f20" stroke-width="1.3"/>
<line x1="436.76" y1="373.65" x2="436.76" y2="410.39" stroke="#231f20" stroke-width="1.3"/>
<line x1="433.76" y1="373.65" x2="439.76" y2="373.65" stroke="#231f20" stroke-width="1.3"/>
<line x1="433.76" y1="410.39" x2="439.76" y2="410.39" stroke="#231f20" stroke-width="1.3"/>
<line x1="467.3" y1="300.18" x2="467.3" y2="380.82" stroke="#231f20" stroke-width="1.3"/>
<line x1="464.3" y1="300.18" x2="470.3" y2="300.18" stroke="#231f20" stroke-width="1.3"/>
<line x1="464.3" y1="380.82" x2="470.3" y2="380.82" stroke="#231f20" stroke-width="1.3"/>
<path d="M314.6 452.5 L345.14 450.71 L375.68 444.44 L406.22 422.71 L436.76 392.02 L467.3 340.5" stroke="#231f20" stroke-width="1.7" fill="none" stroke-linejoin="round"/>
<rect x="312.3" y="450.2" width="4.6" height="4.6" fill="#231f20"/>
<rect x="342.84" y="448.41" width="4.6" height="4.6" fill="#231f20"/>
<rect x="373.38" y="442.14" width="4.6" height="4.6" fill="#231f20"/>
<rect x="403.92" y="420.41" width="4.6" height="4.6" fill="#231f20"/>
<rect x="434.46" y="389.72" width="4.6" height="4.6" fill="#231f20"/>
<rect x="465" y="338.2" width="4.6" height="4.6" fill="#231f20"/>
<path d="M314.6 452.5 L345.14 452.05 L375.68 451.6 L406.22 450.71 L436.76 449.59 L467.3 448.24" stroke="#e8202f" stroke-width="1.7" fill="none" stroke-linejoin="round"/>
<circle cx="314.6" cy="452.5" r="2.5" fill="#e8202f"/>
<circle cx="345.14" cy="452.05" r="2.5" fill="#e8202f"/>
<circle cx="375.68" cy="451.6" r="2.5" fill="#e8202f"/>
<circle cx="406.22" cy="450.71" r="2.5" fill="#e8202f"/>
<circle cx="436.76" cy="449.59" r="2.5" fill="#e8202f"/>
<circle cx="467.3" cy="448.24" r="2.5" fill="#e8202f"/>
<line x1="406.22" y1="437.72" x2="406.22" y2="444.88" stroke="#3658a8" stroke-width="1.3"/>
<line x1="403.22" y1="437.72" x2="409.22" y2="437.72" stroke="#3658a8" stroke-width="1.3"/>
<line x1="403.22" y1="444.88" x2="409.22" y2="444.88" stroke="#3658a8" stroke-width="1.3"/>
<line x1="436.76" y1="419.35" x2="436.76" y2="435.92" stroke="#3658a8" stroke-width="1.3"/>
<line x1="433.76" y1="419.35" x2="439.76" y2="419.35" stroke="#3658a8" stroke-width="1.3"/>
<line x1="433.76" y1="435.92" x2="439.76" y2="435.92" stroke="#3658a8" stroke-width="1.3"/>
<line x1="467.3" y1="401.88" x2="467.3" y2="429.65" stroke="#3658a8" stroke-width="1.3"/>
<line x1="464.3" y1="401.88" x2="470.3" y2="401.88" stroke="#3658a8" stroke-width="1.3"/>
<line x1="464.3" y1="429.65" x2="470.3" y2="429.65" stroke="#3658a8" stroke-width="1.3"/>
<path d="M314.6 452.5 L345.14 451.16 L375.68 446.68 L406.22 441.3 L436.76 427.64 L467.3 415.76" stroke="#3658a8" stroke-width="1.7" fill="none" stroke-linejoin="round"/>
<path d="M314.6 449.1l3.2 5.4h-6.4z" fill="#3658a8"/>
<path d="M345.14 447.76l3.2 5.4h-6.4z" fill="#3658a8"/>
<path d="M375.68 443.28l3.2 5.4h-6.4z" fill="#3658a8"/>
<path d="M406.22 437.9l3.2 5.4h-6.4z" fill="#3658a8"/>
<path d="M436.76 424.24l3.2 5.4h-6.4z" fill="#3658a8"/>
<path d="M467.3 412.36l3.2 5.4h-6.4z" fill="#3658a8"/>
<line x1="310.8" y1="301.9" x2="331.4" y2="301.9" stroke="#231f20" stroke-width="1.6"/>
<rect x="319.2" y="299.6" width="4.6" height="4.6" fill="#231f20"/>
<line x1="310.8" y1="328.2" x2="331.4" y2="328.2" stroke="#e8202f" stroke-width="1.6"/>
<circle cx="321.5" cy="328.2" r="2.5" fill="#e8202f"/>
<line x1="310.8" y1="355.5" x2="331.4" y2="355.5" stroke="#3658a8" stroke-width="1.6"/>
<path d="M321.5 352.1l3.2 5.4h-6.4z" fill="#3658a8"/>
<text x="338.33" y="302" font-size="9.96" transform="matrix(1 0 0 1.07 0 -21.14)" fill="#333333">PIEZO2 +</text>
<text x="336.4" y="313.8" font-size="9.69" transform="matrix(1 0 0 1.07 0 -21.97)" fill="#333333">tdTOMATO</text>
<text x="388.28" y="312.8" font-size="10.11" transform="matrix(1 0 0 1.07 0 -21.9)" fill="#333333">n=14</text>
<text x="338.33" y="331" font-size="9.96" transform="matrix(1 0 0 1.07 0 -23.17)" fill="#e8202f">PIEZO2 +</text>
<text x="322.53" y="343.2" font-size="9.89" transform="matrix(1 0 0 1.07 0 -24.02)" fill="#e8202f">TMEM120A (WT)</text>
<text x="401.98" y="343" font-size="10.12" transform="matrix(1 0 0 1.07 0 -24.01)" fill="#e8202f">n=15</text>
<text x="338.33" y="359" font-size="9.96" transform="matrix(1 0 0 1.07 0 -25.13)" fill="#1f6fbf">PIEZO2 +</text>
<text x="313.93" y="371.1" font-size="9.93" transform="matrix(1 0 0 1.07 0 -25.98)" fill="#1f6fbf">TMEM120A (W193A)</text>
<text x="409.17" y="369.5" font-size="10.21" transform="matrix(1 0 0 1.07 0 -25.87)" fill="#1f6fbf">n=17</text>
<path d="M479.4 338.7 L498.9 338.7 L498.9 450 L492.4 450" stroke="#231f20" stroke-width="1.2" fill="none"/>
<path d="M472 416.1 L478.5 416.1 L478.5 450 L472 450" stroke="#231f20" stroke-width="1.2" fill="none"/>
<text transform="translate(481.4 413.67) rotate(90)" font-size="10.57" fill="#333333">p=0.011</text>
<text transform="translate(501.3 361.14) rotate(90)" font-size="11.01" fill="#333333">p=7.495x10<tspan font-size="6.2" dy="-4.2">-5</tspan></text>
<line x1="547.8" y1="295.9" x2="547.8" y2="453.2" stroke="#231f20" stroke-width="1.5"/>
<line x1="547.1" y1="452.5" x2="685" y2="452.5" stroke="#231f20" stroke-width="1.5"/>
<line x1="544.6" y1="444.1" x2="547.8" y2="444.1" stroke="#231f20" stroke-width="1.2"/>
<text x="532.42" y="447.04" font-size="8.2" transform="matrix(1 0 0 1.07 0 -31.29)" fill="#333333">4.0</text>
<line x1="544.6" y1="427.7" x2="547.8" y2="427.7" stroke="#231f20" stroke-width="1.2"/>
<text x="532.46" y="430.64" font-size="8.2" transform="matrix(1 0 0 1.07 0 -30.14)" fill="#333333">4.8</text>
<line x1="544.6" y1="411.3" x2="547.8" y2="411.3" stroke="#231f20" stroke-width="1.2"/>
<text x="532.46" y="414.24" font-size="8.2" transform="matrix(1 0 0 1.07 0 -29)" fill="#333333">5.6</text>
<line x1="544.6" y1="394.9" x2="547.8" y2="394.9" stroke="#231f20" stroke-width="1.2"/>
<text x="532.34" y="397.84" font-size="8.2" transform="matrix(1 0 0 1.07 0 -27.85)" fill="#333333">6.4</text>
<line x1="544.6" y1="378.5" x2="547.8" y2="378.5" stroke="#231f20" stroke-width="1.2"/>
<text x="532.51" y="381.44" font-size="8.2" transform="matrix(1 0 0 1.07 0 -26.7)" fill="#333333">7.2</text>
<line x1="544.6" y1="362.1" x2="547.8" y2="362.1" stroke="#231f20" stroke-width="1.2"/>
<text x="532.42" y="365.04" font-size="8.2" transform="matrix(1 0 0 1.07 0 -25.55)" fill="#333333">8.0</text>
<line x1="544.6" y1="345.7" x2="547.8" y2="345.7" stroke="#231f20" stroke-width="1.2"/>
<text x="532.46" y="348.64" font-size="8.2" transform="matrix(1 0 0 1.07 0 -24.4)" fill="#333333">8.8</text>
<line x1="544.6" y1="329.3" x2="547.8" y2="329.3" stroke="#231f20" stroke-width="1.2"/>
<text x="532.46" y="332.24" font-size="8.2" transform="matrix(1 0 0 1.07 0 -23.26)" fill="#333333">9.6</text>
<line x1="544.6" y1="312.9" x2="547.8" y2="312.9" stroke="#231f20" stroke-width="1.2"/>
<text x="527.78" y="315.84" font-size="8.2" transform="matrix(1 0 0 1.07 0 -22.11)" fill="#333333">10.4</text>
<line x1="544.6" y1="296.5" x2="547.8" y2="296.5" stroke="#231f20" stroke-width="1.2"/>
<text x="527.95" y="299.44" font-size="8.2" transform="matrix(1 0 0 1.07 0 -20.96)" fill="#333333">11.2</text>
<line x1="546" y1="452.3" x2="547.8" y2="452.3" stroke="#231f20" stroke-width="1"/>
<line x1="546" y1="435.9" x2="547.8" y2="435.9" stroke="#231f20" stroke-width="1"/>
<line x1="546" y1="419.5" x2="547.8" y2="419.5" stroke="#231f20" stroke-width="1"/>
<line x1="546" y1="403.1" x2="547.8" y2="403.1" stroke="#231f20" stroke-width="1"/>
<line x1="546" y1="386.7" x2="547.8" y2="386.7" stroke="#231f20" stroke-width="1"/>
<line x1="546" y1="370.3" x2="547.8" y2="370.3" stroke="#231f20" stroke-width="1"/>
<line x1="546" y1="353.9" x2="547.8" y2="353.9" stroke="#231f20" stroke-width="1"/>
<line x1="546" y1="337.5" x2="547.8" y2="337.5" stroke="#231f20" stroke-width="1"/>
<line x1="546" y1="321.1" x2="547.8" y2="321.1" stroke="#231f20" stroke-width="1"/>
<line x1="546" y1="304.7" x2="547.8" y2="304.7" stroke="#231f20" stroke-width="1"/>
<text transform="translate(526 418.05) rotate(-90)" font-size="13.34" fill="#333333">Threshold (µm)</text>
<rect x="560.7" y="402.9" width="43.3" height="49.6" stroke="#231f20" stroke-width="1.6" fill="none"/>
<line x1="582.3" y1="452.5" x2="582.3" y2="455.3" stroke="#231f20" stroke-width="1.2"/>
<line x1="582.3" y1="392.24" x2="582.3" y2="413.56" stroke="#231f20" stroke-width="1.5"/>
<line x1="570.9" y1="392.24" x2="593.7" y2="392.24" stroke="#231f20" stroke-width="1.5"/>
<line x1="570.9" y1="413.56" x2="593.7" y2="413.56" stroke="#231f20" stroke-width="1.5"/>
<rect x="628.6" y="392.24" width="43.7" height="60.26" stroke="#3658a8" stroke-width="1.6" fill="none"/>
<line x1="650.2" y1="452.5" x2="650.2" y2="455.3" stroke="#231f20" stroke-width="1.2"/>
<line x1="650.2" y1="382.19" x2="650.2" y2="403.1" stroke="#3658a8" stroke-width="1.5"/>
<line x1="638.8" y1="382.19" x2="661.6" y2="382.19" stroke="#3658a8" stroke-width="1.5"/>
<line x1="638.8" y1="403.1" x2="661.6" y2="403.1" stroke="#3658a8" stroke-width="1.5"/>
<path d="M582.3 359.4l2.7 2.7l-2.7 2.7l-2.7 -2.7z" fill="#231f20"/>
<path d="M582.3 375.8l2.7 2.7l-2.7 2.7l-2.7 -2.7z" fill="#231f20"/>
<path d="M569.8 392.2l2.7 2.7l-2.7 2.7l-2.7 -2.7z" fill="#231f20"/>
<path d="M578.1 392.2l2.7 2.7l-2.7 2.7l-2.7 -2.7z" fill="#231f20"/>
<path d="M586.3 392.2l2.7 2.7l-2.7 2.7l-2.7 -2.7z" fill="#231f20"/>
<path d="M594.4 392.2l2.7 2.7l-2.7 2.7l-2.7 -2.7z" fill="#231f20"/>
<path d="M569.8 408.6l2.7 2.7l-2.7 2.7l-2.7 -2.7z" fill="#231f20"/>
<path d="M578.1 408.6l2.7 2.7l-2.7 2.7l-2.7 -2.7z" fill="#231f20"/>
<path d="M586.3 408.6l2.7 2.7l-2.7 2.7l-2.7 -2.7z" fill="#231f20"/>
<path d="M594.4 408.6l2.7 2.7l-2.7 2.7l-2.7 -2.7z" fill="#231f20"/>
<path d="M574 425l2.7 2.7l-2.7 2.7l-2.7 -2.7z" fill="#231f20"/>
<path d="M582.3 425l2.7 2.7l-2.7 2.7l-2.7 -2.7z" fill="#231f20"/>
<path d="M590.5 425l2.7 2.7l-2.7 2.7l-2.7 -2.7z" fill="#231f20"/>
<path d="M650.2 310.2l2.7 2.7l-2.7 2.7l-2.7 -2.7z" fill="#3658a8"/>
<path d="M650.2 343l2.7 2.7l-2.7 2.7l-2.7 -2.7z" fill="#3658a8"/>
<path d="M643.5 375.8l2.7 2.7l-2.7 2.7l-2.7 -2.7z" fill="#3658a8"/>
<path d="M650.2 375.8l2.7 2.7l-2.7 2.7l-2.7 -2.7z" fill="#3658a8"/>
<path d="M656.8 375.8l2.7 2.7l-2.7 2.7l-2.7 -2.7z" fill="#3658a8"/>
<path d="M637.1 408.6l2.7 2.7l-2.7 2.7l-2.7 -2.7z" fill="#3658a8"/>
<path d="M643.6 408.6l2.7 2.7l-2.7 2.7l-2.7 -2.7z" fill="#3658a8"/>
<path d="M650.2 408.6l2.7 2.7l-2.7 2.7l-2.7 -2.7z" fill="#3658a8"/>
<path d="M656.8 408.6l2.7 2.7l-2.7 2.7l-2.7 -2.7z" fill="#3658a8"/>
<path d="M663.4 408.6l2.7 2.7l-2.7 2.7l-2.7 -2.7z" fill="#3658a8"/>
<path d="M647 425l2.7 2.7l-2.7 2.7l-2.7 -2.7z" fill="#3658a8"/>
<path d="M653.5 425l2.7 2.7l-2.7 2.7l-2.7 -2.7z" fill="#3658a8"/>
<line x1="581.2" y1="307.8" x2="652.2" y2="307.8" stroke="#231f20" stroke-width="1.3"/>
<text x="597.94" y="304.4" font-size="11.06" transform="matrix(1 0 0 1.07 0 -21.31)" fill="#333333">p=0.555</text>
<text x="561.35" y="464.2" font-size="9.73" transform="matrix(1 0 0 1.07 0 -32.49)" fill="#333333">PIEZO2 +</text>
<text x="558.5" y="476.2" font-size="9.73" transform="matrix(1 0 0 1.07 0 -33.33)" fill="#333333">tdTOMATO</text>
<text x="631.95" y="464.2" font-size="9.8" transform="matrix(1 0 0 1.07 0 -32.49)" fill="#1f6fbf">PIEZO2 +</text>
<text x="628.53" y="476.2" font-size="9.71" transform="matrix(1 0 0 1.07 0 -33.33)" fill="#1f6fbf">TMEM120A</text>
<text x="634.11" y="488" font-size="10.34" transform="matrix(1 0 0 1.07 0 -34.16)" fill="#1f6fbf">(W193A)</text>
<line x1="51.6" y1="495.9" x2="51.6" y2="660.7" stroke="#231f20" stroke-width="1.5"/>
<line x1="50.9" y1="660" x2="180.7" y2="660" stroke="#231f20" stroke-width="1.5"/>
<line x1="48.4" y1="660" x2="51.6" y2="660" stroke="#231f20" stroke-width="1.2"/>
<text x="42.85" y="663.08" font-size="8.6" transform="matrix(1 0 0 1.07 0 -46.42)" fill="#333333">0</text>
<line x1="49.8" y1="651.83" x2="51.6" y2="651.83" stroke="#231f20" stroke-width="1"/>
<line x1="48.4" y1="643.65" x2="51.6" y2="643.65" stroke="#231f20" stroke-width="1.2"/>
<text x="38.07" y="646.73" font-size="8.6" transform="matrix(1 0 0 1.07 0 -45.27)" fill="#333333">10</text>
<line x1="49.8" y1="635.48" x2="51.6" y2="635.48" stroke="#231f20" stroke-width="1"/>
<line x1="48.4" y1="627.3" x2="51.6" y2="627.3" stroke="#231f20" stroke-width="1.2"/>
<text x="38.07" y="630.38" font-size="8.6" transform="matrix(1 0 0 1.07 0 -44.13)" fill="#333333">20</text>
<line x1="49.8" y1="619.12" x2="51.6" y2="619.12" stroke="#231f20" stroke-width="1"/>
<line x1="48.4" y1="610.95" x2="51.6" y2="610.95" stroke="#231f20" stroke-width="1.2"/>
<text x="38.07" y="614.03" font-size="8.6" transform="matrix(1 0 0 1.07 0 -42.98)" fill="#333333">30</text>
<line x1="49.8" y1="602.77" x2="51.6" y2="602.77" stroke="#231f20" stroke-width="1"/>
<line x1="48.4" y1="594.6" x2="51.6" y2="594.6" stroke="#231f20" stroke-width="1.2"/>
<text x="38.07" y="597.68" font-size="8.6" transform="matrix(1 0 0 1.07 0 -41.84)" fill="#333333">40</text>
<line x1="49.8" y1="586.42" x2="51.6" y2="586.42" stroke="#231f20" stroke-width="1"/>
<line x1="48.4" y1="578.25" x2="51.6" y2="578.25" stroke="#231f20" stroke-width="1.2"/>
<text x="38.07" y="581.33" font-size="8.6" transform="matrix(1 0 0 1.07 0 -40.69)" fill="#333333">50</text>
<line x1="49.8" y1="570.08" x2="51.6" y2="570.08" stroke="#231f20" stroke-width="1"/>
<line x1="48.4" y1="561.9" x2="51.6" y2="561.9" stroke="#231f20" stroke-width="1.2"/>
<text x="38.07" y="564.98" font-size="8.6" transform="matrix(1 0 0 1.07 0 -39.55)" fill="#333333">60</text>
<line x1="49.8" y1="553.73" x2="51.6" y2="553.73" stroke="#231f20" stroke-width="1"/>
<line x1="48.4" y1="545.55" x2="51.6" y2="545.55" stroke="#231f20" stroke-width="1.2"/>
<text x="38.07" y="548.63" font-size="8.6" transform="matrix(1 0 0 1.07 0 -38.4)" fill="#333333">70</text>
<line x1="49.8" y1="537.38" x2="51.6" y2="537.38" stroke="#231f20" stroke-width="1"/>
<line x1="48.4" y1="529.2" x2="51.6" y2="529.2" stroke="#231f20" stroke-width="1.2"/>
<text x="38.07" y="532.28" font-size="8.6" transform="matrix(1 0 0 1.07 0 -37.26)" fill="#333333">80</text>
<line x1="49.8" y1="521.02" x2="51.6" y2="521.02" stroke="#231f20" stroke-width="1"/>
<line x1="48.4" y1="512.85" x2="51.6" y2="512.85" stroke="#231f20" stroke-width="1.2"/>
<text x="38.07" y="515.93" font-size="8.6" transform="matrix(1 0 0 1.07 0 -36.12)" fill="#333333">90</text>
<line x1="49.8" y1="504.68" x2="51.6" y2="504.68" stroke="#231f20" stroke-width="1"/>
<line x1="48.4" y1="496.5" x2="51.6" y2="496.5" stroke="#231f20" stroke-width="1.2"/>
<text x="33.29" y="499.58" font-size="8.6" transform="matrix(1 0 0 1.07 0 -34.97)" fill="#333333">100</text>
<text transform="translate(31.5 643.95) rotate(-90)" font-size="13.37" fill="#333333">Responding Cells (%)</text>
<rect x="60.5" y="508.27" width="27.5" height="151.73" stroke="#231f20" stroke-width="1.6" fill="none"/>
<rect x="102.9" y="627.3" width="27.5" height="32.7" stroke="#e8202f" stroke-width="1.6" fill="none"/>
<rect x="145.6" y="544.73" width="27.4" height="115.27" stroke="#3658a8" stroke-width="1.6" fill="none"/>
<line x1="73.9" y1="660" x2="73.9" y2="663" stroke="#231f20" stroke-width="1.2"/>
<line x1="116.4" y1="660" x2="116.4" y2="663" stroke="#231f20" stroke-width="1.2"/>
<line x1="159.2" y1="660" x2="159.2" y2="663" stroke="#231f20" stroke-width="1.2"/>
<text x="58.25" y="503.8" font-size="10.72" transform="matrix(1 0 0 1.07 0 -35.27)" fill="#333333">92.8%</text>
<text x="102.72" y="626.4" font-size="10.62" transform="matrix(1 0 0 1.07 0 -43.85)" fill="#333333">20.0%</text>
<text x="144.9" y="539.8" font-size="10.73" transform="matrix(1 0 0 1.07 0 -37.79)" fill="#333333">70.5%</text>
<text x="44.44" y="675.4" font-size="9.87" transform="matrix(1 0 0 1.07 0 -47.28)" fill="#333333">PIEZO2 +</text>
<text x="42.21" y="687.3" font-size="9.53" transform="matrix(1 0 0 1.07 0 -48.11)" fill="#333333">tdTOMATO</text>
<text x="97.03" y="675.4" font-size="10.03" transform="matrix(1 0 0 1.07 0 -47.28)" fill="#e8202f">PIEZO2 +</text>
<text x="94.23" y="687.3" font-size="9.63" transform="matrix(1 0 0 1.07 0 -48.11)" fill="#e8202f">TMEM120A</text>
<text x="108.73" y="699.7" font-size="9.97" transform="matrix(1 0 0 1.07 0 -48.98)" fill="#e8202f">(WT)</text>
<text x="151.73" y="675.4" font-size="10.01" transform="matrix(1 0 0 1.07 0 -47.28)" fill="#1f6fbf">PIEZO2 +</text>
<text x="148.83" y="687.3" font-size="9.63" transform="matrix(1 0 0 1.07 0 -48.11)" fill="#1f6fbf">TMEM120A</text>
<text x="153.82" y="699.7" font-size="10.21" transform="matrix(1 0 0 1.07 0 -48.98)" fill="#1f6fbf">(W193A)</text>
<line x1="247.3" y1="510.3" x2="247.3" y2="665.6" stroke="#231f20" stroke-width="1.5"/>
<line x1="246.6" y1="664.9" x2="399.5" y2="664.9" stroke="#231f20" stroke-width="1.5"/>
<line x1="244.1" y1="664.9" x2="247.3" y2="664.9" stroke="#231f20" stroke-width="1.2"/>
<text x="230.3" y="668.27" font-size="9.4" transform="matrix(1 0 0 1.07 0 -46.78)" fill="#333333">0.0</text>
<line x1="245.5" y1="655.27" x2="247.3" y2="655.27" stroke="#231f20" stroke-width="1"/>
<line x1="244.1" y1="645.65" x2="247.3" y2="645.65" stroke="#231f20" stroke-width="1.2"/>
<text x="230.33" y="649.02" font-size="9.4" transform="matrix(1 0 0 1.07 0 -45.43)" fill="#333333">0.5</text>
<line x1="245.5" y1="636.02" x2="247.3" y2="636.02" stroke="#231f20" stroke-width="1"/>
<line x1="244.1" y1="626.4" x2="247.3" y2="626.4" stroke="#231f20" stroke-width="1.2"/>
<text x="230.3" y="629.77" font-size="9.4" transform="matrix(1 0 0 1.07 0 -44.08)" fill="#333333">1.0</text>
<line x1="245.5" y1="616.77" x2="247.3" y2="616.77" stroke="#231f20" stroke-width="1"/>
<line x1="244.1" y1="607.15" x2="247.3" y2="607.15" stroke="#231f20" stroke-width="1.2"/>
<text x="230.33" y="610.52" font-size="9.4" transform="matrix(1 0 0 1.07 0 -42.74)" fill="#333333">1.5</text>
<line x1="245.5" y1="597.52" x2="247.3" y2="597.52" stroke="#231f20" stroke-width="1"/>
<line x1="244.1" y1="587.9" x2="247.3" y2="587.9" stroke="#231f20" stroke-width="1.2"/>
<text x="230.3" y="591.27" font-size="9.4" transform="matrix(1 0 0 1.07 0 -41.39)" fill="#333333">2.0</text>
<line x1="245.5" y1="578.27" x2="247.3" y2="578.27" stroke="#231f20" stroke-width="1"/>
<line x1="244.1" y1="568.65" x2="247.3" y2="568.65" stroke="#231f20" stroke-width="1.2"/>
<text x="230.33" y="572.02" font-size="9.4" transform="matrix(1 0 0 1.07 0 -40.04)" fill="#333333">2.5</text>
<line x1="245.5" y1="559.02" x2="247.3" y2="559.02" stroke="#231f20" stroke-width="1"/>
<line x1="244.1" y1="549.4" x2="247.3" y2="549.4" stroke="#231f20" stroke-width="1.2"/>
<text x="230.3" y="552.77" font-size="9.4" transform="matrix(1 0 0 1.07 0 -38.69)" fill="#333333">3.0</text>
<line x1="245.5" y1="539.77" x2="247.3" y2="539.77" stroke="#231f20" stroke-width="1"/>
<line x1="244.1" y1="530.15" x2="247.3" y2="530.15" stroke="#231f20" stroke-width="1.2"/>
<text x="230.33" y="533.52" font-size="9.4" transform="matrix(1 0 0 1.07 0 -37.35)" fill="#333333">3.5</text>
<line x1="245.5" y1="520.52" x2="247.3" y2="520.52" stroke="#231f20" stroke-width="1"/>
<line x1="244.1" y1="510.9" x2="247.3" y2="510.9" stroke="#231f20" stroke-width="1.2"/>
<text x="230.3" y="514.27" font-size="9.4" transform="matrix(1 0 0 1.07 0 -36)" fill="#333333">4.0</text>
<text transform="translate(221.6 603.8) rotate(-90)" font-size="11.8" fill="#333333">I<tspan font-size="7.2" dy="3">Max</tspan></text>
<text transform="translate(222 581.88) rotate(-90)" font-size="13.43" fill="#333333">(nA)</text>
<rect x="256.8" y="628.6" width="32.5" height="36.3" stroke="#231f20" stroke-width="1.6" fill="none"/>
<line x1="273.05" y1="664.9" x2="273.05" y2="667.9" stroke="#231f20" stroke-width="1.2"/>
<line x1="273.05" y1="615.4" x2="273.05" y2="641.1" stroke="#231f20" stroke-width="1.5"/>
<line x1="264.45" y1="615.4" x2="281.65" y2="615.4" stroke="#231f20" stroke-width="1.5"/>
<line x1="264.45" y1="641.1" x2="281.65" y2="641.1" stroke="#231f20" stroke-width="1.5"/>
<path d="M274.7 519.6l2.7 2.7l-2.7 2.7l-2.7 -2.7z" fill="#231f20"/>
<path d="M271.2 523.7l2.7 2.7l-2.7 2.7l-2.7 -2.7z" fill="#231f20"/>
<path d="M273.2 587.1l2.7 2.7l-2.7 2.7l-2.7 -2.7z" fill="#231f20"/>
<path d="M273.2 620.7l2.7 2.7l-2.7 2.7l-2.7 -2.7z" fill="#231f20"/>
<path d="M269.4 632.2l2.7 2.7l-2.7 2.7l-2.7 -2.7z" fill="#231f20"/>
<path d="M273.4 636.1l2.7 2.7l-2.7 2.7l-2.7 -2.7z" fill="#231f20"/>
<path d="M276.4 639.1l2.7 2.7l-2.7 2.7l-2.7 -2.7z" fill="#231f20"/>
<path d="M280.1 649.9l2.7 2.7l-2.7 2.7l-2.7 -2.7z" fill="#231f20"/>
<path d="M265.9 654.9l2.7 2.7l-2.7 2.7l-2.7 -2.7z" fill="#231f20"/>
<path d="M273.2 656.4l2.7 2.7l-2.7 2.7l-2.7 -2.7z" fill="#231f20"/>
<path d="M276.4 656.1l2.7 2.7l-2.7 2.7l-2.7 -2.7z" fill="#231f20"/>
<path d="M262.5 662.3l2.7 2.7l-2.7 2.7l-2.7 -2.7z" fill="#231f20"/>
<path d="M269.4 661l2.7 2.7l-2.7 2.7l-2.7 -2.7z" fill="#231f20"/>
<path d="M283.7 660.3l2.7 2.7l-2.7 2.7l-2.7 -2.7z" fill="#231f20"/>
<rect x="307" y="663.36" width="33" height="1.54" stroke="#e8202f" stroke-width="1.6" fill="none"/>
<line x1="323.5" y1="664.9" x2="323.5" y2="667.9" stroke="#231f20" stroke-width="1.2"/>
<line x1="323.5" y1="662.2" x2="323.5" y2="664.9" stroke="#e8202f" stroke-width="1.5"/>
<line x1="317.5" y1="662.2" x2="329.5" y2="662.2" stroke="#e8202f" stroke-width="1.5"/>
<line x1="317.5" y1="664.9" x2="329.5" y2="664.9" stroke="#e8202f" stroke-width="1.5"/>
<path d="M323.4 642.6l2.7 2.7l-2.7 2.7l-2.7 -2.7z" fill="#e8202f"/>
<path d="M309 661.4l2.6 2.6l-2.6 2.6l-2.6 -2.6z" fill="#e8202f"/>
<path d="M312.5 660.9l2.6 2.6l-2.6 2.6l-2.6 -2.6z" fill="#e8202f"/>
<path d="M316 659.9l2.6 2.6l-2.6 2.6l-2.6 -2.6z" fill="#e8202f"/>
<path d="M318.5 658.4l2.6 2.6l-2.6 2.6l-2.6 -2.6z" fill="#e8202f"/>
<path d="M321 660.9l2.6 2.6l-2.6 2.6l-2.6 -2.6z" fill="#e8202f"/>
<path d="M324 660.4l2.6 2.6l-2.6 2.6l-2.6 -2.6z" fill="#e8202f"/>
<path d="M327 659.9l2.6 2.6l-2.6 2.6l-2.6 -2.6z" fill="#e8202f"/>
<path d="M330.5 660.9l2.6 2.6l-2.6 2.6l-2.6 -2.6z" fill="#e8202f"/>
<path d="M334 661.4l2.6 2.6l-2.6 2.6l-2.6 -2.6z" fill="#e8202f"/>
<path d="M337 661.6l2.6 2.6l-2.6 2.6l-2.6 -2.6z" fill="#e8202f"/>
<path d="M314 662.4l2.6 2.6l-2.6 2.6l-2.6 -2.6z" fill="#e8202f"/>
<path d="M326 662.4l2.6 2.6l-2.6 2.6l-2.6 -2.6z" fill="#e8202f"/>
<path d="M320 657.2l2.6 2.6l-2.6 2.6l-2.6 -2.6z" fill="#e8202f"/>
<path d="M329 658.9l2.6 2.6l-2.6 2.6l-2.6 -2.6z" fill="#e8202f"/>
<rect x="357.3" y="654.5" width="32.7" height="10.39" stroke="#3658a8" stroke-width="1.6" fill="none"/>
<line x1="373.65" y1="664.9" x2="373.65" y2="667.9" stroke="#231f20" stroke-width="1.2"/>
<line x1="373.65" y1="650.65" x2="373.65" y2="658.36" stroke="#3658a8" stroke-width="1.5"/>
<line x1="365.95" y1="650.65" x2="381.35" y2="650.65" stroke="#3658a8" stroke-width="1.5"/>
<line x1="365.95" y1="658.36" x2="381.35" y2="658.36" stroke="#3658a8" stroke-width="1.5"/>
<path d="M374.6 609.4l2.6 2.6l-2.6 2.6l-2.6 -2.6z" fill="#3658a8"/>
<path d="M373 618.7l2.6 2.6l-2.6 2.6l-2.6 -2.6z" fill="#3658a8"/>
<path d="M373.6 642.6l2.6 2.6l-2.6 2.6l-2.6 -2.6z" fill="#3658a8"/>
<path d="M369.5 647.2l2.6 2.6l-2.6 2.6l-2.6 -2.6z" fill="#3658a8"/>
<path d="M375.5 648.9l2.6 2.6l-2.6 2.6l-2.6 -2.6z" fill="#3658a8"/>
<path d="M364 654.4l2.6 2.6l-2.6 2.6l-2.6 -2.6z" fill="#3658a8"/>
<path d="M371.5 653.9l2.6 2.6l-2.6 2.6l-2.6 -2.6z" fill="#3658a8"/>
<path d="M378.5 654.9l2.6 2.6l-2.6 2.6l-2.6 -2.6z" fill="#3658a8"/>
<path d="M362.5 658.9l2.6 2.6l-2.6 2.6l-2.6 -2.6z" fill="#3658a8"/>
<path d="M369 660.4l2.6 2.6l-2.6 2.6l-2.6 -2.6z" fill="#3658a8"/>
<path d="M377 659.4l2.6 2.6l-2.6 2.6l-2.6 -2.6z" fill="#3658a8"/>
<path d="M381 660.4l2.6 2.6l-2.6 2.6l-2.6 -2.6z" fill="#3658a8"/>
<path d="M385 661.4l2.6 2.6l-2.6 2.6l-2.6 -2.6z" fill="#3658a8"/>
<path d="M366 661.9l2.6 2.6l-2.6 2.6l-2.6 -2.6z" fill="#3658a8"/>
<path d="M374 661.9l2.6 2.6l-2.6 2.6l-2.6 -2.6z" fill="#3658a8"/>
<path d="M388 662.2l2.6 2.6l-2.6 2.6l-2.6 -2.6z" fill="#3658a8"/>
<path d="M360.5 662l2.6 2.6l-2.6 2.6l-2.6 -2.6z" fill="#3658a8"/>
<line x1="271.7" y1="504" x2="374.5" y2="504" stroke="#231f20" stroke-width="1.3"/>
<line x1="271.7" y1="517.2" x2="315.8" y2="517.2" stroke="#231f20" stroke-width="1.3"/>
<line x1="330.6" y1="600.2" x2="375" y2="600.2" stroke="#231f20" stroke-width="1.3"/>
<text x="302.35" y="502.2" font-size="10.91" transform="matrix(1 0 0 1.07 0 -35.15)" fill="#333333">p=0.044</text>
<text x="271.64" y="514.5" font-size="10.99" transform="matrix(1 0 0 1.07 0 -36.02)" fill="#333333">p=0.0001</text>
<text x="332.62" y="597.4" font-size="11.28" transform="matrix(1 0 0 1.07 0 -41.82)" fill="#333333">p=0.005</text>
<text x="248.22" y="676.7" font-size="10.08" transform="matrix(1 0 0 1.07 0 -47.37)" fill="#333333">PIEZO2 +</text>
<text x="245.71" y="689.1" font-size="9.49" transform="matrix(1 0 0 1.07 0 -48.24)" fill="#333333">tdTOMATO</text>
<text x="300.33" y="676.7" font-size="9.96" transform="matrix(1 0 0 1.07 0 -47.37)" fill="#e8202f">PIEZO2 +</text>
<text x="296.73" y="689.1" font-size="9.88" transform="matrix(1 0 0 1.07 0 -48.24)" fill="#e8202f">TMEM120A</text>
<text x="311.71" y="700.7" font-size="10.3" transform="matrix(1 0 0 1.07 0 -49.05)" fill="#e8202f">(WT)</text>
<text x="354.93" y="676.7" font-size="9.96" transform="matrix(1 0 0 1.07 0 -47.37)" fill="#1f6fbf">PIEZO2 +</text>
<text x="351.83" y="689.1" font-size="9.78" transform="matrix(1 0 0 1.07 0 -48.24)" fill="#1f6fbf">TMEM120A</text>
<text x="356.8" y="700.7" font-size="10.42" transform="matrix(1 0 0 1.07 0 -49.05)" fill="#1f6fbf">(W193A)</text>
<text x="444.63" y="520.4" font-size="9.98" transform="matrix(1 0 0 1.07 0 -36.43)" fill="#333333">PIEZO2 +</text>
<text x="442.4" y="532.2" font-size="9.63" transform="matrix(1 0 0 1.07 0 -37.25)" fill="#333333">tdTOMATO</text>
<text x="524.83" y="520.2" font-size="10.05" transform="matrix(1 0 0 1.07 0 -36.41)" fill="#e8202f">PIEZO2 +</text>
<text x="521.83" y="532.2" font-size="9.8" transform="matrix(1 0 0 1.07 0 -37.25)" fill="#e8202f">TMEM120A</text>
<text x="536.02" y="544.6" font-size="10.11" transform="matrix(1 0 0 1.07 0 -38.12)" fill="#e8202f">(WT)</text>
<text x="607.84" y="520.3" font-size="9.89" transform="matrix(1 0 0 1.07 0 -36.42)" fill="#1f6fbf">PIEZO2 +</text>
<text x="604.13" y="532.3" font-size="9.71" transform="matrix(1 0 0 1.07 0 -37.26)" fill="#1f6fbf">TMEM120A</text>
<text x="609.62" y="544.8" font-size="10.15" transform="matrix(1 0 0 1.07 0 -38.14)" fill="#1f6fbf">(W193A)</text>
<rect x="440.9" y="547.9" width="52.5" height="8" fill="#cdcdcd"/>
<rect x="440.9" y="548.1" width="52.5" height="1.7" fill="#8a8a8a"/>
<rect x="440.9" y="552.2" width="52.5" height="1.5" fill="#939393"/>
<rect x="440.9" y="554.9" width="52.5" height="0.9" fill="#b5b5b5"/>
<path d="M437.5 561.4 L438.7 560.4 L440.9 548.2 L440.9 555.4" stroke="#444444" stroke-width="0.9" fill="none"/>
<path d="M496.6 561.4 L495.4 560.4 L493.4 548.2 L493.4 555.4" stroke="#444444" stroke-width="0.9" fill="none"/>
<line x1="499.3" y1="548.4" x2="499.3" y2="561.5" stroke="#333333" stroke-width="0.9"/>
<text x="500.73" y="556.4" font-size="7.31" transform="matrix(1 0 0 1.07 0 -38.95)" fill="#333333">8 µm</text>
<rect x="520" y="547.9" width="52.5" height="8" fill="#cdcdcd"/>
<rect x="520" y="548.1" width="52.5" height="1.7" fill="#8a8a8a"/>
<rect x="520" y="552.2" width="52.5" height="1.5" fill="#939393"/>
<rect x="520" y="554.9" width="52.5" height="0.9" fill="#b5b5b5"/>
<path d="M516.6 561.4 L517.8 560.4 L520 548.2 L520 555.4" stroke="#444444" stroke-width="0.9" fill="none"/>
<path d="M575.7 561.4 L574.5 560.4 L572.5 548.2 L572.5 555.4" stroke="#444444" stroke-width="0.9" fill="none"/>
<line x1="578.3" y1="548.2" x2="578.3" y2="561.3" stroke="#333333" stroke-width="0.9"/>
<text x="579.8" y="556.4" font-size="8.01" transform="matrix(1 0 0 1.07 0 -38.95)" fill="#333333">8 µm</text>
<rect x="602.4" y="547.8" width="53.1" height="8" fill="#cdcdcd"/>
<rect x="602.4" y="548" width="53.1" height="1.7" fill="#8a8a8a"/>
<rect x="602.4" y="552.1" width="53.1" height="1.5" fill="#939393"/>
<rect x="602.4" y="554.8" width="53.1" height="0.9" fill="#b5b5b5"/>
<path d="M599 560.8 L600.2 559.8 L602.4 548.1 L602.4 555.3" stroke="#444444" stroke-width="0.9" fill="none"/>
<path d="M658.7 560.8 L657.5 559.8 L655.5 548.1 L655.5 555.3" stroke="#444444" stroke-width="0.9" fill="none"/>
<line x1="661.7" y1="547.8" x2="661.7" y2="560.8" stroke="#333333" stroke-width="0.9"/>
<text x="662.71" y="556.2" font-size="7.78" transform="matrix(1 0 0 1.07 0 -38.93)" fill="#333333">8 µm</text>
<path d="M440 570.4 L440.2 574.22 L440.4 578.88 L440.6 583.92 L440.8 589.22 L441 594.72 L441.2 600.39 L441.4 606.21 L441.6 612.16 L441.8 618.21 L442 624.37 L442.2 630.62 L442.4 636.96 L442.6 643.38 L442.8 649.87 L443 656.43 L443.2 663.06 L443.4 664.36 L443.6 660.33 L443.8 656.37 L444 652.47 L444.2 648.64 L444.4 644.88 L444.6 641.19 L444.8 637.58 L445 634.03 L445.2 630.56 L445.4 627.15 L445.6 623.83 L445.8 620.58 L446 617.41 L446.2 614.31 L446.4 611.3 L446.6 608.36 L446.8 605.51 L447 602.75 L447.2 600.07 L447.4 597.47 L447.6 594.97 L447.8 592.56 L448 590.24 L448.2 588.03 L448.4 585.91 L448.6 583.89 L448.8 581.98 L449 580.19 L449.2 578.51 L449.4 576.95 L449.6 575.52 L449.8 574.22 L450 573.07 L450.2 572.09 L450.4 571.28 L450.6 570.69 L450.8 570.4 L451 570.4 L451.2 570.4 L451.4 570.4 L451.6 570.4 L451.8 570.4 L452 570.4 L452.2 570.4 L452.4 570.4 L452.6 570.4 L452.8 570.4 L453 570.4 L453.2 570.4 L453.4 570.4 L453.6 570.4 L453.8 570.4 L454 570.4 L454.2 570.4 L454.4 570.4 L454.6 570.4 L454.8 570.4" stroke="#231f20" stroke-width="1.45" fill="none" stroke-linejoin="round"/>
<path d="M440.2 570.4 L440.4 572.32 L440.6 574.67 L440.8 577.2 L441 579.87 L441.2 582.64 L441.4 585.49 L441.6 588.42 L441.8 591.41 L442 594.46 L442.2 597.56 L442.4 600.71 L442.6 603.9 L442.8 607.13 L443 610.39 L443.2 613.7 L443.4 617.03 L443.6 620.4 L443.8 618.41 L444 616.45 L444.2 614.52 L444.4 612.62 L444.6 610.74 L444.8 608.89 L445 607.08 L445.2 605.29 L445.4 603.53 L445.6 601.8 L445.8 600.1 L446 598.44 L446.2 596.8 L446.4 595.2 L446.6 593.64 L446.8 592.11 L447 590.61 L447.2 589.15 L447.4 587.73 L447.6 586.34 L447.8 584.99 L448 583.69 L448.2 582.42 L448.4 581.2 L448.6 580.02 L448.8 578.89 L449 577.81 L449.2 576.78 L449.4 575.8 L449.6 574.87 L449.8 574.01 L450 573.21 L450.2 572.48 L450.4 571.83 L450.6 571.26 L450.8 570.8 L451 570.48 L451.2 570.4 L451.4 570.4 L451.6 570.4 L451.8 570.4 L452 570.4 L452.2 570.4 L452.4 570.4 L452.6 570.4 L452.8 570.4 L453 570.4 L453.2 570.4 L453.4 570.4 L453.6 570.4 L453.8 570.4 L454 570.4 L454.2 570.4 L454.4 570.4 L454.6 570.4 L454.8 570.4 L455 570.4" stroke="#231f20" stroke-width="1.45" fill="none" stroke-linejoin="round"/>
<path d="M440.5 570.4 L440.7 571.73 L440.9 573.34 L441.1 575.09 L441.3 576.93 L441.5 578.84 L441.7 580.81 L441.9 582.83 L442.1 584.89 L442.3 586.99 L442.5 589.13 L442.7 591.3 L442.9 593.5 L443.1 595.73 L443.3 597.98 L443.5 600.26 L443.7 602.56 L443.9 604.88 L444.1 607.22 L444.3 607.69 L444.5 606.28 L444.7 604.89 L444.9 603.52 L445.1 602.17 L445.3 600.84 L445.5 599.52 L445.7 598.23 L445.9 596.96 L446.1 595.7 L446.3 594.47 L446.5 593.25 L446.7 592.06 L446.9 590.89 L447.1 589.74 L447.3 588.62 L447.5 587.51 L447.7 586.43 L447.9 585.37 L448.1 584.34 L448.3 583.33 L448.5 582.35 L448.7 581.4 L448.9 580.47 L449.1 579.57 L449.3 578.69 L449.5 577.85 L449.7 577.04 L449.9 576.26 L450.1 575.51 L450.3 574.8 L450.5 574.12 L450.7 573.49 L450.9 572.89 L451.1 572.34 L451.3 571.83 L451.5 571.38 L451.7 570.99 L451.9 570.68 L452.1 570.45 L452.3 570.4 L452.5 570.4 L452.7 570.4 L452.9 570.4 L453.1 570.4 L453.3 570.4 L453.5 570.4 L453.7 570.4 L453.9 570.4 L454.1 570.4 L454.3 570.4 L454.5 570.4 L454.7 570.4 L454.9 570.4 L455.1 570.4 L455.3 570.4 L455.5 570.4 L455.7 570.4 L455.9 570.4 L456.1 570.4" stroke="#231f20" stroke-width="1.45" fill="none" stroke-linejoin="round"/>
<path d="M440.8 570.4 L441 571.26 L441.2 572.31 L441.4 573.45 L441.6 574.64 L441.8 575.88 L442 577.16 L442.2 578.47 L442.4 579.81 L442.6 581.18 L442.8 582.57 L443 583.98 L443.2 585.41 L443.4 586.85 L443.6 588.32 L443.8 589.79 L444 591.29 L444.2 592.8 L444.4 594.32 L444.6 595.85 L444.8 597.4 L445 596.45 L445.2 595.52 L445.4 594.59 L445.6 593.68 L445.8 592.78 L446 591.89 L446.2 591.01 L446.4 590.15 L446.6 589.3 L446.8 588.46 L447 587.63 L447.2 586.81 L447.4 586.01 L447.6 585.23 L447.8 584.45 L448 583.69 L448.2 582.95 L448.4 582.22 L448.6 581.5 L448.8 580.8 L449 580.11 L449.2 579.45 L449.4 578.79 L449.6 578.15 L449.8 577.53 L450 576.93 L450.2 576.35 L450.4 575.78 L450.6 575.23 L450.8 574.71 L451 574.2 L451.2 573.72 L451.4 573.25 L451.6 572.81 L451.8 572.4 L452 572.01 L452.2 571.66 L452.4 571.33 L452.6 571.04 L452.8 570.79 L453 570.58 L453.2 570.43 L453.4 570.4 L453.6 570.4 L453.8 570.4 L454 570.4 L454.2 570.4 L454.4 570.4 L454.6 570.4 L454.8 570.4 L455 570.4 L455.2 570.4 L455.4 570.4 L455.6 570.4 L455.8 570.4 L456 570.4 L456.2 570.4 L456.4 570.4 L456.6 570.4 L456.8 570.4 L457 570.4 L457.2 570.4" stroke="#231f20" stroke-width="1.45" fill="none" stroke-linejoin="round"/>
<path d="M441.2 570.4 L441.4 570.9 L441.6 571.51 L441.8 572.17 L442 572.86 L442.2 573.58 L442.4 574.32 L442.6 575.08 L442.8 575.85 L443 576.64 L443.2 577.45 L443.4 578.27 L443.6 579.09 L443.8 579.93 L444 580.78 L444.2 581.64 L444.4 582.5 L444.6 583.38 L444.8 584.26 L445 585.15 L445.2 586.04 L445.4 586.95 L445.6 587.12 L445.8 586.56 L446 586 L446.2 585.46 L446.4 584.91 L446.6 584.38 L446.8 583.85 L447 583.33 L447.2 582.82 L447.4 582.31 L447.6 581.81 L447.8 581.32 L448 580.83 L448.2 580.36 L448.4 579.89 L448.6 579.42 L448.8 578.97 L449 578.52 L449.2 578.08 L449.4 577.65 L449.6 577.23 L449.8 576.82 L450 576.41 L450.2 576.01 L450.4 575.63 L450.6 575.25 L450.8 574.88 L451 574.52 L451.2 574.17 L451.4 573.84 L451.6 573.51 L451.8 573.19 L452 572.89 L452.2 572.6 L452.4 572.32 L452.6 572.05 L452.8 571.8 L453 571.56 L453.2 571.33 L453.4 571.13 L453.6 570.94 L453.8 570.77 L454 570.62 L454.2 570.5 L454.4 570.42 L454.6 570.4 L454.8 570.4 L455 570.4 L455.2 570.4 L455.4 570.4 L455.6 570.4 L455.8 570.4 L456 570.4 L456.2 570.4 L456.4 570.4 L456.6 570.4 L456.8 570.4 L457 570.4 L457.2 570.4 L457.4 570.4 L457.6 570.4 L457.8 570.4 L458 570.4 L458.2 570.4 L458.4 570.4" stroke="#231f20" stroke-width="1.45" fill="none" stroke-linejoin="round"/>
<path d="M434.4 570.22 L435.1 570.05 L435.8 570.55 L436.5 569.97 L437.2 570.44 L437.9 570.27 L438.6 569.96 L439.3 570.41 L440 569.94 L440.7 570.33 L441.4 569.97 L442.1 569.99 L442.8 570.32 L443.5 570.73 L444.2 570.02 L444.9 570.12 L445.6 570.53 L446.3 570.85 L447 570.48 L447.7 570.3 L448.4 570.88 L449.1 569.95 L449.8 570.76 L450.5 570.19 L451.2 570.04 L451.9 570.02 L452.6 570.21 L453.3 570.72 L454 570.08 L454.7 570.48 L455.4 570.54 L456.1 570.27 L456.8 570.45 L457.5 569.96 L458.2 569.96 L458.9 570.11 L459.6 570.58 L460.3 570.33 L461 570.21 L461.7 570.49 L462.4 570.35 L463.1 570.2 L463.8 570.69 L464.5 570.6 L465.2 570.14 L465.9 570.47 L466.6 570.43 L467.3 570.78 L468 570.63 L468.7 570.19 L469.4 570.88 L470.1 570.02 L470.8 570.32 L471.5 570.66 L472.2 570.05 L472.9 570.39 L473.6 569.94 L474.3 570.57 L475 570.66 L475.7 570.47 L476.4 570.78 L477.1 570.21 L477.8 570.6 L478.5 570.49 L479.2 570.48 L479.9 570.36 L480.6 570.74 L481.3 570.84 L482 570.37 L482.7 570.56 L483.4 569.96 L484.1 570.6 L484.8 570.55 L485.5 570.89 L486.2 570.72 L486.9 570.18 L487.6 570.29 L488.3 570.57 L489 569.92 L489.7 570.36 L490.4 570.07 L491.1 570.02 L491.8 569.96 L492.5 570.67 L493.2 570.03 L493.9 570.15 L494.6 570.29 L495.3 570.77 L496 569.98 L496.7 570.35 L497.4 570.45 L498.1 570.78 L498.8 570.72" stroke="#231f20" stroke-width="2.5" fill="none" stroke-linejoin="round"/>
<line x1="495.2" y1="563.5" x2="495.2" y2="570.4" stroke="#231f20" stroke-width="1.2"/>
<path d="M516 568.76 L516.6 568.32 L517.2 568.78 L517.8 568.05 L518.4 568.13 L519 568.38 L519.6 568.16 L520.2 568.32 L520.8 568.47 L521.4 568.59 L522 568.52 L522.6 567.95 L523.2 568.68 L523.8 568.7 L524.4 568.3 L525 568.53 L525.6 567.97 L526.2 568.06 L526.8 567.95 L527.4 568.05 L528 568.26 L528.6 568.77 L529.2 568.05 L529.8 568.25 L530.4 568.02 L531 568.89 L531.6 568.38 L532.2 568 L532.8 568.16 L533.4 568.06 L534 568.85 L534.6 568.05 L535.2 567.93 L535.8 568.88 L536.4 568.6 L537 568.27 L537.6 568.67 L538.2 568.68 L538.8 568.12 L539.4 568.88 L540 568.71 L540.6 568.64 L541.2 568.42 L541.8 567.93 L542.4 568.18 L543 568.59 L543.6 568.35 L544.2 568.89 L544.8 568.26 L545.4 568.13 L546 568.1 L546.6 568.8 L547.2 568.38 L547.8 568.7 L548.4 568.56 L549 568.68 L549.6 568.38 L550.2 568.69 L550.8 568.7 L551.4 568.3 L552 568.85 L552.6 568.07 L553.2 568.05 L553.8 568.71 L554.4 568.73 L555 568.56 L555.6 568.45 L556.2 567.91 L556.8 568.55 L557.4 568.83 L558 568.77 L558.6 568.11 L559.2 568.19 L559.8 568.49 L560.4 568.32 L561 568.81 L561.6 568.36 L562.2 568.8 L562.8 568.82 L563.4 568.43 L564 567.92 L564.6 568.08 L565.2 568.7 L565.8 568.37 L566.4 568.46 L567 568.42 L567.6 568.68 L568.2 568.46 L568.8 568.18 L569.4 568.41 L570 568.66 L570.6 568.34 L571.2 568.41 L571.8 568.59 L572.4 568.43 L573 568.84 L573.6 568.78 L574.2 568.16 L574.8 568.84 L575.4 568.04 L576 568.34 L576.6 568.14 L577.2 568.57 L577.8 568.8 L578.4 568.62 L579 568.04 L579.6 568.87 L580.2 568.85 L580.8 568.39 L580.8 572.49 L580.2 571.9 L579.6 571.72 L579 572.38 L578.4 572.16 L577.8 571.65 L577.2 572.28 L576.6 571.57 L576 571.57 L575.4 571.62 L574.8 572.34 L574.2 572.06 L573.6 572.44 L573 572.2 L572.4 571.98 L571.8 571.95 L571.2 572.01 L570.6 572.11 L570 572.41 L569.4 572.06 L568.8 572.27 L568.2 571.75 L567.6 571.61 L567 572.06 L566.4 571.83 L565.8 572.23 L565.2 571.67 L564.6 571.51 L564 571.94 L563.4 572.03 L562.8 572.01 L562.2 571.92 L561.6 572.09 L561 571.86 L560.4 571.64 L559.8 571.77 L559.2 571.75 L558.6 571.76 L558 572.33 L557.4 571.94 L556.8 572.04 L556.2 572.48 L555.6 571.64 L555 571.87 L554.4 572.5 L553.8 571.66 L553.2 572.43 L552.6 571.65 L552 572.25 L551.4 571.93 L550.8 572.5 L550.2 571.87 L549.6 571.72 L549 572.3 L548.4 572.46 L547.8 571.64 L547.2 572.22 L546.6 572.41 L546 572.2 L545.4 571.78 L544.8 571.82 L544.2 572.56 L543.6 572.56 L543 572.59 L542.4 571.91 L541.8 571.69 L541.2 572.04 L540.6 571.93 L540 572.55 L539.4 572.61 L538.8 572.6 L538.2 572.15 L537.6 572.39 L537 572.06 L536.4 572.2 L535.8 572.86 L535.2 572.58 L534.6 572.66 L534 572.71 L533.4 572.29 L532.8 573.18 L532.2 572.79 L531.6 572.65 L531 573.15 L530.4 573.67 L529.8 573.34 L529.2 573.39 L528.6 573.94 L528 573.56 L527.4 573.87 L526.8 574.03 L526.2 574.66 L525.6 574.84 L525 575.04 L524.4 575.46 L523.8 576.16 L523.2 577.07 L522.6 577.54 L522 577.76 L521.4 577.99 L520.8 578.7 L520.2 578.17 L519.6 577.45 L519 576.96 L518.4 574.32 L517.8 571.68 L517.2 572.46 L516.6 571.86 L516 571.78 Z" fill="#e8202f" stroke="#e8202f" stroke-width="0.6" stroke-linejoin="round"/>
<line x1="575.1" y1="562.3" x2="575.1" y2="569" stroke="#e8202f" stroke-width="1.3"/>
<path d="M603.1 570.3 L603.3 593.82 L603.5 610.07 L603.7 621.02 L603.9 628.14 L604.1 632.48 L604.3 634.82 L604.5 635.74 L604.7 635.64 L604.9 634.82 L605.1 633.52 L605.3 631.89 L605.5 630.04 L605.7 628.07 L605.9 626.03 L606.1 623.97 L606.3 621.91 L606.5 619.88 L606.7 617.89 L606.9 615.95 L607.1 614.07 L607.3 612.26 L607.5 610.51 L607.7 608.82 L607.9 607.2 L608.1 605.65 L608.3 604.15 L608.5 602.72 L608.7 601.35 L608.9 600.03 L609.1 598.77 L609.3 597.56 L609.5 596.4 L609.7 595.29 L609.9 594.23 L610.1 593.21 L610.3 592.24 L610.5 591.3 L610.7 590.41 L610.9 589.55 L611.1 588.74 L611.3 587.95 L611.5 587.2 L611.7 586.48 L611.9 585.79 L612.1 585.13 L612.3 584.5 L612.5 583.9 L612.7 583.32 L612.9 582.77 L613.1 582.24 L613.3 581.73 L613.5 581.24 L613.7 580.78 L613.9 580.33 L614.1 579.9 L614.3 579.49 L614.5 579.1 L614.7 578.73 L614.9 578.37 L615.1 578.03 L615.3 577.7 L615.5 577.38 L615.7 577.08 L615.9 576.79 L616.1 576.52 L616.3 576.25 L616.5 576 L616.7 575.76 L616.9 575.52 L617.1 575.3 L617.3 575.09 L617.5 574.89 L617.7 574.69 L617.9 574.5 L618.1 574.33 L618.3 574.15 L618.5 573.99 L618.7 573.83 L618.9 573.68 L619.1 573.54 L619.3 573.4 L619.5 573.27 L619.7 573.14 L619.9 573.02 L620.1 572.91 L620.3 572.8 L620.5 572.69 L620.7 572.59 L620.9 572.49 L621.1 572.4 L621.3 572.31 L621.5 572.22 L621.7 572.14 L621.9 572.06 L622.1 571.99 L622.3 571.92 L622.5 571.85 L622.7 571.78 L622.9 571.72 L623.1 571.66 L623.3 571.6 L623.5 571.54 L623.7 571.49 L623.9 571.44 L624.1 571.39 L624.3 571.35 L624.5 571.3 L624.7 571.26 L624.9 571.22 L625.1 571.18" stroke="#3658a8" stroke-width="1.3" fill="none" stroke-linejoin="round"/>
<path d="M603.2 570.3 L603.4 583.69 L603.6 593.33 L603.8 600.17 L604 604.91 L604.2 608.09 L604.4 610.09 L604.6 611.23 L604.8 611.73 L605 611.76 L605.2 611.45 L605.4 610.89 L605.6 610.15 L605.8 609.29 L606 608.35 L606.2 607.35 L606.4 606.33 L606.6 605.29 L606.8 604.25 L607 603.22 L607.2 602.21 L607.4 601.21 L607.6 600.23 L607.8 599.27 L608 598.34 L608.2 597.44 L608.4 596.56 L608.6 595.71 L608.8 594.88 L609 594.08 L609.2 593.3 L609.4 592.55 L609.6 591.82 L609.8 591.12 L610 590.44 L610.2 589.78 L610.4 589.14 L610.6 588.52 L610.8 587.93 L611 587.35 L611.2 586.79 L611.4 586.25 L611.6 585.73 L611.8 585.22 L612 584.73 L612.2 584.26 L612.4 583.8 L612.6 583.36 L612.8 582.93 L613 582.52 L613.2 582.12 L613.4 581.73 L613.6 581.35 L613.8 580.99 L614 580.64 L614.2 580.3 L614.4 579.97 L614.6 579.66 L614.8 579.35 L615 579.05 L615.2 578.77 L615.4 578.49 L615.6 578.22 L615.8 577.96 L616 577.71 L616.2 577.47 L616.4 577.23 L616.6 577.01 L616.8 576.79 L617 576.57 L617.2 576.37 L617.4 576.17 L617.6 575.98 L617.8 575.79 L618 575.61 L618.2 575.44 L618.4 575.27 L618.6 575.1 L618.8 574.95 L619 574.79 L619.2 574.65 L619.4 574.5 L619.6 574.37 L619.8 574.23 L620 574.1 L620.2 573.98 L620.4 573.86 L620.6 573.74 L620.8 573.63 L621 573.52 L621.2 573.41 L621.4 573.31 L621.6 573.21 L621.8 573.12 L622 573.03 L622.2 572.94 L622.4 572.85 L622.6 572.77 L622.8 572.69 L623 572.61 L623.2 572.53 L623.4 572.46 L623.6 572.39 L623.8 572.32 L624 572.25 L624.2 572.19 L624.4 572.13 L624.6 572.07 L624.8 572.01 L625 571.95 L625.2 571.9 L625.4 571.85 L625.6 571.8 L625.8 571.75 L626 571.7 L626.2 571.65 L626.4 571.61 L626.6 571.57 L626.8 571.52 L627 571.48 L627.2 571.45 L627.4 571.41 L627.6 571.37 L627.8 571.34 L628 571.3 L628.2 571.27 L628.4 571.24 L628.6 571.21 L628.8 571.18 L629 571.15 L629.2 571.12 L629.4 571.09 L629.6 571.07 L629.8 571.04 L630 571.02 L630.2 571 L630.4 570.97 L630.6 570.95 L630.8 570.93 L631 570.91 L631.2 570.89 L631.4 570.87 L631.6 570.85 L631.8 570.83" stroke="#3658a8" stroke-width="1.3" fill="none" stroke-linejoin="round"/>
<path d="M603.3 570.3 L603.5 577.66 L603.7 583.13 L603.9 587.15 L604.1 590.07 L604.3 592.13 L604.5 593.54 L604.7 594.46 L604.9 595 L605.1 595.25 L605.3 595.29 L605.5 595.17 L605.7 594.93 L605.9 594.6 L606.1 594.2 L606.3 593.76 L606.5 593.29 L606.7 592.8 L606.9 592.29 L607.1 591.78 L607.3 591.26 L607.5 590.75 L607.7 590.24 L607.9 589.74 L608.1 589.25 L608.3 588.76 L608.5 588.29 L608.7 587.82 L608.9 587.37 L609.1 586.92 L609.3 586.49 L609.5 586.07 L609.7 585.65 L609.9 585.25 L610.1 584.86 L610.3 584.48 L610.5 584.1 L610.7 583.74 L610.9 583.39 L611.1 583.04 L611.3 582.71 L611.5 582.38 L611.7 582.06 L611.9 581.76 L612.1 581.45 L612.3 581.16 L612.5 580.87 L612.7 580.6 L612.9 580.33 L613.1 580.06 L613.3 579.81 L613.5 579.56 L613.7 579.31 L613.9 579.07 L614.1 578.84 L614.3 578.62 L614.5 578.4 L614.7 578.19 L614.9 577.98 L615.1 577.78 L615.3 577.58 L615.5 577.39 L615.7 577.2 L615.9 577.02 L616.1 576.84 L616.3 576.67 L616.5 576.5 L616.7 576.34 L616.9 576.18 L617.1 576.03 L617.3 575.88 L617.5 575.73 L617.7 575.59 L617.9 575.45 L618.1 575.31 L618.3 575.18 L618.5 575.05 L618.7 574.93 L618.9 574.8 L619.1 574.69 L619.3 574.57 L619.5 574.46 L619.7 574.35 L619.9 574.24 L620.1 574.14 L620.3 574.04 L620.5 573.94 L620.7 573.84 L620.9 573.75 L621.1 573.66 L621.3 573.57 L621.5 573.49 L621.7 573.4 L621.9 573.32 L622.1 573.24 L622.3 573.16 L622.5 573.09 L622.7 573.01 L622.9 572.94 L623.1 572.87 L623.3 572.81 L623.5 572.74 L623.7 572.68 L623.9 572.61 L624.1 572.55 L624.3 572.49 L624.5 572.44 L624.7 572.38 L624.9 572.32 L625.1 572.27 L625.3 572.22 L625.5 572.17 L625.7 572.12 L625.9 572.07 L626.1 572.02 L626.3 571.98 L626.5 571.94 L626.7 571.89 L626.9 571.85 L627.1 571.81 L627.3 571.77 L627.5 571.73 L627.7 571.69 L627.9 571.66 L628.1 571.62 L628.3 571.59 L628.5 571.55 L628.7 571.52 L628.9 571.49 L629.1 571.46 L629.3 571.43 L629.5 571.4 L629.7 571.37 L629.9 571.34 L630.1 571.31 L630.3 571.29 L630.5 571.26 L630.7 571.23 L630.9 571.21 L631.1 571.19 L631.3 571.16 L631.5 571.14 L631.7 571.12 L631.9 571.1 L632.1 571.08 L632.3 571.05 L632.5 571.03 L632.7 571.02 L632.9 571 L633.1 570.98 L633.3 570.96 L633.5 570.94 L633.7 570.93 L633.9 570.91 L634.1 570.89 L634.3 570.88 L634.5 570.86 L634.7 570.85 L634.9 570.83 L635.1 570.82 L635.3 570.81 L635.5 570.79 L635.7 570.78 L635.9 570.77 L636.1 570.75 L636.3 570.74 L636.5 570.73 L636.7 570.72 L636.9 570.71 L637.1 570.7 L637.3 570.69 L637.5 570.68 L637.7 570.67 L637.9 570.66 L638.1 570.65 L638.3 570.64 L638.5 570.63 L638.7 570.62 L638.9 570.61" stroke="#3658a8" stroke-width="1.3" fill="none" stroke-linejoin="round"/>
<path d="M603.4 570.3 L603.6 574.44 L603.8 577.58 L604 579.94 L604.2 581.7 L604.4 582.98 L604.6 583.9 L604.8 584.53 L605 584.94 L605.2 585.18 L605.4 585.29 L605.6 585.29 L605.8 585.22 L606 585.09 L606.2 584.92 L606.4 584.71 L606.6 584.48 L606.8 584.23 L607 583.97 L607.2 583.7 L607.4 583.43 L607.6 583.15 L607.8 582.88 L608 582.6 L608.2 582.33 L608.4 582.06 L608.6 581.8 L608.8 581.54 L609 581.28 L609.2 581.03 L609.4 580.78 L609.6 580.54 L609.8 580.31 L610 580.08 L610.2 579.85 L610.4 579.63 L610.6 579.41 L610.8 579.2 L611 579 L611.2 578.79 L611.4 578.6 L611.6 578.4 L611.8 578.22 L612 578.03 L612.2 577.85 L612.4 577.68 L612.6 577.5 L612.8 577.34 L613 577.17 L613.2 577.01 L613.4 576.86 L613.6 576.71 L613.8 576.56 L614 576.41 L614.2 576.27 L614.4 576.13 L614.6 575.99 L614.8 575.86 L615 575.73 L615.2 575.61 L615.4 575.48 L615.6 575.36 L615.8 575.24 L616 575.13 L616.2 575.02 L616.4 574.91 L616.6 574.8 L616.8 574.7 L617 574.59 L617.2 574.49 L617.4 574.4 L617.6 574.3 L617.8 574.21 L618 574.12 L618.2 574.03 L618.4 573.94 L618.6 573.86 L618.8 573.77 L619 573.69 L619.2 573.61 L619.4 573.54 L619.6 573.46 L619.8 573.39 L620 573.32 L620.2 573.25 L620.4 573.18 L620.6 573.11 L620.8 573.05 L621 572.98 L621.2 572.92 L621.4 572.86 L621.6 572.8 L621.8 572.74 L622 572.68 L622.2 572.63 L622.4 572.57 L622.6 572.52 L622.8 572.47 L623 572.42 L623.2 572.37 L623.4 572.32 L623.6 572.28 L623.8 572.23 L624 572.18 L624.2 572.14 L624.4 572.1 L624.6 572.06 L624.8 572.02 L625 571.98 L625.2 571.94 L625.4 571.9 L625.6 571.86 L625.8 571.82 L626 571.79 L626.2 571.75 L626.4 571.72 L626.6 571.69 L626.8 571.66 L627 571.62 L627.2 571.59 L627.4 571.56 L627.6 571.53 L627.8 571.51 L628 571.48 L628.2 571.45 L628.4 571.42 L628.6 571.4 L628.8 571.37 L629 571.35 L629.2 571.32 L629.4 571.3 L629.6 571.28 L629.8 571.25 L630 571.23 L630.2 571.21 L630.4 571.19 L630.6 571.17 L630.8 571.15 L631 571.13 L631.2 571.11 L631.4 571.09 L631.6 571.07 L631.8 571.05 L632 571.04 L632.2 571.02 L632.4 571 L632.6 570.99 L632.8 570.97 L633 570.95 L633.2 570.94 L633.4 570.92 L633.6 570.91 L633.8 570.89 L634 570.88 L634.2 570.87 L634.4 570.85 L634.6 570.84 L634.8 570.83 L635 570.82 L635.2 570.8 L635.4 570.79 L635.6 570.78 L635.8 570.77 L636 570.76 L636.2 570.75 L636.4 570.74 L636.6 570.73 L636.8 570.72 L637 570.71 L637.2 570.7 L637.4 570.69 L637.6 570.68 L637.8 570.67 L638 570.66 L638.2 570.65 L638.4 570.65 L638.6 570.64 L638.8 570.63 L639 570.62 L639.2 570.62 L639.4 570.61 L639.6 570.6 L639.8 570.59 L640 570.59 L640.2 570.58 L640.4 570.57 L640.6 570.57 L640.8 570.56 L641 570.56 L641.2 570.55 L641.4 570.54 L641.6 570.54 L641.8 570.53 L642 570.53 L642.2 570.52 L642.4 570.52 L642.6 570.51 L642.8 570.51 L643 570.5 L643.2 570.5 L643.4 570.49 L643.6 570.49" stroke="#3658a8" stroke-width="1.3" fill="none" stroke-linejoin="round"/>
<path d="M594 570.83 L594.7 569.76 L595.4 570.19 L596.1 570.32 L596.8 570.04 L597.5 569.81 L598.2 570.01 L598.9 570.66 L599.6 569.53 L600.3 570.39 L601 570.2 L601.7 569.53 L602.4 570.03 L603.1 570.5 L603.8 570.32 L604.5 569.6 L605.2 571.08 L605.9 570.76 L606.6 571.05 L607.3 569.67 L608 569.92 L608.7 569.56 L609.4 570.75 L610.1 569.93 L610.8 569.71 L611.5 570.18 L612.2 570.96 L612.9 570.81 L613.6 569.91 L614.3 569.74 L615 570.97 L615.7 570.41 L616.4 570.62 L617.1 569.64 L617.8 569.59 L618.5 570.6 L619.2 570.18 L619.9 569.62 L620.6 571 L621.3 570.52 L622 570.78 L622.7 569.63 L623.4 570.87 L624.1 569.61 L624.8 570.88 L625.5 570.23 L626.2 570.04 L626.9 570.38 L627.6 570.98 L628.3 569.93 L629 569.71 L629.7 570.34 L630.4 569.88 L631.1 569.68 L631.8 569.76 L632.5 569.58 L633.2 569.82 L633.9 570 L634.6 569.99 L635.3 570.72 L636 569.96 L636.7 570.3 L637.4 569.78 L638.1 570.06 L638.8 569.53 L639.5 569.9 L640.2 569.52 L640.9 570.67 L641.6 570.38 L642.3 569.8 L643 570.26 L643.7 571 L644.4 569.67 L645.1 570.81 L645.8 570.19 L646.5 570.29 L647.2 570.84 L647.9 570.13 L648.6 570.31 L649.3 570.6 L650 571.07 L650.7 570.05 L651.4 570.83 L652.1 570.63 L652.8 570.52 L653.5 570.15 L654.2 570.06 L654.9 569.59 L655.6 569.71 L656.3 569.61 L657 570.69 L657.7 569.91 L658.4 569.76 L659.1 569.64 L659.8 570.85 L660.5 570.89 L661.2 570.57 L661.9 569.95 L662.6 569.89 L663.3 569.97 L664 570.24" stroke="#3658a8" stroke-width="3.4" fill="none" stroke-linejoin="round"/>
<line x1="657.8" y1="563" x2="657.8" y2="569.7" stroke="#3658a8" stroke-width="1.3"/>
<path d="M479.3 632.4 L479.3 656.7 L507.6 656.7" stroke="#231f20" stroke-width="1.7" fill="none" stroke-linecap="round" stroke-linejoin="round"/>
<text transform="translate(475.3 660.42) rotate(-90)" font-size="9.3" fill="#333333">200 pA</text>
<text x="477.74" y="666" font-size="9.28" transform="matrix(1 0 0 1.07 0 -46.62)" fill="#333333">100 ms</text>
<text x="4.62" y="9.6" font-size="18" font-weight="bold">a</text>
<text x="4.46" y="177.8" font-size="18" font-weight="bold">b</text>
<text x="4.95" y="299.4" font-size="18" font-weight="bold">c</text>
<text x="277.01" y="297.3" font-size="18" font-weight="bold">d</text>
<text x="511.85" y="299.3" font-size="18" font-weight="bold">e</text>
<text x="6.64" y="501.4" font-size="18" font-weight="bold">f</text>
<text x="207.51" y="501.7" font-size="18" font-weight="bold">g</text>
<text x="418.99" y="502.5" font-size="18" font-weight="bold">h</text>
</g>
</svg></body></html>
